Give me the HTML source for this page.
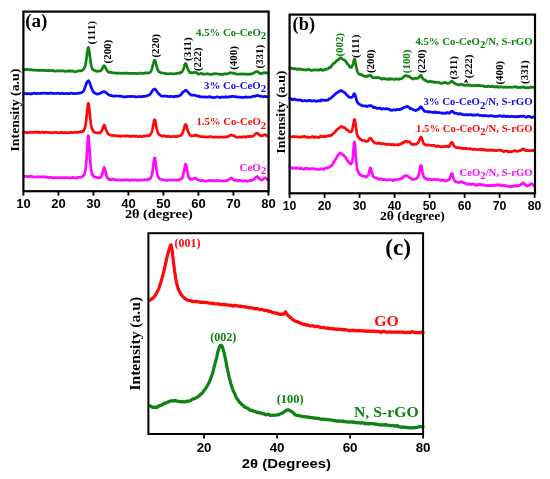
<!DOCTYPE html><html><head><meta charset="utf-8"><title>XRD patterns</title><style>html,body{margin:0;padding:0;background:#fff}svg{display:block}</style></head><body><svg width="550" height="479" viewBox="0 0 550 479">
<rect width="550" height="479" fill="#fff"/>
<path d="M23.4,69.7 L23.6,69.6 L23.8,69.5 L24.0,69.5 L24.2,69.6 L24.5,69.8 L24.7,69.8 L24.9,69.8 L25.1,69.7 L25.3,69.7 L25.5,69.7 L25.7,69.6 L25.9,69.5 L26.1,69.5 L26.3,69.4 L26.6,69.3 L26.8,69.3 L27.0,69.2 L27.2,69.2 L27.4,69.2 L27.6,69.3 L27.8,69.4 L28.0,69.6 L28.2,69.6 L28.4,69.6 L28.7,69.7 L28.9,69.7 L29.1,69.7 L29.3,69.8 L29.5,69.9 L29.7,69.9 L29.9,69.9 L30.1,69.9 L30.3,69.9 L30.5,69.9 L30.8,69.8 L31.0,69.8 L31.2,69.7 L31.4,69.7 L31.6,69.7 L31.8,69.8 L32.0,69.9 L32.2,69.9 L32.4,70.0 L32.6,70.1 L32.9,70.1 L33.1,70.1 L33.3,70.1 L33.5,70.1 L33.7,70.0 L33.9,69.9 L34.1,70.0 L34.3,70.2 L34.5,70.1 L34.7,70.0 L35.0,70.0 L35.2,70.1 L35.4,70.1 L35.6,70.1 L35.8,70.1 L36.0,70.2 L36.2,70.2 L36.4,70.2 L36.6,70.3 L36.8,70.4 L37.1,70.4 L37.3,70.5 L37.5,70.5 L37.7,70.5 L37.9,70.4 L38.1,70.3 L38.3,70.4 L38.5,70.4 L38.7,70.4 L38.9,70.3 L39.2,70.2 L39.4,70.3 L39.6,70.3 L39.8,70.3 L40.0,70.2 L40.2,70.2 L40.4,70.3 L40.6,70.3 L40.8,70.3 L41.0,70.4 L41.3,70.4 L41.5,70.3 L41.7,70.4 L41.9,70.4 L42.1,70.4 L42.3,70.4 L42.5,70.4 L42.7,70.4 L42.9,70.4 L43.1,70.3 L43.4,70.3 L43.6,70.3 L43.8,70.2 L44.0,70.2 L44.2,70.3 L44.4,70.4 L44.6,70.5 L44.8,70.6 L45.0,70.5 L45.2,70.6 L45.5,70.7 L45.7,70.7 L45.9,70.6 L46.1,70.6 L46.3,70.6 L46.5,70.7 L46.7,70.6 L46.9,70.5 L47.1,70.6 L47.3,70.6 L47.6,70.6 L47.8,70.5 L48.0,70.5 L48.2,70.4 L48.4,70.6 L48.6,70.6 L48.8,70.5 L49.0,70.4 L49.2,70.4 L49.4,70.5 L49.7,70.6 L49.9,70.7 L50.1,70.7 L50.3,70.7 L50.5,70.8 L50.7,70.9 L50.9,70.9 L51.1,70.9 L51.3,70.7 L51.5,70.6 L51.8,70.5 L52.0,70.3 L52.2,70.3 L52.4,70.4 L52.6,70.4 L52.8,70.5 L53.0,70.6 L53.2,70.7 L53.4,70.7 L53.6,70.7 L53.9,70.8 L54.1,71.0 L54.3,71.1 L54.5,71.1 L54.7,71.2 L54.9,71.2 L55.1,71.2 L55.3,71.1 L55.5,71.1 L55.7,71.1 L56.0,71.0 L56.2,70.9 L56.4,70.9 L56.6,70.8 L56.8,70.7 L57.0,70.8 L57.2,70.9 L57.4,70.9 L57.6,70.9 L57.8,70.8 L58.1,70.8 L58.3,71.0 L58.5,71.1 L58.7,71.1 L58.9,71.0 L59.1,70.9 L59.3,70.9 L59.5,70.8 L59.7,70.8 L59.9,70.9 L60.2,70.9 L60.4,70.9 L60.6,70.9 L60.8,70.8 L61.0,70.8 L61.2,70.8 L61.4,70.8 L61.6,70.9 L61.8,70.9 L62.0,70.8 L62.3,70.8 L62.5,70.9 L62.7,70.9 L62.9,70.8 L63.1,70.8 L63.3,70.9 L63.5,71.0 L63.7,71.0 L63.9,71.1 L64.1,71.3 L64.4,71.3 L64.6,71.4 L64.8,71.3 L65.0,71.3 L65.2,71.3 L65.4,71.4 L65.6,71.3 L65.8,71.1 L66.0,71.0 L66.2,71.1 L66.5,71.1 L66.7,71.1 L66.9,71.1 L67.1,71.2 L67.3,71.3 L67.5,71.3 L67.7,71.3 L67.9,71.3 L68.1,71.2 L68.3,71.1 L68.6,70.9 L68.8,70.9 L69.0,70.8 L69.2,70.8 L69.4,70.7 L69.6,70.7 L69.8,70.8 L70.0,71.0 L70.2,71.2 L70.4,71.2 L70.7,71.2 L70.9,71.2 L71.1,71.3 L71.3,71.2 L71.5,71.2 L71.7,71.1 L71.9,71.2 L72.1,71.1 L72.3,71.0 L72.5,70.9 L72.8,71.0 L73.0,71.0 L73.2,71.1 L73.4,71.3 L73.6,71.4 L73.8,71.5 L74.0,71.6 L74.2,71.7 L74.4,71.6 L74.6,71.5 L74.9,71.6 L75.1,71.7 L75.3,71.8 L75.5,71.8 L75.7,71.7 L75.9,71.6 L76.1,71.5 L76.3,71.4 L76.5,71.5 L76.7,71.5 L77.0,71.3 L77.2,71.1 L77.4,71.2 L77.6,71.2 L77.8,71.1 L78.0,71.1 L78.2,71.0 L78.4,71.0 L78.6,70.9 L78.8,70.8 L79.1,70.9 L79.3,70.9 L79.5,70.9 L79.7,70.9 L79.9,70.9 L80.1,71.0 L80.3,71.0 L80.5,71.0 L80.7,70.9 L80.9,70.8 L81.2,70.7 L81.4,70.7 L81.6,70.7 L81.8,70.6 L82.0,70.5 L82.2,70.3 L82.4,70.3 L82.6,70.2 L82.8,70.1 L83.0,69.8 L83.3,69.6 L83.5,69.4 L83.7,69.1 L83.9,68.8 L84.1,68.4 L84.3,68.1 L84.5,67.7 L84.7,67.3 L84.9,66.8 L85.1,66.1 L85.4,65.1 L85.6,64.1 L85.8,63.1 L86.0,61.9 L86.2,60.6 L86.4,59.0 L86.6,57.4 L86.8,55.8 L87.0,54.2 L87.2,52.6 L87.5,51.0 L87.7,49.6 L87.9,48.4 L88.1,47.7 L88.3,47.4 L88.5,47.6 L88.7,48.2 L88.9,49.3 L89.1,50.6 L89.3,52.1 L89.6,53.7 L89.8,55.4 L90.0,57.1 L90.2,58.7 L90.4,60.2 L90.6,61.6 L90.8,62.9 L91.0,64.0 L91.2,65.1 L91.4,66.1 L91.7,66.9 L91.9,67.6 L92.1,68.2 L92.3,68.6 L92.5,68.9 L92.7,69.3 L92.9,69.5 L93.1,69.7 L93.3,69.9 L93.5,70.1 L93.8,70.1 L94.0,70.2 L94.2,70.2 L94.4,70.3 L94.6,70.3 L94.8,70.5 L95.0,70.8 L95.2,70.9 L95.4,70.9 L95.6,71.0 L95.9,71.0 L96.1,71.0 L96.3,71.1 L96.5,71.2 L96.7,71.3 L96.9,71.3 L97.1,71.3 L97.3,71.3 L97.5,71.2 L97.7,71.1 L98.0,71.1 L98.2,71.1 L98.4,71.0 L98.6,71.0 L98.8,71.1 L99.0,71.1 L99.2,71.1 L99.4,71.1 L99.6,71.1 L99.8,71.0 L100.1,71.0 L100.3,71.0 L100.5,70.9 L100.7,70.7 L100.9,70.6 L101.1,70.4 L101.3,70.2 L101.5,70.0 L101.7,69.6 L101.9,69.3 L102.2,68.9 L102.4,68.5 L102.6,68.0 L102.8,67.7 L103.0,67.3 L103.2,66.9 L103.4,66.5 L103.6,66.2 L103.8,65.9 L104.0,65.8 L104.3,65.8 L104.5,65.9 L104.7,66.1 L104.9,66.5 L105.1,66.9 L105.3,67.3 L105.5,67.8 L105.7,68.2 L105.9,68.6 L106.1,68.9 L106.4,69.3 L106.6,69.8 L106.8,70.1 L107.0,70.3 L107.2,70.6 L107.4,70.9 L107.6,71.2 L107.8,71.5 L108.0,71.8 L108.2,72.0 L108.5,72.1 L108.7,72.3 L108.9,72.3 L109.1,72.2 L109.3,72.3 L109.5,72.4 L109.7,72.3 L109.9,72.2 L110.1,72.1 L110.3,72.1 L110.6,72.1 L110.8,72.3 L111.0,72.4 L111.2,72.5 L111.4,72.5 L111.6,72.6 L111.8,72.8 L112.0,72.9 L112.2,72.9 L112.4,72.9 L112.7,72.9 L112.9,72.9 L113.1,73.0 L113.3,73.0 L113.5,72.9 L113.7,72.9 L113.9,72.9 L114.1,72.9 L114.3,72.9 L114.5,72.9 L114.8,72.9 L115.0,73.0 L115.2,73.0 L115.4,73.1 L115.6,73.1 L115.8,73.0 L116.0,73.1 L116.2,73.2 L116.4,73.3 L116.6,73.2 L116.9,73.3 L117.1,73.3 L117.3,73.3 L117.5,73.3 L117.7,73.2 L117.9,73.2 L118.1,73.2 L118.3,73.2 L118.5,73.1 L118.7,73.1 L119.0,73.2 L119.2,73.1 L119.4,73.1 L119.6,73.2 L119.8,73.2 L120.0,73.2 L120.2,73.2 L120.4,73.3 L120.6,73.4 L120.8,73.4 L121.1,73.3 L121.3,73.3 L121.5,73.3 L121.7,73.4 L121.9,73.4 L122.1,73.3 L122.3,73.3 L122.5,73.3 L122.7,73.2 L122.9,73.0 L123.2,73.1 L123.4,73.1 L123.6,73.1 L123.8,73.1 L124.0,73.1 L124.2,73.1 L124.4,73.0 L124.6,73.1 L124.8,73.2 L125.0,73.3 L125.3,73.3 L125.5,73.2 L125.7,73.2 L125.9,73.2 L126.1,73.4 L126.3,73.3 L126.5,73.2 L126.7,73.1 L126.9,73.1 L127.1,73.1 L127.4,73.2 L127.6,73.2 L127.8,73.2 L128.0,73.2 L128.2,73.3 L128.4,73.4 L128.6,73.5 L128.8,73.6 L129.0,73.6 L129.2,73.5 L129.5,73.5 L129.7,73.5 L129.9,73.4 L130.1,73.3 L130.3,73.3 L130.5,73.3 L130.7,73.4 L130.9,73.4 L131.1,73.4 L131.3,73.3 L131.6,73.4 L131.8,73.5 L132.0,73.4 L132.2,73.3 L132.4,73.4 L132.6,73.4 L132.8,73.4 L133.0,73.3 L133.2,73.3 L133.4,73.3 L133.7,73.4 L133.9,73.5 L134.1,73.4 L134.3,73.4 L134.5,73.4 L134.7,73.3 L134.9,73.3 L135.1,73.3 L135.3,73.3 L135.5,73.3 L135.8,73.3 L136.0,73.3 L136.2,73.4 L136.4,73.4 L136.6,73.5 L136.8,73.6 L137.0,73.8 L137.2,73.8 L137.4,73.6 L137.6,73.6 L137.9,73.5 L138.1,73.5 L138.3,73.5 L138.5,73.5 L138.7,73.5 L138.9,73.5 L139.1,73.3 L139.3,73.3 L139.5,73.3 L139.7,73.2 L140.0,73.1 L140.2,73.1 L140.4,73.0 L140.6,73.0 L140.8,72.9 L141.0,73.0 L141.2,73.1 L141.4,73.1 L141.6,73.2 L141.8,73.4 L142.1,73.4 L142.3,73.3 L142.5,73.3 L142.7,73.4 L142.9,73.4 L143.1,73.3 L143.3,73.2 L143.5,73.2 L143.7,73.2 L143.9,73.3 L144.2,73.3 L144.4,73.2 L144.6,73.1 L144.8,73.1 L145.0,73.2 L145.2,73.1 L145.4,72.9 L145.6,72.9 L145.8,72.8 L146.0,72.7 L146.3,72.8 L146.5,73.0 L146.7,73.1 L146.9,73.0 L147.1,73.1 L147.3,73.2 L147.5,73.2 L147.7,73.0 L147.9,73.0 L148.1,73.0 L148.4,72.9 L148.6,72.9 L148.8,72.9 L149.0,72.8 L149.2,72.7 L149.4,72.6 L149.6,72.6 L149.8,72.5 L150.0,72.3 L150.2,72.1 L150.5,71.9 L150.7,71.7 L150.9,71.4 L151.1,71.0 L151.3,70.4 L151.5,69.9 L151.7,69.4 L151.9,68.7 L152.1,67.9 L152.3,67.2 L152.6,66.5 L152.8,65.7 L153.0,64.9 L153.2,64.1 L153.4,63.3 L153.6,62.4 L153.8,61.6 L154.0,61.0 L154.2,60.6 L154.4,60.3 L154.7,60.2 L154.9,60.4 L155.1,60.6 L155.3,61.0 L155.5,61.6 L155.7,62.4 L155.9,63.3 L156.1,64.2 L156.3,65.2 L156.5,66.1 L156.8,66.8 L157.0,67.6 L157.2,68.3 L157.4,68.9 L157.6,69.3 L157.8,69.7 L158.0,70.1 L158.2,70.6 L158.4,71.1 L158.6,71.4 L158.9,71.7 L159.1,71.9 L159.3,72.0 L159.5,72.1 L159.7,72.1 L159.9,72.2 L160.1,72.3 L160.3,72.4 L160.5,72.6 L160.7,72.8 L161.0,72.8 L161.2,72.8 L161.4,72.9 L161.6,73.0 L161.8,72.9 L162.0,72.9 L162.2,73.0 L162.4,73.0 L162.6,73.0 L162.8,73.0 L163.1,73.0 L163.3,73.1 L163.5,73.1 L163.7,73.0 L163.9,73.1 L164.1,73.2 L164.3,73.3 L164.5,73.3 L164.7,73.4 L164.9,73.5 L165.2,73.6 L165.4,73.6 L165.6,73.5 L165.8,73.6 L166.0,73.6 L166.2,73.6 L166.4,73.5 L166.6,73.6 L166.8,73.7 L167.0,73.7 L167.3,73.8 L167.5,73.8 L167.7,73.8 L167.9,73.8 L168.1,73.9 L168.3,73.9 L168.5,73.9 L168.7,73.9 L168.9,73.9 L169.1,73.9 L169.4,73.9 L169.6,73.8 L169.8,73.6 L170.0,73.5 L170.2,73.6 L170.4,73.5 L170.6,73.5 L170.8,73.6 L171.0,73.6 L171.2,73.5 L171.5,73.6 L171.7,73.7 L171.9,73.6 L172.1,73.6 L172.3,73.7 L172.5,73.9 L172.7,73.9 L172.9,73.8 L173.1,73.8 L173.3,73.9 L173.6,73.8 L173.8,73.8 L174.0,73.9 L174.2,73.9 L174.4,73.9 L174.6,73.9 L174.8,73.9 L175.0,73.8 L175.2,73.7 L175.4,73.7 L175.7,73.7 L175.9,73.7 L176.1,73.5 L176.3,73.4 L176.5,73.5 L176.7,73.5 L176.9,73.5 L177.1,73.4 L177.3,73.3 L177.5,73.2 L177.8,73.1 L178.0,73.0 L178.2,73.1 L178.4,73.1 L178.6,73.0 L178.8,73.0 L179.0,73.0 L179.2,73.2 L179.4,73.3 L179.6,73.3 L179.9,73.2 L180.1,72.9 L180.3,72.7 L180.5,72.8 L180.7,72.7 L180.9,72.5 L181.1,72.4 L181.3,72.3 L181.5,72.2 L181.7,72.0 L182.0,71.8 L182.2,71.6 L182.4,71.2 L182.6,70.9 L182.8,70.5 L183.0,69.9 L183.2,69.4 L183.4,69.0 L183.6,68.5 L183.8,67.9 L184.1,67.2 L184.3,66.5 L184.5,65.7 L184.7,65.1 L184.9,64.5 L185.1,64.0 L185.3,63.7 L185.5,63.5 L185.7,63.5 L185.9,63.7 L186.2,64.0 L186.4,64.5 L186.6,65.3 L186.8,66.0 L187.0,66.6 L187.2,67.2 L187.4,67.8 L187.6,68.3 L187.8,68.9 L188.0,69.4 L188.3,69.8 L188.5,70.3 L188.7,70.7 L188.9,71.0 L189.1,71.4 L189.3,71.8 L189.5,72.1 L189.7,72.2 L189.9,72.5 L190.1,72.7 L190.4,72.8 L190.6,72.8 L190.8,72.7 L191.0,72.6 L191.2,72.6 L191.4,72.7 L191.6,72.7 L191.8,72.7 L192.0,72.7 L192.2,72.8 L192.5,72.8 L192.7,72.9 L192.9,72.8 L193.1,72.8 L193.3,72.7 L193.5,72.6 L193.7,72.5 L193.9,72.4 L194.1,72.4 L194.3,72.5 L194.6,72.6 L194.8,72.6 L195.0,72.5 L195.2,72.5 L195.4,72.5 L195.6,72.4 L195.8,72.4 L196.0,72.5 L196.2,72.6 L196.4,72.6 L196.7,72.7 L196.9,73.0 L197.1,73.2 L197.3,73.2 L197.5,73.4 L197.7,73.7 L197.9,73.9 L198.1,74.0 L198.3,74.0 L198.5,74.1 L198.8,74.1 L199.0,74.1 L199.2,74.0 L199.4,73.9 L199.6,73.9 L199.8,73.8 L200.0,73.7 L200.2,73.6 L200.4,73.5 L200.6,73.5 L200.9,73.4 L201.1,73.4 L201.3,73.5 L201.5,73.5 L201.7,73.6 L201.9,73.7 L202.1,73.7 L202.3,73.7 L202.5,73.8 L202.7,74.0 L203.0,74.2 L203.2,74.2 L203.4,74.1 L203.6,74.1 L203.8,74.2 L204.0,74.1 L204.2,74.0 L204.4,74.0 L204.6,74.1 L204.8,74.1 L205.1,74.1 L205.3,74.1 L205.5,74.2 L205.7,74.2 L205.9,74.2 L206.1,74.1 L206.3,74.0 L206.5,74.0 L206.7,73.9 L206.9,73.8 L207.2,73.8 L207.4,73.8 L207.6,73.7 L207.8,73.8 L208.0,73.9 L208.2,73.9 L208.4,74.0 L208.6,74.1 L208.8,74.1 L209.0,74.1 L209.3,74.0 L209.5,73.9 L209.7,74.1 L209.9,74.2 L210.1,74.3 L210.3,74.3 L210.5,74.5 L210.7,74.5 L210.9,74.6 L211.1,74.5 L211.4,74.4 L211.6,74.3 L211.8,74.3 L212.0,74.2 L212.2,74.1 L212.4,74.0 L212.6,73.9 L212.8,73.9 L213.0,73.9 L213.2,74.1 L213.5,74.1 L213.7,74.0 L213.9,73.9 L214.1,73.9 L214.3,73.8 L214.5,73.7 L214.7,73.7 L214.9,73.7 L215.1,73.6 L215.3,73.6 L215.6,73.6 L215.8,73.7 L216.0,73.6 L216.2,73.5 L216.4,73.6 L216.6,73.8 L216.8,73.8 L217.0,73.9 L217.2,73.9 L217.4,74.0 L217.7,74.0 L217.9,74.0 L218.1,74.0 L218.3,74.0 L218.5,74.0 L218.7,74.1 L218.9,74.2 L219.1,74.2 L219.3,74.2 L219.5,74.3 L219.8,74.4 L220.0,74.4 L220.2,74.4 L220.4,74.3 L220.6,74.3 L220.8,74.3 L221.0,74.2 L221.2,74.2 L221.4,74.3 L221.6,74.4 L221.9,74.5 L222.1,74.5 L222.3,74.5 L222.5,74.4 L222.7,74.4 L222.9,74.3 L223.1,74.3 L223.3,74.3 L223.5,74.2 L223.7,74.1 L224.0,74.0 L224.2,73.9 L224.4,73.8 L224.6,73.7 L224.8,73.8 L225.0,73.8 L225.2,73.9 L225.4,73.9 L225.6,73.9 L225.8,74.1 L226.1,74.1 L226.3,74.0 L226.5,73.9 L226.7,73.9 L226.9,73.9 L227.1,73.8 L227.3,73.7 L227.5,73.7 L227.7,73.5 L227.9,73.5 L228.2,73.5 L228.4,73.4 L228.6,73.3 L228.8,73.3 L229.0,73.2 L229.2,73.0 L229.4,72.9 L229.6,72.8 L229.8,72.8 L230.0,72.8 L230.3,72.7 L230.5,72.7 L230.7,72.8 L230.9,72.9 L231.1,72.9 L231.3,72.9 L231.5,72.9 L231.7,73.0 L231.9,73.0 L232.1,73.1 L232.4,73.1 L232.6,73.1 L232.8,73.2 L233.0,73.3 L233.2,73.2 L233.4,73.3 L233.6,73.3 L233.8,73.4 L234.0,73.5 L234.2,73.5 L234.5,73.4 L234.7,73.4 L234.9,73.5 L235.1,73.6 L235.3,73.7 L235.5,73.7 L235.7,73.9 L235.9,74.0 L236.1,74.1 L236.3,74.1 L236.6,74.1 L236.8,74.1 L237.0,74.1 L237.2,74.1 L237.4,74.1 L237.6,74.1 L237.8,74.1 L238.0,74.2 L238.2,74.2 L238.4,74.2 L238.7,74.2 L238.9,74.2 L239.1,74.2 L239.3,74.1 L239.5,74.0 L239.7,74.0 L239.9,74.0 L240.1,74.0 L240.3,73.9 L240.5,74.0 L240.8,74.1 L241.0,74.0 L241.2,74.0 L241.4,74.0 L241.6,74.0 L241.8,73.9 L242.0,73.9 L242.2,74.0 L242.4,74.1 L242.6,74.0 L242.9,74.0 L243.1,73.9 L243.3,74.0 L243.5,74.1 L243.7,74.0 L243.9,74.1 L244.1,74.0 L244.3,74.0 L244.5,74.0 L244.7,73.9 L245.0,74.0 L245.2,74.0 L245.4,74.0 L245.6,74.1 L245.8,74.3 L246.0,74.4 L246.2,74.4 L246.4,74.5 L246.6,74.5 L246.8,74.3 L247.1,74.1 L247.3,74.2 L247.5,74.1 L247.7,74.1 L247.9,74.0 L248.1,74.1 L248.3,74.3 L248.5,74.4 L248.7,74.3 L248.9,74.3 L249.2,74.2 L249.4,74.2 L249.6,74.2 L249.8,74.1 L250.0,74.0 L250.2,73.9 L250.4,73.8 L250.6,73.8 L250.8,74.0 L251.0,74.1 L251.3,74.0 L251.5,74.0 L251.7,73.9 L251.9,73.9 L252.1,73.8 L252.3,73.7 L252.5,73.6 L252.7,73.5 L252.9,73.4 L253.1,73.3 L253.4,73.2 L253.6,73.1 L253.8,73.0 L254.0,72.9 L254.2,72.7 L254.4,72.6 L254.6,72.5 L254.8,72.4 L255.0,72.2 L255.2,72.0 L255.5,71.9 L255.7,71.8 L255.9,71.7 L256.1,71.7 L256.3,71.7 L256.5,71.5 L256.7,71.5 L256.9,71.5 L257.1,71.6 L257.3,71.7 L257.6,71.8 L257.8,71.9 L258.0,71.8 L258.2,71.9 L258.4,72.2 L258.6,72.3 L258.8,72.4 L259.0,72.6 L259.2,72.8 L259.4,73.0 L259.7,73.2 L259.9,73.5 L260.1,73.6 L260.3,73.6 L260.5,73.6 L260.7,73.6 L260.9,73.6 L261.1,73.5 L261.3,73.4 L261.5,73.5 L261.8,73.5 L262.0,73.5 L262.2,73.4 L262.4,73.3 L262.6,73.3 L262.8,73.1 L263.0,72.9 L263.2,72.9 L263.4,72.9 L263.6,72.8 L263.9,72.8 L264.1,72.8 L264.3,72.7 L264.5,72.7 L264.7,72.8 L264.9,72.8 L265.1,72.7 L265.3,72.7 L265.5,72.8 L265.7,72.8 L266.0,72.9 L266.2,72.8 L266.4,72.7 L266.6,72.8 L266.8,72.9 L267.0,73.0 L267.2,73.1 L267.4,73.2 L267.6,73.2 L267.8,73.3 L268.1,73.5 L268.3,73.6" fill="none" stroke="#0f830f" stroke-width="2.7" stroke-linejoin="round" stroke-linecap="round"/>
<path d="M23.4,93.8 L23.6,93.8 L23.8,93.7 L24.0,93.6 L24.2,93.6 L24.5,93.6 L24.7,93.7 L24.9,93.6 L25.1,93.5 L25.3,93.6 L25.5,93.6 L25.7,93.6 L25.9,93.6 L26.1,93.6 L26.3,93.7 L26.6,93.8 L26.8,93.8 L27.0,93.8 L27.2,93.7 L27.4,93.8 L27.6,93.7 L27.8,93.6 L28.0,93.5 L28.2,93.6 L28.4,93.6 L28.7,93.6 L28.9,93.6 L29.1,93.6 L29.3,93.6 L29.5,93.6 L29.7,93.7 L29.9,93.8 L30.1,93.8 L30.3,93.8 L30.5,93.8 L30.8,93.8 L31.0,93.6 L31.2,93.6 L31.4,93.7 L31.6,93.7 L31.8,93.8 L32.0,93.8 L32.2,93.7 L32.4,93.6 L32.6,93.6 L32.9,93.6 L33.1,93.5 L33.3,93.4 L33.5,93.4 L33.7,93.3 L33.9,93.2 L34.1,93.2 L34.3,93.2 L34.5,93.1 L34.7,93.2 L35.0,93.3 L35.2,93.5 L35.4,93.5 L35.6,93.5 L35.8,93.6 L36.0,93.6 L36.2,93.7 L36.4,93.6 L36.6,93.5 L36.8,93.4 L37.1,93.3 L37.3,93.2 L37.5,93.3 L37.7,93.3 L37.9,93.4 L38.1,93.5 L38.3,93.5 L38.5,93.6 L38.7,93.5 L38.9,93.5 L39.2,93.5 L39.4,93.5 L39.6,93.5 L39.8,93.5 L40.0,93.5 L40.2,93.5 L40.4,93.4 L40.6,93.4 L40.8,93.4 L41.0,93.4 L41.3,93.4 L41.5,93.3 L41.7,93.3 L41.9,93.3 L42.1,93.2 L42.3,93.0 L42.5,93.0 L42.7,93.0 L42.9,93.1 L43.1,93.1 L43.4,93.1 L43.6,93.1 L43.8,93.3 L44.0,93.3 L44.2,93.3 L44.4,93.3 L44.6,93.4 L44.8,93.4 L45.0,93.2 L45.2,93.1 L45.5,93.0 L45.7,93.0 L45.9,93.1 L46.1,93.2 L46.3,93.2 L46.5,93.4 L46.7,93.4 L46.9,93.4 L47.1,93.5 L47.3,93.6 L47.6,93.6 L47.8,93.4 L48.0,93.4 L48.2,93.5 L48.4,93.5 L48.6,93.6 L48.8,93.5 L49.0,93.5 L49.2,93.4 L49.4,93.3 L49.7,93.2 L49.9,93.1 L50.1,93.0 L50.3,93.0 L50.5,92.9 L50.7,93.0 L50.9,93.1 L51.1,93.1 L51.3,93.3 L51.5,93.4 L51.8,93.4 L52.0,93.3 L52.2,93.4 L52.4,93.5 L52.6,93.4 L52.8,93.4 L53.0,93.5 L53.2,93.5 L53.4,93.5 L53.6,93.5 L53.9,93.4 L54.1,93.4 L54.3,93.4 L54.5,93.4 L54.7,93.4 L54.9,93.5 L55.1,93.5 L55.3,93.5 L55.5,93.5 L55.7,93.5 L56.0,93.5 L56.2,93.5 L56.4,93.5 L56.6,93.5 L56.8,93.4 L57.0,93.3 L57.2,93.3 L57.4,93.2 L57.6,93.2 L57.8,93.3 L58.1,93.4 L58.3,93.3 L58.5,93.3 L58.7,93.3 L58.9,93.5 L59.1,93.5 L59.3,93.5 L59.5,93.5 L59.7,93.6 L59.9,93.6 L60.2,93.6 L60.4,93.7 L60.6,93.7 L60.8,93.7 L61.0,93.7 L61.2,93.6 L61.4,93.5 L61.6,93.5 L61.8,93.4 L62.0,93.2 L62.3,93.2 L62.5,93.3 L62.7,93.3 L62.9,93.3 L63.1,93.4 L63.3,93.5 L63.5,93.6 L63.7,93.7 L63.9,93.7 L64.1,93.6 L64.4,93.5 L64.6,93.6 L64.8,93.6 L65.0,93.6 L65.2,93.5 L65.4,93.4 L65.6,93.5 L65.8,93.5 L66.0,93.5 L66.2,93.5 L66.5,93.4 L66.7,93.5 L66.9,93.6 L67.1,93.6 L67.3,93.5 L67.5,93.5 L67.7,93.6 L67.9,93.7 L68.1,93.7 L68.3,93.7 L68.6,93.7 L68.8,93.6 L69.0,93.6 L69.2,93.7 L69.4,93.7 L69.6,93.7 L69.8,93.6 L70.0,93.5 L70.2,93.5 L70.4,93.4 L70.7,93.3 L70.9,93.2 L71.1,93.1 L71.3,93.0 L71.5,93.1 L71.7,93.2 L71.9,93.2 L72.1,93.3 L72.3,93.4 L72.5,93.4 L72.8,93.4 L73.0,93.5 L73.2,93.6 L73.4,93.6 L73.6,93.5 L73.8,93.5 L74.0,93.5 L74.2,93.5 L74.4,93.5 L74.6,93.5 L74.9,93.6 L75.1,93.7 L75.3,93.7 L75.5,93.6 L75.7,93.5 L75.9,93.5 L76.1,93.5 L76.3,93.5 L76.5,93.4 L76.7,93.4 L77.0,93.3 L77.2,93.4 L77.4,93.4 L77.6,93.3 L77.8,93.2 L78.0,93.3 L78.2,93.3 L78.4,93.2 L78.6,93.2 L78.8,93.1 L79.1,93.1 L79.3,93.1 L79.5,93.2 L79.7,93.3 L79.9,93.2 L80.1,93.1 L80.3,93.1 L80.5,93.0 L80.7,92.9 L80.9,92.9 L81.2,92.8 L81.4,92.7 L81.6,92.5 L81.8,92.4 L82.0,92.3 L82.2,92.2 L82.4,92.1 L82.6,92.0 L82.8,91.9 L83.0,91.7 L83.3,91.4 L83.5,91.0 L83.7,90.7 L83.9,90.3 L84.1,89.9 L84.3,89.4 L84.5,88.8 L84.7,88.2 L84.9,87.6 L85.1,87.0 L85.4,86.5 L85.6,85.9 L85.8,85.3 L86.0,84.7 L86.2,84.1 L86.4,83.6 L86.6,83.1 L86.8,82.5 L87.0,82.1 L87.2,81.8 L87.5,81.6 L87.7,81.3 L87.9,81.1 L88.1,80.9 L88.3,80.7 L88.5,80.7 L88.7,80.9 L88.9,81.2 L89.1,81.6 L89.3,82.0 L89.6,82.5 L89.8,83.0 L90.0,83.6 L90.2,84.2 L90.4,84.9 L90.6,85.4 L90.8,86.0 L91.0,86.7 L91.2,87.4 L91.4,87.9 L91.7,88.5 L91.9,89.0 L92.1,89.4 L92.3,89.8 L92.5,90.1 L92.7,90.5 L92.9,91.0 L93.1,91.4 L93.3,91.8 L93.5,92.1 L93.8,92.3 L94.0,92.5 L94.2,92.6 L94.4,92.7 L94.6,92.8 L94.8,93.0 L95.0,93.1 L95.2,93.2 L95.4,93.3 L95.6,93.5 L95.9,93.6 L96.1,93.6 L96.3,93.7 L96.5,93.8 L96.7,94.0 L96.9,94.1 L97.1,94.0 L97.3,94.1 L97.5,94.1 L97.7,94.1 L98.0,94.1 L98.2,94.0 L98.4,93.9 L98.6,93.8 L98.8,93.7 L99.0,93.7 L99.2,93.7 L99.4,93.7 L99.6,93.6 L99.8,93.4 L100.1,93.3 L100.3,93.3 L100.5,93.2 L100.7,93.1 L100.9,92.9 L101.1,92.7 L101.3,92.7 L101.5,92.6 L101.7,92.4 L101.9,92.3 L102.2,92.3 L102.4,92.2 L102.6,92.1 L102.8,91.9 L103.0,91.8 L103.2,91.8 L103.4,91.7 L103.6,91.6 L103.8,91.5 L104.0,91.5 L104.3,91.6 L104.5,91.6 L104.7,91.7 L104.9,91.8 L105.1,91.9 L105.3,92.0 L105.5,92.1 L105.7,92.4 L105.9,92.6 L106.1,92.8 L106.4,93.0 L106.6,93.1 L106.8,93.3 L107.0,93.4 L107.2,93.5 L107.4,93.7 L107.6,93.9 L107.8,94.1 L108.0,94.2 L108.2,94.3 L108.5,94.5 L108.7,94.7 L108.9,94.9 L109.1,95.0 L109.3,95.1 L109.5,95.3 L109.7,95.4 L109.9,95.4 L110.1,95.4 L110.3,95.4 L110.6,95.6 L110.8,95.7 L111.0,95.7 L111.2,95.6 L111.4,95.6 L111.6,95.6 L111.8,95.6 L112.0,95.8 L112.2,95.9 L112.4,95.9 L112.7,95.9 L112.9,96.0 L113.1,96.1 L113.3,96.1 L113.5,96.1 L113.7,96.2 L113.9,96.1 L114.1,96.2 L114.3,96.2 L114.5,96.1 L114.8,96.0 L115.0,96.1 L115.2,96.1 L115.4,95.9 L115.6,95.9 L115.8,95.9 L116.0,95.9 L116.2,95.9 L116.4,96.0 L116.6,96.0 L116.9,96.0 L117.1,96.0 L117.3,96.0 L117.5,96.0 L117.7,96.0 L117.9,96.0 L118.1,96.0 L118.3,96.1 L118.5,96.1 L118.7,96.1 L119.0,96.1 L119.2,96.1 L119.4,96.1 L119.6,96.1 L119.8,96.1 L120.0,96.1 L120.2,96.1 L120.4,96.1 L120.6,96.2 L120.8,96.3 L121.1,96.2 L121.3,96.2 L121.5,96.3 L121.7,96.4 L121.9,96.5 L122.1,96.5 L122.3,96.5 L122.5,96.5 L122.7,96.5 L122.9,96.7 L123.2,96.8 L123.4,96.8 L123.6,96.8 L123.8,96.8 L124.0,96.8 L124.2,96.8 L124.4,96.8 L124.6,96.8 L124.8,96.8 L125.0,96.8 L125.3,96.8 L125.5,96.9 L125.7,96.8 L125.9,96.8 L126.1,96.7 L126.3,96.6 L126.5,96.6 L126.7,96.5 L126.9,96.4 L127.1,96.5 L127.4,96.5 L127.6,96.6 L127.8,96.6 L128.0,96.6 L128.2,96.6 L128.4,96.5 L128.6,96.4 L128.8,96.5 L129.0,96.4 L129.2,96.3 L129.5,96.3 L129.7,96.3 L129.9,96.4 L130.1,96.5 L130.3,96.6 L130.5,96.6 L130.7,96.6 L130.9,96.6 L131.1,96.5 L131.3,96.4 L131.6,96.4 L131.8,96.5 L132.0,96.5 L132.2,96.5 L132.4,96.4 L132.6,96.3 L132.8,96.4 L133.0,96.4 L133.2,96.4 L133.4,96.5 L133.7,96.5 L133.9,96.6 L134.1,96.7 L134.3,96.7 L134.5,96.7 L134.7,96.7 L134.9,96.7 L135.1,96.7 L135.3,96.8 L135.5,96.9 L135.8,96.9 L136.0,97.0 L136.2,96.9 L136.4,96.9 L136.6,97.0 L136.8,97.0 L137.0,97.0 L137.2,96.9 L137.4,96.8 L137.6,96.8 L137.9,96.7 L138.1,96.7 L138.3,96.7 L138.5,96.6 L138.7,96.5 L138.9,96.5 L139.1,96.5 L139.3,96.6 L139.5,96.6 L139.7,96.5 L140.0,96.5 L140.2,96.6 L140.4,96.6 L140.6,96.5 L140.8,96.5 L141.0,96.6 L141.2,96.8 L141.4,96.8 L141.6,96.8 L141.8,96.8 L142.1,96.7 L142.3,96.5 L142.5,96.4 L142.7,96.4 L142.9,96.4 L143.1,96.3 L143.3,96.3 L143.5,96.4 L143.7,96.4 L143.9,96.4 L144.2,96.5 L144.4,96.4 L144.6,96.3 L144.8,96.3 L145.0,96.2 L145.2,96.1 L145.4,96.0 L145.6,96.0 L145.8,96.1 L146.0,96.1 L146.3,96.0 L146.5,96.0 L146.7,95.9 L146.9,95.9 L147.1,95.8 L147.3,95.8 L147.5,95.7 L147.7,95.6 L147.9,95.5 L148.1,95.4 L148.4,95.3 L148.6,95.2 L148.8,95.1 L149.0,95.1 L149.2,94.9 L149.4,94.8 L149.6,94.7 L149.8,94.6 L150.0,94.4 L150.2,94.2 L150.5,94.0 L150.7,93.6 L150.9,93.3 L151.1,93.0 L151.3,92.5 L151.5,92.1 L151.7,91.8 L151.9,91.4 L152.1,91.2 L152.3,90.9 L152.6,90.6 L152.8,90.4 L153.0,90.2 L153.2,90.0 L153.4,89.7 L153.6,89.5 L153.8,89.3 L154.0,89.2 L154.2,89.1 L154.4,89.1 L154.7,89.1 L154.9,89.2 L155.1,89.2 L155.3,89.4 L155.5,89.6 L155.7,89.7 L155.9,89.8 L156.1,90.1 L156.3,90.4 L156.5,90.8 L156.8,91.3 L157.0,91.6 L157.2,91.8 L157.4,92.1 L157.6,92.5 L157.8,92.7 L158.0,92.9 L158.2,93.1 L158.4,93.4 L158.6,93.6 L158.9,93.9 L159.1,94.1 L159.3,94.3 L159.5,94.5 L159.7,94.7 L159.9,94.8 L160.1,95.0 L160.3,95.2 L160.5,95.4 L160.7,95.6 L161.0,95.7 L161.2,95.9 L161.4,96.1 L161.6,96.1 L161.8,96.1 L162.0,96.1 L162.2,96.2 L162.4,96.2 L162.6,96.2 L162.8,96.2 L163.1,96.3 L163.3,96.4 L163.5,96.4 L163.7,96.4 L163.9,96.3 L164.1,96.2 L164.3,96.0 L164.5,95.9 L164.7,96.0 L164.9,96.1 L165.2,96.1 L165.4,96.2 L165.6,96.1 L165.8,96.1 L166.0,96.1 L166.2,96.1 L166.4,96.2 L166.6,96.1 L166.8,96.3 L167.0,96.4 L167.3,96.4 L167.5,96.4 L167.7,96.4 L167.9,96.5 L168.1,96.5 L168.3,96.5 L168.5,96.5 L168.7,96.5 L168.9,96.5 L169.1,96.6 L169.4,96.5 L169.6,96.4 L169.8,96.3 L170.0,96.4 L170.2,96.5 L170.4,96.6 L170.6,96.6 L170.8,96.6 L171.0,96.6 L171.2,96.5 L171.5,96.5 L171.7,96.5 L171.9,96.5 L172.1,96.4 L172.3,96.4 L172.5,96.4 L172.7,96.5 L172.9,96.6 L173.1,96.7 L173.3,96.8 L173.6,96.9 L173.8,96.8 L174.0,96.8 L174.2,96.8 L174.4,96.7 L174.6,96.6 L174.8,96.4 L175.0,96.3 L175.2,96.2 L175.4,96.3 L175.7,96.3 L175.9,96.4 L176.1,96.4 L176.3,96.3 L176.5,96.2 L176.7,96.4 L176.9,96.4 L177.1,96.4 L177.3,96.3 L177.5,96.2 L177.8,96.2 L178.0,96.2 L178.2,96.2 L178.4,96.2 L178.6,96.1 L178.8,96.0 L179.0,95.9 L179.2,95.9 L179.4,95.8 L179.6,95.6 L179.9,95.4 L180.1,95.3 L180.3,95.1 L180.5,94.9 L180.7,94.8 L180.9,94.7 L181.1,94.6 L181.3,94.3 L181.5,93.9 L181.7,93.5 L182.0,93.2 L182.2,92.9 L182.4,92.7 L182.6,92.6 L182.8,92.5 L183.0,92.2 L183.2,92.0 L183.4,92.0 L183.6,91.8 L183.8,91.6 L184.1,91.4 L184.3,91.2 L184.5,91.1 L184.7,90.9 L184.9,90.7 L185.1,90.5 L185.3,90.4 L185.5,90.3 L185.7,90.2 L185.9,90.3 L186.2,90.4 L186.4,90.5 L186.6,90.7 L186.8,90.9 L187.0,91.1 L187.2,91.3 L187.4,91.6 L187.6,91.8 L187.8,92.0 L188.0,92.2 L188.3,92.4 L188.5,92.6 L188.7,92.8 L188.9,93.0 L189.1,93.2 L189.3,93.5 L189.5,93.7 L189.7,94.0 L189.9,94.2 L190.1,94.3 L190.4,94.5 L190.6,94.6 L190.8,94.8 L191.0,94.9 L191.2,95.0 L191.4,95.1 L191.6,95.2 L191.8,95.2 L192.0,95.1 L192.2,95.2 L192.5,95.3 L192.7,95.3 L192.9,95.2 L193.1,95.1 L193.3,95.2 L193.5,95.1 L193.7,95.0 L193.9,95.0 L194.1,95.0 L194.3,95.0 L194.6,95.2 L194.8,95.3 L195.0,95.3 L195.2,95.3 L195.4,95.4 L195.6,95.5 L195.8,95.6 L196.0,95.7 L196.2,95.8 L196.4,95.8 L196.7,95.9 L196.9,96.0 L197.1,96.1 L197.3,96.1 L197.5,96.2 L197.7,96.4 L197.9,96.3 L198.1,96.1 L198.3,96.1 L198.5,96.1 L198.8,96.1 L199.0,96.1 L199.2,96.2 L199.4,96.4 L199.6,96.6 L199.8,96.8 L200.0,97.0 L200.2,97.0 L200.4,96.9 L200.6,96.8 L200.9,96.8 L201.1,96.9 L201.3,96.9 L201.5,96.8 L201.7,96.7 L201.9,96.6 L202.1,96.6 L202.3,96.7 L202.5,96.8 L202.7,96.8 L203.0,97.0 L203.2,97.1 L203.4,97.1 L203.6,97.1 L203.8,97.2 L204.0,97.2 L204.2,97.1 L204.4,96.9 L204.6,96.9 L204.8,96.9 L205.1,96.8 L205.3,96.9 L205.5,97.0 L205.7,97.1 L205.9,97.1 L206.1,97.1 L206.3,97.1 L206.5,97.0 L206.7,97.1 L206.9,97.1 L207.2,97.1 L207.4,97.2 L207.6,97.2 L207.8,97.2 L208.0,97.1 L208.2,97.0 L208.4,96.9 L208.6,96.8 L208.8,96.7 L209.0,96.8 L209.3,96.8 L209.5,96.7 L209.7,96.7 L209.9,96.8 L210.1,97.0 L210.3,97.1 L210.5,97.2 L210.7,97.2 L210.9,97.1 L211.1,97.1 L211.4,97.1 L211.6,97.3 L211.8,97.4 L212.0,97.5 L212.2,97.5 L212.4,97.4 L212.6,97.5 L212.8,97.5 L213.0,97.5 L213.2,97.6 L213.5,97.6 L213.7,97.5 L213.9,97.5 L214.1,97.5 L214.3,97.4 L214.5,97.5 L214.7,97.5 L214.9,97.4 L215.1,97.4 L215.3,97.4 L215.6,97.3 L215.8,97.2 L216.0,97.1 L216.2,97.0 L216.4,96.9 L216.6,96.9 L216.8,96.8 L217.0,96.8 L217.2,96.9 L217.4,97.0 L217.7,96.9 L217.9,97.0 L218.1,97.0 L218.3,97.0 L218.5,97.0 L218.7,97.1 L218.9,97.1 L219.1,97.2 L219.3,97.3 L219.5,97.4 L219.8,97.5 L220.0,97.6 L220.2,97.5 L220.4,97.6 L220.6,97.6 L220.8,97.5 L221.0,97.4 L221.2,97.3 L221.4,97.1 L221.6,97.0 L221.9,96.9 L222.1,96.9 L222.3,97.0 L222.5,97.1 L222.7,97.1 L222.9,97.1 L223.1,97.1 L223.3,97.1 L223.5,97.1 L223.7,97.1 L224.0,97.2 L224.2,97.2 L224.4,97.1 L224.6,97.1 L224.8,97.1 L225.0,97.0 L225.2,96.9 L225.4,96.8 L225.6,96.9 L225.8,97.1 L226.1,97.2 L226.3,97.0 L226.5,97.0 L226.7,97.2 L226.9,97.2 L227.1,97.2 L227.3,97.2 L227.5,97.1 L227.7,97.0 L227.9,97.0 L228.2,96.9 L228.4,96.9 L228.6,96.9 L228.8,96.9 L229.0,96.8 L229.2,96.8 L229.4,96.8 L229.6,96.8 L229.8,96.7 L230.0,96.7 L230.3,96.8 L230.5,96.7 L230.7,96.7 L230.9,96.7 L231.1,96.7 L231.3,96.5 L231.5,96.4 L231.7,96.5 L231.9,96.5 L232.1,96.4 L232.4,96.4 L232.6,96.3 L232.8,96.3 L233.0,96.4 L233.2,96.4 L233.4,96.4 L233.6,96.5 L233.8,96.6 L234.0,96.6 L234.2,96.6 L234.5,96.6 L234.7,96.7 L234.9,96.7 L235.1,96.7 L235.3,96.7 L235.5,96.7 L235.7,96.8 L235.9,96.9 L236.1,97.0 L236.3,97.0 L236.6,96.9 L236.8,97.0 L237.0,97.1 L237.2,97.0 L237.4,96.9 L237.6,96.9 L237.8,97.0 L238.0,97.1 L238.2,97.1 L238.4,97.1 L238.7,97.1 L238.9,97.1 L239.1,97.1 L239.3,97.1 L239.5,97.1 L239.7,97.2 L239.9,97.2 L240.1,97.2 L240.3,97.2 L240.5,97.2 L240.8,97.2 L241.0,97.3 L241.2,97.4 L241.4,97.4 L241.6,97.4 L241.8,97.4 L242.0,97.4 L242.2,97.5 L242.4,97.5 L242.6,97.5 L242.9,97.5 L243.1,97.4 L243.3,97.4 L243.5,97.5 L243.7,97.5 L243.9,97.3 L244.1,97.3 L244.3,97.2 L244.5,97.2 L244.7,97.2 L245.0,97.2 L245.2,97.1 L245.4,97.0 L245.6,96.9 L245.8,96.9 L246.0,97.0 L246.2,97.0 L246.4,97.1 L246.6,97.1 L246.8,97.2 L247.1,97.3 L247.3,97.2 L247.5,97.1 L247.7,97.1 L247.9,97.1 L248.1,97.1 L248.3,97.1 L248.5,97.1 L248.7,97.1 L248.9,97.0 L249.2,97.0 L249.4,97.0 L249.6,97.1 L249.8,97.1 L250.0,97.1 L250.2,97.0 L250.4,97.0 L250.6,97.1 L250.8,97.1 L251.0,97.0 L251.3,96.8 L251.5,96.8 L251.7,96.8 L251.9,96.7 L252.1,96.5 L252.3,96.5 L252.5,96.4 L252.7,96.4 L252.9,96.3 L253.1,96.3 L253.4,96.2 L253.6,96.2 L253.8,96.2 L254.0,96.2 L254.2,96.3 L254.4,96.3 L254.6,96.3 L254.8,96.3 L255.0,96.3 L255.2,96.2 L255.5,96.0 L255.7,95.8 L255.9,95.8 L256.1,95.7 L256.3,95.6 L256.5,95.5 L256.7,95.5 L256.9,95.4 L257.1,95.5 L257.3,95.6 L257.6,95.6 L257.8,95.5 L258.0,95.5 L258.2,95.5 L258.4,95.5 L258.6,95.6 L258.8,95.7 L259.0,95.8 L259.2,96.0 L259.4,96.1 L259.7,96.2 L259.9,96.2 L260.1,96.3 L260.3,96.3 L260.5,96.4 L260.7,96.3 L260.9,96.2 L261.1,96.2 L261.3,96.2 L261.5,96.2 L261.8,96.3 L262.0,96.4 L262.2,96.5 L262.4,96.5 L262.6,96.6 L262.8,96.7 L263.0,96.8 L263.2,96.8 L263.4,96.7 L263.6,96.6 L263.9,96.6 L264.1,96.5 L264.3,96.4 L264.5,96.4 L264.7,96.4 L264.9,96.3 L265.1,96.4 L265.3,96.6 L265.5,96.6 L265.7,96.6 L266.0,96.6 L266.2,96.5 L266.4,96.5 L266.6,96.5 L266.8,96.6 L267.0,96.8 L267.2,96.8 L267.4,96.8 L267.6,96.8 L267.8,96.8 L268.1,96.9 L268.3,96.9" fill="none" stroke="#0a0aff" stroke-width="2.7" stroke-linejoin="round" stroke-linecap="round"/>
<path d="M23.4,132.3 L23.6,132.4 L23.8,132.3 L24.0,132.2 L24.2,132.2 L24.5,132.2 L24.7,132.3 L24.9,132.4 L25.1,132.4 L25.3,132.5 L25.5,132.4 L25.7,132.3 L25.9,132.3 L26.1,132.4 L26.3,132.5 L26.6,132.5 L26.8,132.5 L27.0,132.5 L27.2,132.6 L27.4,132.7 L27.6,132.6 L27.8,132.5 L28.0,132.6 L28.2,132.7 L28.4,132.7 L28.7,132.6 L28.9,132.6 L29.1,132.5 L29.3,132.5 L29.5,132.5 L29.7,132.5 L29.9,132.4 L30.1,132.4 L30.3,132.4 L30.5,132.4 L30.8,132.3 L31.0,132.2 L31.2,132.3 L31.4,132.4 L31.6,132.4 L31.8,132.3 L32.0,132.3 L32.2,132.5 L32.4,132.5 L32.6,132.5 L32.9,132.5 L33.1,132.6 L33.3,132.6 L33.5,132.5 L33.7,132.4 L33.9,132.5 L34.1,132.4 L34.3,132.4 L34.5,132.2 L34.7,132.2 L35.0,132.3 L35.2,132.2 L35.4,132.1 L35.6,132.2 L35.8,132.2 L36.0,132.2 L36.2,132.2 L36.4,132.2 L36.6,132.2 L36.8,132.3 L37.1,132.3 L37.3,132.3 L37.5,132.2 L37.7,132.2 L37.9,132.3 L38.1,132.2 L38.3,132.2 L38.5,132.2 L38.7,132.3 L38.9,132.2 L39.2,132.3 L39.4,132.4 L39.6,132.6 L39.8,132.7 L40.0,132.6 L40.2,132.5 L40.4,132.5 L40.6,132.5 L40.8,132.5 L41.0,132.5 L41.3,132.5 L41.5,132.4 L41.7,132.2 L41.9,132.1 L42.1,132.1 L42.3,132.2 L42.5,132.2 L42.7,132.2 L42.9,132.3 L43.1,132.5 L43.4,132.5 L43.6,132.5 L43.8,132.6 L44.0,132.5 L44.2,132.4 L44.4,132.4 L44.6,132.6 L44.8,132.6 L45.0,132.5 L45.2,132.4 L45.5,132.3 L45.7,132.3 L45.9,132.3 L46.1,132.3 L46.3,132.4 L46.5,132.4 L46.7,132.3 L46.9,132.3 L47.1,132.4 L47.3,132.4 L47.6,132.5 L47.8,132.6 L48.0,132.5 L48.2,132.5 L48.4,132.6 L48.6,132.5 L48.8,132.4 L49.0,132.4 L49.2,132.4 L49.4,132.4 L49.7,132.5 L49.9,132.5 L50.1,132.6 L50.3,132.6 L50.5,132.6 L50.7,132.6 L50.9,132.6 L51.1,132.5 L51.3,132.6 L51.5,132.6 L51.8,132.6 L52.0,132.6 L52.2,132.6 L52.4,132.6 L52.6,132.6 L52.8,132.6 L53.0,132.5 L53.2,132.5 L53.4,132.5 L53.6,132.6 L53.9,132.6 L54.1,132.5 L54.3,132.5 L54.5,132.5 L54.7,132.5 L54.9,132.5 L55.1,132.5 L55.3,132.4 L55.5,132.3 L55.7,132.2 L56.0,132.2 L56.2,132.3 L56.4,132.4 L56.6,132.4 L56.8,132.4 L57.0,132.5 L57.2,132.6 L57.4,132.6 L57.6,132.6 L57.8,132.7 L58.1,132.8 L58.3,132.7 L58.5,132.6 L58.7,132.6 L58.9,132.5 L59.1,132.6 L59.3,132.6 L59.5,132.5 L59.7,132.5 L59.9,132.5 L60.2,132.5 L60.4,132.6 L60.6,132.5 L60.8,132.4 L61.0,132.3 L61.2,132.3 L61.4,132.4 L61.6,132.4 L61.8,132.4 L62.0,132.5 L62.3,132.6 L62.5,132.7 L62.7,132.8 L62.9,132.8 L63.1,132.8 L63.3,132.7 L63.5,132.6 L63.7,132.5 L63.9,132.5 L64.1,132.4 L64.4,132.3 L64.6,132.4 L64.8,132.5 L65.0,132.7 L65.2,132.8 L65.4,132.8 L65.6,132.7 L65.8,132.8 L66.0,132.8 L66.2,132.7 L66.5,132.8 L66.7,132.8 L66.9,132.7 L67.1,132.6 L67.3,132.6 L67.5,132.6 L67.7,132.7 L67.9,132.7 L68.1,132.6 L68.3,132.6 L68.6,132.7 L68.8,132.7 L69.0,132.8 L69.2,132.8 L69.4,132.7 L69.6,132.7 L69.8,132.7 L70.0,132.6 L70.2,132.5 L70.4,132.4 L70.7,132.4 L70.9,132.4 L71.1,132.3 L71.3,132.3 L71.5,132.4 L71.7,132.5 L71.9,132.6 L72.1,132.7 L72.3,132.7 L72.5,132.7 L72.8,132.6 L73.0,132.6 L73.2,132.5 L73.4,132.5 L73.6,132.5 L73.8,132.5 L74.0,132.5 L74.2,132.5 L74.4,132.4 L74.6,132.4 L74.9,132.5 L75.1,132.5 L75.3,132.3 L75.5,132.2 L75.7,132.1 L75.9,132.1 L76.1,132.1 L76.3,132.1 L76.5,132.1 L76.7,132.3 L77.0,132.3 L77.2,132.3 L77.4,132.5 L77.6,132.5 L77.8,132.4 L78.0,132.3 L78.2,132.2 L78.4,132.1 L78.6,132.0 L78.8,132.0 L79.1,132.1 L79.3,131.9 L79.5,131.8 L79.7,131.9 L79.9,131.9 L80.1,131.8 L80.3,131.6 L80.5,131.6 L80.7,131.6 L80.9,131.6 L81.2,131.8 L81.4,131.8 L81.6,131.8 L81.8,131.7 L82.0,131.7 L82.2,131.7 L82.4,131.6 L82.6,131.6 L82.8,131.5 L83.0,131.4 L83.3,131.2 L83.5,131.0 L83.7,130.7 L83.9,130.4 L84.1,129.8 L84.3,129.3 L84.5,128.9 L84.7,128.4 L84.9,127.7 L85.1,126.9 L85.4,125.9 L85.6,124.7 L85.8,123.4 L86.0,122.0 L86.2,120.3 L86.4,118.5 L86.6,116.5 L86.8,114.5 L87.0,112.3 L87.2,110.2 L87.5,108.1 L87.7,106.2 L87.9,104.7 L88.1,103.7 L88.3,103.3 L88.5,103.5 L88.7,104.3 L88.9,105.5 L89.1,107.4 L89.3,109.6 L89.6,111.8 L89.8,113.9 L90.0,116.1 L90.2,118.2 L90.4,119.9 L90.6,121.6 L90.8,123.2 L91.0,124.5 L91.2,125.6 L91.4,126.4 L91.7,127.3 L91.9,128.1 L92.1,128.8 L92.3,129.3 L92.5,129.7 L92.7,130.1 L92.9,130.5 L93.1,131.0 L93.3,131.3 L93.5,131.5 L93.8,131.7 L94.0,131.9 L94.2,132.0 L94.4,132.2 L94.6,132.3 L94.8,132.3 L95.0,132.3 L95.2,132.5 L95.4,132.6 L95.6,132.6 L95.9,132.6 L96.1,132.7 L96.3,132.9 L96.5,132.9 L96.7,132.9 L96.9,133.0 L97.1,133.1 L97.3,133.1 L97.5,133.0 L97.7,132.9 L98.0,132.7 L98.2,132.7 L98.4,132.7 L98.6,132.8 L98.8,132.9 L99.0,133.0 L99.2,133.0 L99.4,132.9 L99.6,133.0 L99.8,133.0 L100.1,132.9 L100.3,132.7 L100.5,132.5 L100.7,132.3 L100.9,132.1 L101.1,131.9 L101.3,131.5 L101.5,131.1 L101.7,130.8 L101.9,130.4 L102.2,130.0 L102.4,129.5 L102.6,128.9 L102.8,128.3 L103.0,127.7 L103.2,127.1 L103.4,126.6 L103.6,126.0 L103.8,125.5 L104.0,125.2 L104.3,125.1 L104.5,125.3 L104.7,125.7 L104.9,126.3 L105.1,126.9 L105.3,127.5 L105.5,128.2 L105.7,128.8 L105.9,129.5 L106.1,130.0 L106.4,130.6 L106.6,131.2 L106.8,131.6 L107.0,132.0 L107.2,132.4 L107.4,132.7 L107.6,133.0 L107.8,133.4 L108.0,133.7 L108.2,134.0 L108.5,134.2 L108.7,134.4 L108.9,134.5 L109.1,134.6 L109.3,134.6 L109.5,134.7 L109.7,134.8 L109.9,134.8 L110.1,134.8 L110.3,134.9 L110.6,134.9 L110.8,135.0 L111.0,135.3 L111.2,135.3 L111.4,135.3 L111.6,135.5 L111.8,135.6 L112.0,135.5 L112.2,135.5 L112.4,135.5 L112.7,135.4 L112.9,135.4 L113.1,135.4 L113.3,135.5 L113.5,135.6 L113.7,135.6 L113.9,135.5 L114.1,135.5 L114.3,135.6 L114.5,135.7 L114.8,135.7 L115.0,135.7 L115.2,135.6 L115.4,135.7 L115.6,135.7 L115.8,135.8 L116.0,135.8 L116.2,135.8 L116.4,135.8 L116.6,135.8 L116.9,135.8 L117.1,135.8 L117.3,136.0 L117.5,136.0 L117.7,135.8 L117.9,135.8 L118.1,135.9 L118.3,135.9 L118.5,136.0 L118.7,136.1 L119.0,136.1 L119.2,136.0 L119.4,136.1 L119.6,136.2 L119.8,136.3 L120.0,136.3 L120.2,136.2 L120.4,136.3 L120.6,136.3 L120.8,136.2 L121.1,136.2 L121.3,136.3 L121.5,136.2 L121.7,136.1 L121.9,136.0 L122.1,136.0 L122.3,136.0 L122.5,136.0 L122.7,136.0 L122.9,136.0 L123.2,136.0 L123.4,136.0 L123.6,136.0 L123.8,136.0 L124.0,136.1 L124.2,136.1 L124.4,136.0 L124.6,135.9 L124.8,135.9 L125.0,135.8 L125.3,135.9 L125.5,136.1 L125.7,136.1 L125.9,136.1 L126.1,136.2 L126.3,136.1 L126.5,136.0 L126.7,135.7 L126.9,135.6 L127.1,135.7 L127.4,135.8 L127.6,135.9 L127.8,135.8 L128.0,135.8 L128.2,135.9 L128.4,136.1 L128.6,136.2 L128.8,136.3 L129.0,136.4 L129.2,136.4 L129.5,136.4 L129.7,136.3 L129.9,136.3 L130.1,136.2 L130.3,136.1 L130.5,136.1 L130.7,136.2 L130.9,136.3 L131.1,136.4 L131.3,136.4 L131.6,136.4 L131.8,136.3 L132.0,136.2 L132.2,136.3 L132.4,136.2 L132.6,136.1 L132.8,136.0 L133.0,135.9 L133.2,135.9 L133.4,136.0 L133.7,136.0 L133.9,136.0 L134.1,136.1 L134.3,136.2 L134.5,136.2 L134.7,136.2 L134.9,136.3 L135.1,136.4 L135.3,136.3 L135.5,136.2 L135.8,136.2 L136.0,136.2 L136.2,136.2 L136.4,136.2 L136.6,136.2 L136.8,136.2 L137.0,136.3 L137.2,136.4 L137.4,136.5 L137.6,136.6 L137.9,136.6 L138.1,136.7 L138.3,136.7 L138.5,136.7 L138.7,136.6 L138.9,136.6 L139.1,136.6 L139.3,136.5 L139.5,136.4 L139.7,136.3 L140.0,136.3 L140.2,136.3 L140.4,136.3 L140.6,136.4 L140.8,136.6 L141.0,136.6 L141.2,136.7 L141.4,136.7 L141.6,136.6 L141.8,136.6 L142.1,136.6 L142.3,136.6 L142.5,136.5 L142.7,136.4 L142.9,136.2 L143.1,136.2 L143.3,136.2 L143.5,136.1 L143.7,136.0 L143.9,135.9 L144.2,135.9 L144.4,135.9 L144.6,136.0 L144.8,136.1 L145.0,136.2 L145.2,136.2 L145.4,136.0 L145.6,135.9 L145.8,135.9 L146.0,135.8 L146.3,135.7 L146.5,135.6 L146.7,135.6 L146.9,135.7 L147.1,135.6 L147.3,135.5 L147.5,135.6 L147.7,135.7 L147.9,135.7 L148.1,135.8 L148.4,135.8 L148.6,135.9 L148.8,135.8 L149.0,135.7 L149.2,135.6 L149.4,135.5 L149.6,135.4 L149.8,135.2 L150.0,134.9 L150.2,134.6 L150.5,134.3 L150.7,134.1 L150.9,133.8 L151.1,133.4 L151.3,133.0 L151.5,132.5 L151.7,131.9 L151.9,131.2 L152.1,130.5 L152.3,129.6 L152.6,128.6 L152.8,127.6 L153.0,126.5 L153.2,125.4 L153.4,124.4 L153.6,123.3 L153.8,122.2 L154.0,121.1 L154.2,120.3 L154.4,119.9 L154.7,119.6 L154.9,119.8 L155.1,120.3 L155.3,121.0 L155.5,122.0 L155.7,123.2 L155.9,124.3 L156.1,125.4 L156.3,126.6 L156.5,127.6 L156.8,128.7 L157.0,129.7 L157.2,130.5 L157.4,131.3 L157.6,132.1 L157.8,132.6 L158.0,132.9 L158.2,133.3 L158.4,133.7 L158.6,134.1 L158.9,134.4 L159.1,134.6 L159.3,134.8 L159.5,135.0 L159.7,135.1 L159.9,135.2 L160.1,135.1 L160.3,135.2 L160.5,135.4 L160.7,135.4 L161.0,135.4 L161.2,135.5 L161.4,135.7 L161.6,135.8 L161.8,135.8 L162.0,135.9 L162.2,136.1 L162.4,136.1 L162.6,136.2 L162.8,136.1 L163.1,136.0 L163.3,135.9 L163.5,135.9 L163.7,135.9 L163.9,135.8 L164.1,135.7 L164.3,135.8 L164.5,135.9 L164.7,136.0 L164.9,136.0 L165.2,136.1 L165.4,136.2 L165.6,136.3 L165.8,136.5 L166.0,136.6 L166.2,136.6 L166.4,136.6 L166.6,136.6 L166.8,136.6 L167.0,136.5 L167.3,136.4 L167.5,136.4 L167.7,136.4 L167.9,136.3 L168.1,136.2 L168.3,136.3 L168.5,136.4 L168.7,136.3 L168.9,136.4 L169.1,136.5 L169.4,136.5 L169.6,136.5 L169.8,136.6 L170.0,136.7 L170.2,136.8 L170.4,136.9 L170.6,136.7 L170.8,136.6 L171.0,136.5 L171.2,136.5 L171.5,136.5 L171.7,136.5 L171.9,136.5 L172.1,136.6 L172.3,136.6 L172.5,136.6 L172.7,136.5 L172.9,136.4 L173.1,136.4 L173.3,136.5 L173.6,136.5 L173.8,136.5 L174.0,136.5 L174.2,136.4 L174.4,136.4 L174.6,136.5 L174.8,136.6 L175.0,136.7 L175.2,136.7 L175.4,136.7 L175.7,136.6 L175.9,136.7 L176.1,136.7 L176.3,136.7 L176.5,136.7 L176.7,136.6 L176.9,136.6 L177.1,136.7 L177.3,136.6 L177.5,136.4 L177.8,136.2 L178.0,136.1 L178.2,136.0 L178.4,136.0 L178.6,135.9 L178.8,135.8 L179.0,135.8 L179.2,135.9 L179.4,135.9 L179.6,135.9 L179.9,135.9 L180.1,135.7 L180.3,135.6 L180.5,135.5 L180.7,135.5 L180.9,135.3 L181.1,135.2 L181.3,134.9 L181.5,134.6 L181.7,134.4 L182.0,134.2 L182.2,133.9 L182.4,133.5 L182.6,133.1 L182.8,132.6 L183.0,131.9 L183.2,131.3 L183.4,130.7 L183.6,129.9 L183.8,129.1 L184.1,128.4 L184.3,127.6 L184.5,126.8 L184.7,126.0 L184.9,125.5 L185.1,125.1 L185.3,124.7 L185.5,124.5 L185.7,124.4 L185.9,124.6 L186.2,124.9 L186.4,125.4 L186.6,126.0 L186.8,126.9 L187.0,127.8 L187.2,128.6 L187.4,129.5 L187.6,130.3 L187.8,130.9 L188.0,131.6 L188.3,132.0 L188.5,132.4 L188.7,132.8 L188.9,133.2 L189.1,133.6 L189.3,133.9 L189.5,134.2 L189.7,134.6 L189.9,134.9 L190.1,135.2 L190.4,135.4 L190.6,135.5 L190.8,135.6 L191.0,135.7 L191.2,135.8 L191.4,135.9 L191.6,135.9 L191.8,135.9 L192.0,135.9 L192.2,136.0 L192.5,136.0 L192.7,135.9 L192.9,135.9 L193.1,135.9 L193.3,135.9 L193.5,135.9 L193.7,135.8 L193.9,135.7 L194.1,135.5 L194.3,135.3 L194.6,135.1 L194.8,135.1 L195.0,135.1 L195.2,135.0 L195.4,134.9 L195.6,134.9 L195.8,134.9 L196.0,135.0 L196.2,135.1 L196.4,135.3 L196.7,135.4 L196.9,135.5 L197.1,135.7 L197.3,135.8 L197.5,135.8 L197.7,135.9 L197.9,135.9 L198.1,136.0 L198.3,135.9 L198.5,135.9 L198.8,136.0 L199.0,136.2 L199.2,136.4 L199.4,136.5 L199.6,136.5 L199.8,136.5 L200.0,136.6 L200.2,136.6 L200.4,136.6 L200.6,136.6 L200.9,136.7 L201.1,136.7 L201.3,136.6 L201.5,136.5 L201.7,136.5 L201.9,136.5 L202.1,136.5 L202.3,136.5 L202.5,136.6 L202.7,136.7 L203.0,136.8 L203.2,136.7 L203.4,136.7 L203.6,136.8 L203.8,136.8 L204.0,136.9 L204.2,137.0 L204.4,136.9 L204.6,136.8 L204.8,136.8 L205.1,136.8 L205.3,136.8 L205.5,136.8 L205.7,136.8 L205.9,136.8 L206.1,136.8 L206.3,136.8 L206.5,136.8 L206.7,136.8 L206.9,136.9 L207.2,136.9 L207.4,137.0 L207.6,137.1 L207.8,137.2 L208.0,137.1 L208.2,137.0 L208.4,137.0 L208.6,136.9 L208.8,136.9 L209.0,136.8 L209.3,136.7 L209.5,136.7 L209.7,136.7 L209.9,136.7 L210.1,136.7 L210.3,136.6 L210.5,136.5 L210.7,136.5 L210.9,136.5 L211.1,136.5 L211.4,136.6 L211.6,136.7 L211.8,136.7 L212.0,136.8 L212.2,136.9 L212.4,137.0 L212.6,137.1 L212.8,137.1 L213.0,137.2 L213.2,137.3 L213.5,137.3 L213.7,137.2 L213.9,137.1 L214.1,137.1 L214.3,137.0 L214.5,137.0 L214.7,137.0 L214.9,137.1 L215.1,137.0 L215.3,136.9 L215.6,137.0 L215.8,137.1 L216.0,137.1 L216.2,137.1 L216.4,137.1 L216.6,137.1 L216.8,137.0 L217.0,136.9 L217.2,136.9 L217.4,137.1 L217.7,137.1 L217.9,137.1 L218.1,137.1 L218.3,137.2 L218.5,137.2 L218.7,137.2 L218.9,137.3 L219.1,137.3 L219.3,137.3 L219.5,137.3 L219.8,137.2 L220.0,137.1 L220.2,137.1 L220.4,137.2 L220.6,137.2 L220.8,137.1 L221.0,137.1 L221.2,137.0 L221.4,136.9 L221.6,136.9 L221.9,137.0 L222.1,137.0 L222.3,137.0 L222.5,137.1 L222.7,137.2 L222.9,137.2 L223.1,137.2 L223.3,137.2 L223.5,137.1 L223.7,137.0 L224.0,136.9 L224.2,136.9 L224.4,137.0 L224.6,137.0 L224.8,136.8 L225.0,136.9 L225.2,137.1 L225.4,137.1 L225.6,137.1 L225.8,137.1 L226.1,137.2 L226.3,137.2 L226.5,137.0 L226.7,136.8 L226.9,136.8 L227.1,136.9 L227.3,136.9 L227.5,136.8 L227.7,136.6 L227.9,136.5 L228.2,136.4 L228.4,136.3 L228.6,136.2 L228.8,136.0 L229.0,136.0 L229.2,136.0 L229.4,135.8 L229.6,135.7 L229.8,135.6 L230.0,135.5 L230.3,135.2 L230.5,135.0 L230.7,135.1 L230.9,135.1 L231.1,135.1 L231.3,135.1 L231.5,135.1 L231.7,135.2 L231.9,135.3 L232.1,135.3 L232.4,135.4 L232.6,135.5 L232.8,135.5 L233.0,135.5 L233.2,135.6 L233.4,135.6 L233.6,135.7 L233.8,135.8 L234.0,136.0 L234.2,136.0 L234.5,136.1 L234.7,136.2 L234.9,136.3 L235.1,136.4 L235.3,136.5 L235.5,136.7 L235.7,136.9 L235.9,137.1 L236.1,137.1 L236.3,137.2 L236.6,137.3 L236.8,137.3 L237.0,137.4 L237.2,137.3 L237.4,137.1 L237.6,137.1 L237.8,137.1 L238.0,137.0 L238.2,136.9 L238.4,136.9 L238.7,137.0 L238.9,137.1 L239.1,137.1 L239.3,137.1 L239.5,137.2 L239.7,137.2 L239.9,137.1 L240.1,136.9 L240.3,136.9 L240.5,137.0 L240.8,137.1 L241.0,137.1 L241.2,137.0 L241.4,137.1 L241.6,137.2 L241.8,137.2 L242.0,137.2 L242.2,137.1 L242.4,137.0 L242.6,136.8 L242.9,136.8 L243.1,136.8 L243.3,136.7 L243.5,136.7 L243.7,136.8 L243.9,136.9 L244.1,136.8 L244.3,136.8 L244.5,136.7 L244.7,136.8 L245.0,136.9 L245.2,136.9 L245.4,136.9 L245.6,137.1 L245.8,137.2 L246.0,137.0 L246.2,136.8 L246.4,136.8 L246.6,136.8 L246.8,136.8 L247.1,136.7 L247.3,136.5 L247.5,136.4 L247.7,136.4 L247.9,136.4 L248.1,136.5 L248.3,136.6 L248.5,136.7 L248.7,136.7 L248.9,136.6 L249.2,136.6 L249.4,136.7 L249.6,136.7 L249.8,136.6 L250.0,136.7 L250.2,136.6 L250.4,136.4 L250.6,136.3 L250.8,136.3 L251.0,136.3 L251.3,136.3 L251.5,136.4 L251.7,136.4 L251.9,136.4 L252.1,136.3 L252.3,136.4 L252.5,136.4 L252.7,136.3 L252.9,136.2 L253.1,136.1 L253.4,135.9 L253.6,135.6 L253.8,135.5 L254.0,135.3 L254.2,135.1 L254.4,134.9 L254.6,134.7 L254.8,134.5 L255.0,134.4 L255.2,134.2 L255.5,134.0 L255.7,133.7 L255.9,133.5 L256.1,133.4 L256.3,133.4 L256.5,133.4 L256.7,133.3 L256.9,133.3 L257.1,133.2 L257.3,133.3 L257.6,133.4 L257.8,133.6 L258.0,133.7 L258.2,133.8 L258.4,134.0 L258.6,134.3 L258.8,134.5 L259.0,134.6 L259.2,134.9 L259.4,135.0 L259.7,135.1 L259.9,135.2 L260.1,135.4 L260.3,135.5 L260.5,135.6 L260.7,135.7 L260.9,135.7 L261.1,135.7 L261.3,135.8 L261.5,135.8 L261.8,135.8 L262.0,135.8 L262.2,135.8 L262.4,135.7 L262.6,135.6 L262.8,135.6 L263.0,135.5 L263.2,135.4 L263.4,135.2 L263.6,135.1 L263.9,134.9 L264.1,134.9 L264.3,134.8 L264.5,134.8 L264.7,134.7 L264.9,134.7 L265.1,134.7 L265.3,134.8 L265.5,134.8 L265.7,135.0 L266.0,135.1 L266.2,135.2 L266.4,135.3 L266.6,135.4 L266.8,135.7 L267.0,136.0 L267.2,136.1 L267.4,136.1 L267.6,136.2 L267.8,136.2 L268.1,136.3 L268.3,136.3" fill="none" stroke="#ff0808" stroke-width="2.7" stroke-linejoin="round" stroke-linecap="round"/>
<path d="M23.4,176.5 L23.6,176.6 L23.8,176.6 L24.0,176.6 L24.2,176.6 L24.5,176.5 L24.7,176.4 L24.9,176.5 L25.1,176.4 L25.3,176.4 L25.5,176.3 L25.7,176.3 L25.9,176.4 L26.1,176.5 L26.3,176.5 L26.6,176.5 L26.8,176.5 L27.0,176.5 L27.2,176.6 L27.4,176.6 L27.6,176.6 L27.8,176.7 L28.0,176.7 L28.2,176.6 L28.4,176.7 L28.7,176.7 L28.9,176.6 L29.1,176.6 L29.3,176.6 L29.5,176.5 L29.7,176.4 L29.9,176.4 L30.1,176.4 L30.3,176.4 L30.5,176.4 L30.8,176.5 L31.0,176.5 L31.2,176.5 L31.4,176.4 L31.6,176.4 L31.8,176.5 L32.0,176.5 L32.2,176.5 L32.4,176.6 L32.6,176.7 L32.9,176.7 L33.1,176.8 L33.3,177.0 L33.5,177.0 L33.7,177.0 L33.9,177.0 L34.1,177.0 L34.3,177.0 L34.5,177.0 L34.7,177.0 L35.0,176.9 L35.2,177.0 L35.4,177.0 L35.6,177.0 L35.8,176.9 L36.0,177.0 L36.2,177.1 L36.4,177.0 L36.6,177.0 L36.8,176.9 L37.1,176.8 L37.3,176.8 L37.5,176.8 L37.7,176.8 L37.9,176.8 L38.1,176.8 L38.3,176.7 L38.5,176.7 L38.7,176.7 L38.9,176.9 L39.2,176.9 L39.4,176.8 L39.6,176.8 L39.8,176.8 L40.0,176.8 L40.2,176.8 L40.4,176.8 L40.6,176.9 L40.8,177.0 L41.0,177.0 L41.3,176.9 L41.5,177.0 L41.7,177.0 L41.9,177.0 L42.1,177.0 L42.3,176.9 L42.5,176.8 L42.7,176.9 L42.9,176.9 L43.1,177.0 L43.4,177.0 L43.6,176.9 L43.8,176.8 L44.0,176.7 L44.2,176.7 L44.4,176.8 L44.6,177.0 L44.8,177.1 L45.0,177.0 L45.2,177.0 L45.5,177.0 L45.7,177.0 L45.9,177.1 L46.1,177.1 L46.3,177.2 L46.5,177.2 L46.7,177.3 L46.9,177.3 L47.1,177.2 L47.3,177.2 L47.6,177.2 L47.8,177.2 L48.0,177.3 L48.2,177.3 L48.4,177.3 L48.6,177.4 L48.8,177.5 L49.0,177.6 L49.2,177.6 L49.4,177.5 L49.7,177.4 L49.9,177.3 L50.1,177.4 L50.3,177.4 L50.5,177.3 L50.7,177.3 L50.9,177.4 L51.1,177.4 L51.3,177.3 L51.5,177.3 L51.8,177.3 L52.0,177.5 L52.2,177.6 L52.4,177.6 L52.6,177.8 L52.8,177.9 L53.0,177.8 L53.2,177.8 L53.4,177.8 L53.6,177.8 L53.9,177.7 L54.1,177.7 L54.3,177.7 L54.5,177.6 L54.7,177.6 L54.9,177.6 L55.1,177.7 L55.3,177.7 L55.5,177.8 L55.7,177.8 L56.0,177.8 L56.2,177.8 L56.4,177.8 L56.6,177.9 L56.8,177.8 L57.0,177.7 L57.2,177.7 L57.4,177.8 L57.6,177.7 L57.8,177.6 L58.1,177.7 L58.3,177.6 L58.5,177.5 L58.7,177.6 L58.9,177.5 L59.1,177.5 L59.3,177.6 L59.5,177.8 L59.7,177.8 L59.9,177.8 L60.2,177.8 L60.4,177.8 L60.6,177.8 L60.8,177.7 L61.0,177.7 L61.2,177.6 L61.4,177.5 L61.6,177.5 L61.8,177.6 L62.0,177.6 L62.3,177.5 L62.5,177.7 L62.7,177.9 L62.9,178.0 L63.1,178.0 L63.3,178.0 L63.5,177.9 L63.7,177.8 L63.9,177.8 L64.1,177.8 L64.4,177.7 L64.6,177.6 L64.8,177.7 L65.0,177.6 L65.2,177.6 L65.4,177.7 L65.6,177.8 L65.8,177.8 L66.0,177.7 L66.2,177.7 L66.5,177.6 L66.7,177.6 L66.9,177.5 L67.1,177.5 L67.3,177.6 L67.5,177.7 L67.7,177.8 L67.9,177.9 L68.1,177.9 L68.3,177.9 L68.6,177.8 L68.8,177.9 L69.0,177.9 L69.2,177.9 L69.4,177.9 L69.6,178.0 L69.8,178.0 L70.0,178.0 L70.2,178.0 L70.4,178.0 L70.7,177.9 L70.9,177.9 L71.1,178.0 L71.3,178.0 L71.5,177.8 L71.7,177.7 L71.9,177.5 L72.1,177.4 L72.3,177.4 L72.5,177.4 L72.8,177.5 L73.0,177.6 L73.2,177.6 L73.4,177.6 L73.6,177.7 L73.8,177.8 L74.0,177.8 L74.2,177.7 L74.4,177.6 L74.6,177.7 L74.9,177.7 L75.1,177.8 L75.3,177.8 L75.5,177.9 L75.7,178.0 L75.9,178.0 L76.1,178.1 L76.3,178.1 L76.5,178.0 L76.7,177.9 L77.0,177.8 L77.2,177.8 L77.4,177.6 L77.6,177.5 L77.8,177.4 L78.0,177.3 L78.2,177.4 L78.4,177.5 L78.6,177.4 L78.8,177.4 L79.1,177.3 L79.3,177.2 L79.5,177.2 L79.7,177.1 L79.9,177.0 L80.1,177.1 L80.3,177.2 L80.5,177.2 L80.7,177.2 L80.9,177.2 L81.2,177.1 L81.4,177.0 L81.6,177.0 L81.8,177.0 L82.0,176.9 L82.2,176.8 L82.4,176.6 L82.6,176.4 L82.8,176.3 L83.0,176.2 L83.3,176.0 L83.5,175.7 L83.7,175.4 L83.9,175.2 L84.1,174.9 L84.3,174.5 L84.5,174.2 L84.7,173.6 L84.9,172.8 L85.1,171.7 L85.4,170.3 L85.6,168.8 L85.8,167.0 L86.0,165.1 L86.2,162.8 L86.4,160.3 L86.6,157.7 L86.8,154.6 L87.0,151.3 L87.2,147.8 L87.5,144.3 L87.7,141.1 L87.9,138.5 L88.1,136.5 L88.3,135.7 L88.5,136.1 L88.7,137.6 L88.9,140.0 L89.1,143.0 L89.3,146.4 L89.6,150.0 L89.8,153.6 L90.0,156.8 L90.2,159.7 L90.4,162.4 L90.6,164.7 L90.8,166.7 L91.0,168.5 L91.2,170.0 L91.4,171.3 L91.7,172.3 L91.9,173.1 L92.1,173.8 L92.3,174.4 L92.5,174.8 L92.7,175.1 L92.9,175.4 L93.1,175.7 L93.3,176.0 L93.5,176.3 L93.8,176.4 L94.0,176.5 L94.2,176.7 L94.4,176.8 L94.6,176.9 L94.8,176.9 L95.0,176.9 L95.2,177.0 L95.4,177.1 L95.6,177.3 L95.9,177.2 L96.1,177.3 L96.3,177.4 L96.5,177.5 L96.7,177.5 L96.9,177.6 L97.1,177.6 L97.3,177.6 L97.5,177.6 L97.7,177.7 L98.0,177.9 L98.2,177.9 L98.4,177.9 L98.6,177.9 L98.8,177.9 L99.0,178.0 L99.2,178.0 L99.4,177.8 L99.6,177.6 L99.8,177.6 L100.1,177.5 L100.3,177.3 L100.5,177.2 L100.7,177.0 L100.9,176.8 L101.1,176.7 L101.3,176.5 L101.5,176.1 L101.7,175.6 L101.9,175.0 L102.2,174.4 L102.4,173.8 L102.6,173.0 L102.8,172.2 L103.0,171.2 L103.2,170.3 L103.4,169.3 L103.6,168.6 L103.8,168.1 L104.0,167.7 L104.3,167.6 L104.5,167.9 L104.7,168.4 L104.9,169.1 L105.1,169.9 L105.3,170.8 L105.5,171.7 L105.7,172.5 L105.9,173.3 L106.1,174.3 L106.4,175.2 L106.6,175.9 L106.8,176.4 L107.0,176.9 L107.2,177.3 L107.4,177.7 L107.6,178.1 L107.8,178.3 L108.0,178.6 L108.2,178.9 L108.5,179.1 L108.7,179.2 L108.9,179.3 L109.1,179.3 L109.3,179.5 L109.5,179.6 L109.7,179.6 L109.9,179.4 L110.1,179.3 L110.3,179.4 L110.6,179.5 L110.8,179.5 L111.0,179.6 L111.2,179.7 L111.4,179.7 L111.6,179.6 L111.8,179.6 L112.0,179.5 L112.2,179.4 L112.4,179.3 L112.7,179.1 L112.9,179.1 L113.1,179.2 L113.3,179.1 L113.5,179.2 L113.7,179.3 L113.9,179.5 L114.1,179.7 L114.3,179.8 L114.5,179.8 L114.8,179.9 L115.0,179.9 L115.2,179.9 L115.4,180.0 L115.6,180.0 L115.8,179.9 L116.0,179.8 L116.2,179.9 L116.4,180.0 L116.6,180.0 L116.9,180.0 L117.1,180.1 L117.3,180.1 L117.5,180.2 L117.7,180.1 L117.9,180.0 L118.1,180.1 L118.3,180.0 L118.5,179.9 L118.7,179.8 L119.0,179.8 L119.2,179.9 L119.4,179.9 L119.6,179.9 L119.8,180.0 L120.0,180.1 L120.2,180.1 L120.4,180.1 L120.6,180.1 L120.8,180.0 L121.1,180.0 L121.3,180.1 L121.5,180.2 L121.7,180.3 L121.9,180.2 L122.1,180.2 L122.3,180.2 L122.5,180.2 L122.7,180.2 L122.9,180.2 L123.2,180.2 L123.4,180.1 L123.6,180.1 L123.8,180.1 L124.0,180.1 L124.2,180.2 L124.4,180.1 L124.6,180.0 L124.8,179.9 L125.0,180.0 L125.3,180.0 L125.5,179.9 L125.7,179.9 L125.9,180.0 L126.1,180.0 L126.3,180.1 L126.5,180.0 L126.7,179.9 L126.9,180.0 L127.1,180.0 L127.4,179.8 L127.6,179.7 L127.8,179.8 L128.0,179.9 L128.2,180.0 L128.4,180.1 L128.6,180.1 L128.8,180.1 L129.0,180.2 L129.2,180.3 L129.5,180.3 L129.7,180.3 L129.9,180.3 L130.1,180.3 L130.3,180.3 L130.5,180.2 L130.7,180.2 L130.9,180.2 L131.1,180.2 L131.3,180.0 L131.6,180.0 L131.8,180.0 L132.0,180.1 L132.2,180.1 L132.4,180.0 L132.6,179.9 L132.8,180.0 L133.0,180.1 L133.2,180.1 L133.4,180.2 L133.7,180.2 L133.9,180.0 L134.1,180.0 L134.3,180.1 L134.5,180.1 L134.7,179.9 L134.9,179.9 L135.1,179.9 L135.3,179.8 L135.5,179.8 L135.8,179.8 L136.0,180.0 L136.2,180.1 L136.4,180.2 L136.6,180.3 L136.8,180.2 L137.0,180.3 L137.2,180.3 L137.4,180.4 L137.6,180.4 L137.9,180.3 L138.1,180.3 L138.3,180.2 L138.5,180.1 L138.7,180.1 L138.9,180.1 L139.1,180.1 L139.3,180.1 L139.5,180.2 L139.7,180.1 L140.0,180.0 L140.2,180.1 L140.4,180.2 L140.6,180.1 L140.8,180.0 L141.0,180.0 L141.2,180.0 L141.4,180.0 L141.6,180.1 L141.8,180.1 L142.1,180.0 L142.3,180.0 L142.5,180.1 L142.7,180.2 L142.9,180.1 L143.1,180.0 L143.3,180.0 L143.5,179.9 L143.7,179.9 L143.9,179.9 L144.2,179.8 L144.4,179.8 L144.6,179.8 L144.8,179.7 L145.0,179.6 L145.2,179.6 L145.4,179.5 L145.6,179.6 L145.8,179.7 L146.0,179.9 L146.3,180.0 L146.5,180.0 L146.7,180.0 L146.9,180.0 L147.1,180.0 L147.3,179.8 L147.5,179.6 L147.7,179.5 L147.9,179.3 L148.1,179.3 L148.4,179.3 L148.6,179.3 L148.8,179.3 L149.0,179.3 L149.2,179.3 L149.4,179.1 L149.6,179.0 L149.8,178.7 L150.0,178.5 L150.2,178.3 L150.5,178.1 L150.7,177.8 L150.9,177.4 L151.1,177.0 L151.3,176.5 L151.5,175.9 L151.7,175.1 L151.9,174.2 L152.1,173.2 L152.3,172.0 L152.6,170.8 L152.8,169.5 L153.0,168.0 L153.2,166.4 L153.4,164.8 L153.6,163.2 L153.8,161.6 L154.0,160.1 L154.2,158.9 L154.4,158.2 L154.7,157.8 L154.9,157.9 L155.1,158.7 L155.3,160.0 L155.5,161.4 L155.7,162.9 L155.9,164.6 L156.1,166.3 L156.3,167.9 L156.5,169.5 L156.8,171.0 L157.0,172.3 L157.2,173.4 L157.4,174.3 L157.6,175.1 L157.8,175.8 L158.0,176.3 L158.2,176.9 L158.4,177.3 L158.6,177.6 L158.9,177.9 L159.1,178.2 L159.3,178.5 L159.5,178.6 L159.7,178.8 L159.9,179.0 L160.1,179.2 L160.3,179.1 L160.5,179.1 L160.7,179.3 L161.0,179.5 L161.2,179.4 L161.4,179.4 L161.6,179.5 L161.8,179.5 L162.0,179.5 L162.2,179.6 L162.4,179.6 L162.6,179.7 L162.8,179.7 L163.1,179.8 L163.3,180.0 L163.5,180.0 L163.7,180.1 L163.9,180.1 L164.1,180.1 L164.3,180.0 L164.5,180.0 L164.7,180.0 L164.9,180.0 L165.2,180.1 L165.4,180.1 L165.6,180.1 L165.8,180.3 L166.0,180.4 L166.2,180.4 L166.4,180.5 L166.6,180.5 L166.8,180.4 L167.0,180.4 L167.3,180.5 L167.5,180.5 L167.7,180.4 L167.9,180.3 L168.1,180.2 L168.3,180.2 L168.5,180.1 L168.7,180.0 L168.9,179.8 L169.1,179.8 L169.4,179.9 L169.6,179.9 L169.8,180.0 L170.0,180.0 L170.2,180.1 L170.4,180.1 L170.6,180.1 L170.8,180.2 L171.0,180.2 L171.2,180.2 L171.5,180.1 L171.7,180.2 L171.9,180.2 L172.1,180.2 L172.3,180.1 L172.5,180.1 L172.7,180.0 L172.9,179.9 L173.1,179.9 L173.3,179.9 L173.6,180.0 L173.8,180.1 L174.0,180.1 L174.2,180.1 L174.4,180.1 L174.6,180.1 L174.8,180.1 L175.0,180.2 L175.2,180.2 L175.4,180.2 L175.7,180.1 L175.9,180.1 L176.1,180.1 L176.3,180.1 L176.5,180.1 L176.7,180.0 L176.9,180.0 L177.1,180.0 L177.3,179.9 L177.5,180.0 L177.8,180.1 L178.0,180.1 L178.2,180.2 L178.4,180.2 L178.6,180.2 L178.8,180.1 L179.0,180.0 L179.2,179.8 L179.4,179.7 L179.6,179.6 L179.9,179.4 L180.1,179.2 L180.3,179.2 L180.5,179.1 L180.7,179.0 L180.9,178.9 L181.1,179.0 L181.3,179.0 L181.5,179.0 L181.7,178.8 L182.0,178.5 L182.2,178.1 L182.4,177.6 L182.6,176.9 L182.8,176.3 L183.0,175.7 L183.2,174.9 L183.4,173.9 L183.6,172.8 L183.8,171.8 L184.1,170.7 L184.3,169.6 L184.5,168.4 L184.7,167.2 L184.9,166.1 L185.1,165.1 L185.3,164.5 L185.5,164.3 L185.7,164.2 L185.9,164.5 L186.2,165.1 L186.4,166.0 L186.6,167.1 L186.8,168.2 L187.0,169.5 L187.2,170.8 L187.4,172.0 L187.6,173.1 L187.8,174.1 L188.0,174.9 L188.3,175.7 L188.5,176.4 L188.7,177.1 L188.9,177.5 L189.1,177.9 L189.3,178.2 L189.5,178.5 L189.7,178.6 L189.9,178.7 L190.1,178.9 L190.4,179.2 L190.6,179.4 L190.8,179.5 L191.0,179.5 L191.2,179.4 L191.4,179.2 L191.6,179.1 L191.8,179.1 L192.0,179.1 L192.2,179.1 L192.5,179.1 L192.7,179.1 L192.9,179.1 L193.1,179.1 L193.3,178.9 L193.5,178.8 L193.7,178.6 L193.9,178.4 L194.1,178.4 L194.3,178.3 L194.6,178.1 L194.8,178.0 L195.0,178.0 L195.2,178.0 L195.4,178.1 L195.6,178.2 L195.8,178.2 L196.0,178.3 L196.2,178.6 L196.4,178.8 L196.7,178.9 L196.9,179.0 L197.1,179.1 L197.3,179.4 L197.5,179.6 L197.7,179.7 L197.9,179.7 L198.1,179.9 L198.3,180.0 L198.5,180.1 L198.8,180.2 L199.0,180.2 L199.2,180.3 L199.4,180.4 L199.6,180.3 L199.8,180.3 L200.0,180.4 L200.2,180.6 L200.4,180.6 L200.6,180.7 L200.9,180.7 L201.1,180.9 L201.3,180.9 L201.5,180.8 L201.7,180.7 L201.9,180.6 L202.1,180.5 L202.3,180.5 L202.5,180.4 L202.7,180.4 L203.0,180.4 L203.2,180.5 L203.4,180.6 L203.6,180.6 L203.8,180.6 L204.0,180.7 L204.2,181.0 L204.4,181.1 L204.6,181.1 L204.8,181.0 L205.1,181.0 L205.3,181.0 L205.5,181.0 L205.7,181.1 L205.9,181.0 L206.1,181.0 L206.3,181.1 L206.5,181.1 L206.7,181.0 L206.9,181.0 L207.2,180.9 L207.4,180.9 L207.6,180.8 L207.8,180.6 L208.0,180.6 L208.2,180.6 L208.4,180.6 L208.6,180.4 L208.8,180.4 L209.0,180.5 L209.3,180.5 L209.5,180.5 L209.7,180.6 L209.9,180.7 L210.1,180.8 L210.3,180.7 L210.5,180.7 L210.7,180.6 L210.9,180.6 L211.1,180.4 L211.4,180.3 L211.6,180.4 L211.8,180.4 L212.0,180.5 L212.2,180.6 L212.4,180.7 L212.6,180.7 L212.8,180.7 L213.0,180.7 L213.2,180.7 L213.5,180.9 L213.7,180.9 L213.9,180.8 L214.1,180.9 L214.3,180.8 L214.5,180.8 L214.7,180.9 L214.9,180.9 L215.1,180.8 L215.3,180.6 L215.6,180.5 L215.8,180.4 L216.0,180.4 L216.2,180.4 L216.4,180.4 L216.6,180.4 L216.8,180.5 L217.0,180.5 L217.2,180.5 L217.4,180.6 L217.7,180.6 L217.9,180.5 L218.1,180.6 L218.3,180.7 L218.5,180.7 L218.7,180.6 L218.9,180.6 L219.1,180.7 L219.3,180.9 L219.5,180.8 L219.8,180.7 L220.0,180.7 L220.2,180.6 L220.4,180.5 L220.6,180.5 L220.8,180.6 L221.0,180.6 L221.2,180.7 L221.4,180.9 L221.6,181.0 L221.9,181.0 L222.1,181.1 L222.3,181.2 L222.5,181.1 L222.7,181.0 L222.9,181.0 L223.1,181.0 L223.3,181.0 L223.5,181.0 L223.7,181.0 L224.0,180.9 L224.2,180.8 L224.4,180.8 L224.6,180.7 L224.8,180.6 L225.0,180.6 L225.2,180.6 L225.4,180.6 L225.6,180.7 L225.8,180.7 L226.1,180.7 L226.3,180.6 L226.5,180.5 L226.7,180.5 L226.9,180.5 L227.1,180.5 L227.3,180.5 L227.5,180.5 L227.7,180.4 L227.9,180.2 L228.2,180.1 L228.4,180.1 L228.6,179.9 L228.8,179.7 L229.0,179.6 L229.2,179.5 L229.4,179.3 L229.6,179.1 L229.8,178.9 L230.0,178.7 L230.3,178.4 L230.5,178.3 L230.7,178.1 L230.9,178.0 L231.1,177.9 L231.3,177.9 L231.5,178.0 L231.7,178.2 L231.9,178.3 L232.1,178.5 L232.4,178.7 L232.6,179.0 L232.8,179.2 L233.0,179.3 L233.2,179.4 L233.4,179.6 L233.6,179.8 L233.8,180.1 L234.0,180.3 L234.2,180.4 L234.5,180.4 L234.7,180.4 L234.9,180.4 L235.1,180.3 L235.3,180.3 L235.5,180.3 L235.7,180.3 L235.9,180.2 L236.1,180.3 L236.3,180.2 L236.6,180.2 L236.8,180.3 L237.0,180.3 L237.2,180.3 L237.4,180.5 L237.6,180.7 L237.8,180.8 L238.0,180.8 L238.2,180.8 L238.4,180.6 L238.7,180.5 L238.9,180.4 L239.1,180.4 L239.3,180.4 L239.5,180.4 L239.7,180.4 L239.9,180.5 L240.1,180.7 L240.3,180.7 L240.5,180.7 L240.8,180.8 L241.0,180.8 L241.2,180.7 L241.4,180.8 L241.6,180.9 L241.8,181.0 L242.0,181.0 L242.2,181.1 L242.4,181.1 L242.6,181.1 L242.9,181.1 L243.1,181.1 L243.3,181.0 L243.5,181.0 L243.7,180.9 L243.9,180.8 L244.1,180.7 L244.3,180.6 L244.5,180.6 L244.7,180.7 L245.0,180.7 L245.2,180.7 L245.4,180.7 L245.6,180.8 L245.8,180.8 L246.0,180.9 L246.2,180.9 L246.4,181.0 L246.6,181.2 L246.8,181.3 L247.1,181.3 L247.3,181.2 L247.5,181.1 L247.7,181.1 L247.9,181.1 L248.1,181.0 L248.3,180.9 L248.5,180.8 L248.7,180.8 L248.9,180.7 L249.2,180.6 L249.4,180.6 L249.6,180.5 L249.8,180.5 L250.0,180.6 L250.2,180.5 L250.4,180.5 L250.6,180.4 L250.8,180.4 L251.0,180.3 L251.3,180.2 L251.5,180.2 L251.7,180.3 L251.9,180.3 L252.1,180.3 L252.3,180.1 L252.5,179.9 L252.7,179.9 L252.9,179.8 L253.1,179.7 L253.4,179.6 L253.6,179.5 L253.8,179.4 L254.0,179.2 L254.2,179.0 L254.4,178.8 L254.6,178.7 L254.8,178.5 L255.0,178.2 L255.2,178.0 L255.5,177.8 L255.7,177.5 L255.9,177.3 L256.1,177.1 L256.3,176.9 L256.5,176.7 L256.7,176.6 L256.9,176.6 L257.1,176.5 L257.3,176.6 L257.6,176.8 L257.8,177.0 L258.0,177.2 L258.2,177.4 L258.4,177.7 L258.6,178.0 L258.8,178.3 L259.0,178.5 L259.2,178.7 L259.4,178.9 L259.7,179.0 L259.9,179.1 L260.1,179.3 L260.3,179.4 L260.5,179.5 L260.7,179.5 L260.9,179.7 L261.1,179.8 L261.3,179.9 L261.5,180.0 L261.8,180.0 L262.0,180.0 L262.2,179.9 L262.4,179.7 L262.6,179.6 L262.8,179.4 L263.0,179.3 L263.2,179.0 L263.4,178.8 L263.6,178.6 L263.9,178.5 L264.1,178.3 L264.3,178.2 L264.5,178.2 L264.7,178.1 L264.9,177.9 L265.1,177.8 L265.3,177.9 L265.5,178.0 L265.7,178.2 L266.0,178.2 L266.2,178.3 L266.4,178.7 L266.6,178.9 L266.8,179.1 L267.0,179.4 L267.2,179.6 L267.4,179.7 L267.6,179.8 L267.8,179.9 L268.1,180.1 L268.3,180.1" fill="none" stroke="#ff08ff" stroke-width="2.7" stroke-linejoin="round" stroke-linecap="round"/>
<rect x="23.4" y="11.6" width="245.2" height="179.6" fill="none" stroke="#000" stroke-width="2.2"/>
<line x1="23.4" y1="191.2" x2="23.4" y2="195.6" stroke="#000" stroke-width="1.9"/>
<text x="23.4" y="207.7" font-family='"Liberation Sans", sans-serif' font-size="13" font-weight="bold" fill="#000" text-anchor="middle">10</text>
<line x1="58.4" y1="191.2" x2="58.4" y2="195.6" stroke="#000" stroke-width="1.9"/>
<text x="58.4" y="207.7" font-family='"Liberation Sans", sans-serif' font-size="13" font-weight="bold" fill="#000" text-anchor="middle">20</text>
<line x1="93.4" y1="191.2" x2="93.4" y2="195.6" stroke="#000" stroke-width="1.9"/>
<text x="93.4" y="207.7" font-family='"Liberation Sans", sans-serif' font-size="13" font-weight="bold" fill="#000" text-anchor="middle">30</text>
<line x1="128.4" y1="191.2" x2="128.4" y2="195.6" stroke="#000" stroke-width="1.9"/>
<text x="128.4" y="207.7" font-family='"Liberation Sans", sans-serif' font-size="13" font-weight="bold" fill="#000" text-anchor="middle">40</text>
<line x1="163.4" y1="191.2" x2="163.4" y2="195.6" stroke="#000" stroke-width="1.9"/>
<text x="163.4" y="207.7" font-family='"Liberation Sans", sans-serif' font-size="13" font-weight="bold" fill="#000" text-anchor="middle">50</text>
<line x1="198.4" y1="191.2" x2="198.4" y2="195.6" stroke="#000" stroke-width="1.9"/>
<text x="198.4" y="207.7" font-family='"Liberation Sans", sans-serif' font-size="13" font-weight="bold" fill="#000" text-anchor="middle">60</text>
<line x1="233.4" y1="191.2" x2="233.4" y2="195.6" stroke="#000" stroke-width="1.9"/>
<text x="233.4" y="207.7" font-family='"Liberation Sans", sans-serif' font-size="13" font-weight="bold" fill="#000" text-anchor="middle">70</text>
<line x1="268.4" y1="191.2" x2="268.4" y2="195.6" stroke="#000" stroke-width="1.9"/>
<text x="268.4" y="207.7" font-family='"Liberation Sans", sans-serif' font-size="13" font-weight="bold" fill="#000" text-anchor="middle">80</text>
<text x="158.9" y="218.4" font-family='"Liberation Serif", serif' font-size="13" font-weight="bold" fill="#000" text-anchor="middle" textLength="68.0" lengthAdjust="spacingAndGlyphs">2θ (degree)</text>
<text x="18.9" y="110.1" font-family='"Liberation Serif", serif' font-size="13.3" font-weight="bold" fill="#000" text-anchor="middle" transform="rotate(-90 18.9 110.1)" textLength="82.8" lengthAdjust="spacingAndGlyphs">Intensity (a.u)</text>
<text x="25.2" y="26.8" font-family='"Liberation Serif", serif' font-size="19.2" font-weight="bold" fill="#000" text-anchor="start" textLength="22.3" lengthAdjust="spacingAndGlyphs">(a)</text>
<text x="95" y="44.4" font-family='"Liberation Serif", serif' font-size="11" font-weight="bold" fill="#000" text-anchor="start" transform="rotate(-90 95 44.4)" textLength="23.6" lengthAdjust="spacingAndGlyphs">(111)</text>
<text x="110.8" y="63.4" font-family='"Liberation Serif", serif' font-size="11" font-weight="bold" fill="#000" text-anchor="start" transform="rotate(-90 110.8 63.4)" textLength="23.6" lengthAdjust="spacingAndGlyphs">(200)</text>
<text x="158.6" y="57.6" font-family='"Liberation Serif", serif' font-size="11" font-weight="bold" fill="#000" text-anchor="start" transform="rotate(-90 158.6 57.6)" textLength="23.6" lengthAdjust="spacingAndGlyphs">(220)</text>
<text x="190.6" y="60.9" font-family='"Liberation Serif", serif' font-size="11" font-weight="bold" fill="#000" text-anchor="start" transform="rotate(-90 190.6 60.9)" textLength="23.6" lengthAdjust="spacingAndGlyphs">(311)</text>
<text x="201.0" y="71.10000000000001" font-family='"Liberation Serif", serif' font-size="11" font-weight="bold" fill="#000" text-anchor="start" transform="rotate(-90 201.0 71.10000000000001)" textLength="23.6" lengthAdjust="spacingAndGlyphs">(222)</text>
<text x="237.1" y="69.80000000000001" font-family='"Liberation Serif", serif' font-size="11" font-weight="bold" fill="#000" text-anchor="start" transform="rotate(-90 237.1 69.80000000000001)" textLength="23.6" lengthAdjust="spacingAndGlyphs">(400)</text>
<text x="263" y="68.5" font-family='"Liberation Serif", serif' font-size="11" font-weight="bold" fill="#000" text-anchor="start" transform="rotate(-90 263 68.5)" textLength="23.6" lengthAdjust="spacingAndGlyphs">(331)</text>
<text x="266.2" y="36" font-family='"Liberation Serif", serif' font-size="10.5" font-weight="bold" fill="#0f830f" text-anchor="end" textLength="70.1" lengthAdjust="spacingAndGlyphs">4.5% Co-CeO<tspan dy="3.3">2</tspan></text>
<text x="266.2" y="88.6" font-family='"Liberation Serif", serif' font-size="10.5" font-weight="bold" fill="#0a0aff" text-anchor="end" textLength="62.2" lengthAdjust="spacingAndGlyphs">3% Co-CeO<tspan dy="3.3">2</tspan></text>
<text x="266.2" y="125.2" font-family='"Liberation Serif", serif' font-size="10.5" font-weight="bold" fill="#ff0808" text-anchor="end" textLength="69.8" lengthAdjust="spacingAndGlyphs">1.5% Co-CeO<tspan dy="3.3">2</tspan></text>
<text x="266.2" y="170.5" font-family='"Liberation Serif", serif' font-size="10.5" font-weight="bold" fill="#ff08ff" text-anchor="end" textLength="26.6" lengthAdjust="spacingAndGlyphs">CeO<tspan dy="3.3">2</tspan></text>
<path d="M289.6,68.1 L289.8,68.1 L290.0,68.2 L290.2,68.2 L290.4,68.1 L290.7,68.0 L290.9,68.0 L291.1,68.1 L291.3,68.1 L291.5,68.1 L291.7,68.2 L291.9,68.5 L292.1,68.6 L292.3,68.6 L292.5,68.6 L292.8,68.7 L293.0,68.7 L293.2,68.6 L293.4,68.5 L293.6,68.5 L293.8,68.6 L294.0,68.7 L294.2,68.8 L294.4,68.7 L294.6,68.7 L294.9,68.8 L295.1,68.8 L295.3,68.8 L295.5,68.8 L295.7,68.7 L295.9,68.7 L296.1,68.6 L296.3,68.8 L296.5,69.2 L296.7,69.4 L297.0,69.3 L297.2,69.2 L297.4,69.4 L297.6,69.4 L297.8,69.2 L298.0,69.3 L298.2,69.3 L298.4,69.0 L298.6,69.0 L298.8,69.2 L299.1,69.2 L299.3,69.1 L299.5,69.2 L299.7,69.2 L299.9,69.0 L300.1,69.0 L300.3,69.1 L300.5,69.2 L300.7,69.3 L300.9,69.2 L301.2,69.2 L301.4,69.3 L301.6,69.4 L301.8,69.5 L302.0,69.6 L302.2,69.6 L302.4,69.6 L302.6,69.6 L302.8,69.7 L303.0,69.7 L303.3,69.7 L303.5,69.6 L303.7,69.6 L303.9,69.6 L304.1,69.6 L304.3,69.7 L304.5,69.8 L304.7,69.8 L304.9,69.8 L305.1,69.8 L305.4,69.9 L305.6,70.0 L305.8,70.1 L306.0,70.1 L306.2,70.0 L306.4,69.9 L306.6,69.8 L306.8,69.6 L307.0,69.6 L307.2,69.6 L307.5,69.5 L307.7,69.5 L307.9,69.5 L308.1,69.5 L308.3,69.4 L308.5,69.3 L308.7,69.3 L308.9,69.5 L309.1,69.6 L309.3,69.6 L309.6,69.7 L309.8,69.9 L310.0,70.1 L310.2,70.1 L310.4,70.1 L310.6,70.2 L310.8,70.3 L311.0,70.3 L311.2,70.2 L311.4,70.2 L311.7,70.1 L311.9,70.3 L312.1,70.3 L312.3,70.2 L312.5,70.1 L312.7,70.2 L312.9,70.1 L313.1,70.1 L313.3,70.2 L313.5,70.2 L313.8,70.1 L314.0,70.1 L314.2,69.9 L314.4,69.7 L314.6,69.8 L314.8,69.8 L315.0,69.9 L315.2,69.9 L315.4,70.1 L315.6,70.2 L315.9,70.1 L316.1,70.0 L316.3,70.0 L316.5,70.0 L316.7,70.0 L316.9,69.9 L317.1,69.9 L317.3,70.0 L317.5,69.9 L317.7,69.9 L318.0,70.1 L318.2,70.2 L318.4,70.3 L318.6,70.2 L318.8,70.0 L319.0,70.0 L319.2,70.0 L319.4,70.0 L319.6,69.8 L319.8,69.7 L320.1,69.6 L320.3,69.4 L320.5,69.4 L320.7,69.5 L320.9,69.4 L321.1,69.3 L321.3,69.5 L321.5,69.6 L321.7,69.7 L321.9,70.0 L322.2,70.3 L322.4,70.2 L322.6,70.1 L322.8,70.2 L323.0,70.3 L323.2,70.2 L323.4,70.0 L323.6,69.9 L323.8,69.8 L324.0,69.8 L324.3,69.8 L324.5,69.9 L324.7,69.8 L324.9,69.7 L325.1,69.6 L325.3,69.5 L325.5,69.3 L325.7,69.1 L325.9,69.1 L326.1,69.1 L326.4,69.2 L326.6,69.1 L326.8,69.0 L327.0,69.1 L327.2,69.1 L327.4,68.9 L327.6,68.7 L327.8,68.7 L328.0,68.7 L328.2,68.7 L328.5,68.5 L328.7,68.2 L328.9,67.9 L329.1,67.7 L329.3,67.6 L329.5,67.6 L329.7,67.4 L329.9,67.2 L330.1,67.3 L330.3,67.4 L330.6,67.5 L330.8,67.3 L331.0,67.0 L331.2,66.6 L331.4,66.3 L331.6,65.8 L331.8,65.4 L332.0,65.1 L332.2,64.9 L332.4,64.7 L332.7,64.5 L332.9,64.2 L333.1,63.9 L333.3,63.6 L333.5,63.4 L333.7,63.2 L333.9,63.2 L334.1,63.2 L334.3,63.2 L334.5,63.1 L334.8,62.9 L335.0,62.7 L335.2,62.5 L335.4,62.2 L335.6,61.7 L335.8,61.6 L336.0,61.5 L336.2,61.3 L336.4,61.0 L336.6,60.7 L336.9,60.5 L337.1,60.4 L337.3,60.3 L337.5,60.3 L337.7,60.3 L337.9,60.2 L338.1,60.0 L338.3,59.9 L338.5,59.7 L338.7,59.4 L339.0,59.3 L339.2,59.1 L339.4,58.7 L339.6,58.4 L339.8,58.3 L340.0,58.1 L340.2,58.0 L340.4,57.7 L340.6,57.6 L340.8,57.7 L341.1,57.8 L341.3,58.0 L341.5,58.2 L341.7,58.3 L341.9,58.5 L342.1,58.7 L342.3,58.9 L342.5,59.1 L342.7,59.3 L342.9,59.4 L343.2,59.6 L343.4,59.6 L343.6,59.6 L343.8,59.8 L344.0,59.8 L344.2,59.8 L344.4,60.0 L344.6,60.2 L344.8,60.5 L345.0,60.7 L345.3,60.9 L345.5,61.1 L345.7,61.3 L345.9,61.6 L346.1,61.9 L346.3,62.2 L346.5,62.6 L346.7,63.0 L346.9,63.3 L347.1,63.6 L347.4,63.8 L347.6,64.0 L347.8,64.2 L348.0,64.4 L348.2,64.6 L348.4,64.9 L348.6,65.1 L348.8,65.4 L349.0,65.7 L349.2,66.1 L349.5,66.5 L349.7,66.6 L349.9,66.8 L350.1,66.9 L350.3,67.2 L350.5,67.5 L350.7,67.6 L350.9,67.6 L351.1,67.5 L351.3,67.4 L351.6,67.2 L351.8,66.8 L352.0,66.3 L352.2,66.1 L352.4,65.7 L352.6,65.2 L352.8,64.5 L353.0,63.8 L353.2,63.0 L353.4,62.1 L353.7,61.3 L353.9,60.4 L354.1,59.7 L354.3,59.3 L354.5,59.1 L354.7,59.3 L354.9,60.0 L355.1,60.9 L355.3,62.1 L355.5,63.4 L355.8,64.6 L356.0,65.7 L356.2,66.7 L356.4,67.6 L356.6,68.3 L356.8,69.3 L357.0,70.2 L357.2,70.9 L357.4,71.5 L357.6,72.0 L357.9,72.4 L358.1,72.8 L358.3,73.2 L358.5,73.5 L358.7,73.8 L358.9,73.9 L359.1,74.1 L359.3,74.2 L359.5,74.2 L359.7,74.3 L360.0,74.5 L360.2,74.5 L360.4,74.6 L360.6,74.7 L360.8,74.6 L361.0,74.6 L361.2,74.6 L361.4,74.7 L361.6,74.9 L361.8,75.0 L362.1,74.8 L362.3,74.9 L362.5,75.2 L362.7,75.3 L362.9,75.4 L363.1,75.7 L363.3,76.0 L363.5,76.1 L363.7,76.2 L363.9,76.3 L364.2,76.2 L364.4,76.1 L364.6,76.2 L364.8,76.2 L365.0,76.1 L365.2,76.0 L365.4,76.1 L365.6,76.3 L365.8,76.4 L366.0,76.5 L366.3,76.6 L366.5,76.4 L366.7,76.3 L366.9,76.3 L367.1,76.2 L367.3,76.0 L367.5,76.1 L367.7,76.3 L367.9,76.2 L368.1,76.0 L368.4,76.0 L368.6,75.9 L368.8,75.9 L369.0,75.8 L369.2,75.5 L369.4,75.3 L369.6,75.3 L369.8,75.3 L370.0,75.2 L370.2,75.2 L370.5,75.3 L370.7,75.4 L370.9,75.7 L371.1,75.9 L371.3,76.0 L371.5,76.2 L371.7,76.6 L371.9,77.0 L372.1,77.2 L372.3,77.4 L372.6,77.6 L372.8,77.6 L373.0,77.6 L373.2,77.5 L373.4,77.5 L373.6,77.5 L373.8,77.6 L374.0,77.6 L374.2,77.6 L374.4,77.7 L374.7,77.6 L374.9,77.6 L375.1,77.6 L375.3,77.7 L375.5,77.8 L375.7,77.8 L375.9,77.7 L376.1,77.6 L376.3,77.6 L376.5,77.7 L376.8,77.7 L377.0,77.7 L377.2,77.8 L377.4,77.7 L377.6,77.7 L377.8,77.7 L378.0,77.7 L378.2,77.6 L378.4,77.6 L378.6,77.7 L378.9,77.7 L379.1,77.8 L379.3,77.8 L379.5,77.9 L379.7,77.9 L379.9,78.0 L380.1,78.1 L380.3,78.2 L380.5,78.4 L380.7,78.5 L381.0,78.9 L381.2,79.0 L381.4,78.8 L381.6,78.9 L381.8,79.0 L382.0,79.1 L382.2,79.2 L382.4,79.2 L382.6,79.0 L382.8,78.8 L383.1,78.7 L383.3,78.7 L383.5,78.6 L383.7,78.5 L383.9,78.3 L384.1,78.4 L384.3,78.6 L384.5,78.7 L384.7,78.7 L384.9,78.8 L385.2,78.9 L385.4,79.0 L385.6,79.1 L385.8,79.2 L386.0,79.0 L386.2,78.9 L386.4,79.0 L386.6,79.0 L386.8,78.9 L387.0,78.9 L387.3,79.0 L387.5,79.1 L387.7,79.1 L387.9,79.4 L388.1,79.6 L388.3,79.4 L388.5,79.3 L388.7,79.5 L388.9,79.4 L389.1,79.1 L389.4,78.8 L389.6,78.7 L389.8,78.7 L390.0,78.6 L390.2,78.7 L390.4,78.7 L390.6,78.8 L390.8,79.1 L391.0,79.2 L391.2,79.1 L391.5,79.1 L391.7,79.2 L391.9,79.1 L392.1,79.1 L392.3,79.1 L392.5,79.1 L392.7,79.1 L392.9,79.0 L393.1,79.2 L393.3,79.3 L393.6,79.4 L393.8,79.4 L394.0,79.4 L394.2,79.5 L394.4,79.5 L394.6,79.5 L394.8,79.4 L395.0,79.3 L395.2,79.1 L395.4,79.1 L395.7,79.1 L395.9,78.8 L396.1,78.6 L396.3,78.7 L396.5,78.9 L396.7,79.0 L396.9,78.9 L397.1,79.0 L397.3,79.2 L397.5,79.2 L397.8,79.1 L398.0,79.3 L398.2,79.4 L398.4,79.3 L398.6,79.2 L398.8,79.3 L399.0,79.4 L399.2,79.3 L399.4,79.1 L399.6,78.9 L399.9,78.9 L400.1,78.9 L400.3,78.8 L400.5,78.8 L400.7,78.9 L400.9,78.8 L401.1,78.7 L401.3,78.7 L401.5,78.6 L401.7,78.5 L402.0,78.4 L402.2,78.2 L402.4,78.0 L402.6,77.9 L402.8,77.8 L403.0,77.5 L403.2,77.2 L403.4,77.1 L403.6,76.9 L403.8,76.6 L404.1,76.3 L404.3,76.2 L404.5,76.1 L404.7,75.9 L404.9,75.8 L405.1,75.8 L405.3,75.8 L405.5,75.7 L405.7,75.6 L405.9,75.5 L406.2,75.5 L406.4,75.5 L406.6,75.6 L406.8,75.8 L407.0,76.0 L407.2,76.2 L407.4,76.2 L407.6,76.3 L407.8,76.4 L408.0,76.4 L408.3,76.5 L408.5,76.5 L408.7,76.3 L408.9,76.1 L409.1,76.2 L409.3,76.6 L409.5,77.0 L409.7,77.1 L409.9,77.3 L410.1,77.3 L410.4,77.4 L410.6,77.7 L410.8,77.8 L411.0,77.9 L411.2,78.0 L411.4,78.1 L411.6,78.2 L411.8,78.6 L412.0,78.7 L412.2,78.8 L412.5,78.9 L412.7,79.1 L412.9,79.0 L413.1,78.9 L413.3,79.0 L413.5,79.0 L413.7,78.9 L413.9,78.8 L414.1,78.6 L414.3,78.4 L414.6,78.3 L414.8,78.3 L415.0,78.4 L415.2,78.5 L415.4,78.5 L415.6,78.5 L415.8,78.5 L416.0,78.3 L416.2,78.3 L416.4,78.5 L416.7,78.5 L416.9,78.3 L417.1,78.4 L417.3,78.4 L417.5,78.3 L417.7,78.3 L417.9,78.2 L418.1,78.1 L418.3,77.8 L418.5,77.5 L418.8,77.4 L419.0,77.3 L419.2,77.3 L419.4,77.2 L419.6,77.0 L419.8,76.6 L420.0,76.0 L420.2,75.6 L420.4,75.4 L420.6,75.3 L420.9,75.2 L421.1,75.3 L421.3,75.6 L421.5,75.9 L421.7,76.4 L421.9,77.0 L422.1,77.4 L422.3,77.8 L422.5,78.1 L422.7,78.4 L423.0,78.7 L423.2,78.9 L423.4,79.1 L423.6,79.3 L423.8,79.4 L424.0,79.5 L424.2,79.6 L424.4,79.8 L424.6,80.0 L424.8,80.2 L425.1,80.4 L425.3,80.5 L425.5,80.6 L425.7,80.6 L425.9,80.5 L426.1,80.7 L426.3,80.7 L426.5,80.8 L426.7,80.9 L426.9,81.1 L427.2,81.3 L427.4,81.5 L427.6,81.7 L427.8,81.8 L428.0,81.8 L428.2,81.9 L428.4,81.9 L428.6,81.9 L428.8,81.8 L429.0,81.7 L429.3,81.7 L429.5,81.6 L429.7,81.4 L429.9,81.3 L430.1,81.2 L430.3,81.2 L430.5,81.4 L430.7,81.5 L430.9,81.7 L431.1,81.9 L431.4,81.9 L431.6,81.8 L431.8,81.7 L432.0,81.7 L432.2,81.8 L432.4,81.8 L432.6,81.8 L432.8,81.7 L433.0,81.7 L433.2,81.9 L433.5,82.1 L433.7,82.2 L433.9,82.3 L434.1,82.3 L434.3,82.2 L434.5,82.3 L434.7,82.4 L434.9,82.5 L435.1,82.4 L435.3,82.4 L435.6,82.3 L435.8,82.2 L436.0,82.1 L436.2,82.0 L436.4,82.0 L436.6,82.2 L436.8,82.3 L437.0,82.3 L437.2,82.3 L437.4,82.4 L437.7,82.4 L437.9,82.3 L438.1,82.3 L438.3,82.4 L438.5,82.3 L438.7,82.4 L438.9,82.5 L439.1,82.6 L439.3,82.7 L439.5,82.8 L439.8,82.8 L440.0,82.9 L440.2,83.3 L440.4,83.4 L440.6,83.3 L440.8,83.4 L441.0,83.3 L441.2,83.3 L441.4,83.2 L441.6,83.1 L441.9,83.1 L442.1,83.2 L442.3,83.2 L442.5,83.1 L442.7,83.1 L442.9,83.1 L443.1,83.0 L443.3,82.9 L443.5,83.0 L443.7,82.9 L444.0,82.9 L444.2,82.8 L444.4,82.8 L444.6,82.8 L444.8,82.7 L445.0,82.5 L445.2,82.4 L445.4,82.4 L445.6,82.5 L445.8,82.5 L446.1,82.5 L446.3,82.7 L446.5,82.9 L446.7,83.0 L446.9,83.2 L447.1,83.4 L447.3,83.4 L447.5,83.5 L447.7,83.5 L447.9,83.5 L448.2,83.5 L448.4,83.4 L448.6,83.3 L448.8,83.2 L449.0,83.1 L449.2,82.9 L449.4,82.8 L449.6,82.6 L449.8,82.5 L450.0,82.5 L450.3,82.3 L450.5,82.1 L450.7,81.9 L450.9,81.8 L451.1,81.7 L451.3,81.4 L451.5,81.2 L451.7,81.2 L451.9,81.2 L452.1,81.1 L452.4,81.2 L452.6,81.6 L452.8,82.0 L453.0,82.1 L453.2,82.2 L453.4,82.4 L453.6,82.6 L453.8,82.8 L454.0,82.8 L454.2,82.9 L454.5,83.1 L454.7,83.2 L454.9,83.3 L455.1,83.6 L455.3,83.8 L455.5,83.9 L455.7,84.0 L455.9,84.2 L456.1,84.2 L456.3,84.1 L456.6,84.0 L456.8,84.1 L457.0,84.3 L457.2,84.3 L457.4,84.4 L457.6,84.6 L457.8,84.6 L458.0,84.7 L458.2,84.8 L458.4,84.9 L458.7,85.0 L458.9,85.1 L459.1,85.0 L459.3,84.9 L459.5,84.9 L459.7,84.8 L459.9,84.6 L460.1,84.5 L460.3,84.5 L460.5,84.6 L460.8,84.5 L461.0,84.3 L461.2,84.3 L461.4,84.4 L461.6,84.4 L461.8,84.3 L462.0,84.3 L462.2,84.3 L462.4,84.5 L462.6,84.7 L462.9,84.7 L463.1,84.7 L463.3,84.8 L463.5,84.9 L463.7,85.2 L463.9,85.5 L464.1,85.6 L464.3,85.5 L464.5,85.4 L464.7,85.4 L465.0,85.4 L465.2,85.3 L465.4,85.2 L465.6,85.2 L465.8,85.1 L466.0,85.1 L466.2,85.2 L466.4,85.2 L466.6,85.2 L466.8,85.3 L467.1,85.2 L467.3,84.9 L467.5,84.9 L467.7,85.1 L467.9,85.1 L468.1,85.2 L468.3,85.3 L468.5,85.3 L468.7,85.3 L468.9,85.0 L469.2,84.9 L469.4,84.9 L469.6,85.0 L469.8,85.2 L470.0,85.2 L470.2,85.2 L470.4,85.3 L470.6,85.4 L470.8,85.6 L471.0,85.7 L471.3,85.9 L471.5,85.9 L471.7,85.8 L471.9,85.7 L472.1,85.7 L472.3,85.7 L472.5,85.7 L472.7,85.7 L472.9,85.8 L473.1,85.6 L473.4,85.5 L473.6,85.5 L473.8,85.7 L474.0,85.9 L474.2,85.9 L474.4,85.9 L474.6,85.8 L474.8,85.8 L475.0,85.7 L475.2,85.7 L475.5,85.6 L475.7,85.6 L475.9,85.5 L476.1,85.3 L476.3,85.3 L476.5,85.4 L476.7,85.4 L476.9,85.3 L477.1,85.5 L477.3,85.7 L477.6,85.7 L477.8,85.7 L478.0,85.7 L478.2,85.7 L478.4,85.7 L478.6,85.6 L478.8,85.3 L479.0,85.2 L479.2,85.3 L479.4,85.4 L479.7,85.5 L479.9,85.6 L480.1,85.6 L480.3,85.7 L480.5,85.9 L480.7,86.0 L480.9,86.0 L481.1,85.8 L481.3,85.9 L481.5,86.0 L481.8,86.0 L482.0,85.9 L482.2,85.8 L482.4,85.9 L482.6,85.8 L482.8,85.8 L483.0,85.7 L483.2,85.7 L483.4,86.0 L483.6,86.2 L483.9,86.4 L484.1,86.6 L484.3,86.5 L484.5,86.4 L484.7,86.4 L484.9,86.4 L485.1,86.4 L485.3,86.6 L485.5,86.8 L485.7,86.9 L486.0,86.9 L486.2,86.7 L486.4,86.7 L486.6,86.6 L486.8,86.5 L487.0,86.4 L487.2,86.4 L487.4,86.5 L487.6,86.6 L487.8,86.5 L488.1,86.3 L488.3,86.2 L488.5,86.3 L488.7,86.3 L488.9,86.2 L489.1,86.3 L489.3,86.4 L489.5,86.5 L489.7,86.6 L489.9,86.7 L490.2,86.6 L490.4,86.6 L490.6,86.7 L490.8,86.6 L491.0,86.3 L491.2,86.3 L491.4,86.4 L491.6,86.3 L491.8,86.2 L492.0,86.2 L492.3,86.3 L492.5,86.5 L492.7,86.6 L492.9,86.7 L493.1,86.8 L493.3,86.9 L493.5,86.9 L493.7,86.9 L493.9,86.9 L494.1,86.8 L494.4,86.6 L494.6,86.6 L494.8,86.7 L495.0,86.8 L495.2,86.8 L495.4,86.9 L495.6,87.0 L495.8,87.1 L496.0,87.0 L496.2,86.9 L496.5,86.9 L496.7,86.7 L496.9,86.5 L497.1,86.6 L497.3,86.8 L497.5,86.8 L497.7,86.8 L497.9,86.9 L498.1,87.0 L498.3,87.2 L498.6,87.2 L498.8,87.2 L499.0,87.3 L499.2,87.3 L499.4,87.1 L499.6,87.0 L499.8,86.9 L500.0,86.7 L500.2,86.8 L500.4,86.9 L500.7,86.9 L500.9,86.9 L501.1,86.9 L501.3,86.9 L501.5,87.0 L501.7,87.2 L501.9,87.2 L502.1,87.1 L502.3,87.0 L502.5,87.0 L502.8,87.0 L503.0,87.0 L503.2,87.1 L503.4,87.1 L503.6,87.1 L503.8,87.2 L504.0,87.4 L504.2,87.4 L504.4,87.4 L504.6,87.2 L504.9,87.1 L505.1,87.1 L505.3,87.0 L505.5,86.9 L505.7,87.0 L505.9,87.1 L506.1,87.2 L506.3,87.3 L506.5,87.3 L506.7,87.3 L507.0,87.4 L507.2,87.4 L507.4,87.2 L507.6,87.2 L507.8,87.1 L508.0,87.1 L508.2,87.1 L508.4,87.1 L508.6,87.1 L508.8,87.2 L509.1,87.2 L509.3,87.2 L509.5,87.2 L509.7,87.2 L509.9,87.2 L510.1,87.1 L510.3,87.1 L510.5,87.2 L510.7,87.3 L510.9,87.4 L511.2,87.4 L511.4,87.4 L511.6,87.3 L511.8,87.3 L512.0,87.3 L512.2,87.4 L512.4,87.4 L512.6,87.3 L512.8,87.2 L513.0,87.2 L513.3,87.2 L513.5,87.1 L513.7,87.0 L513.9,86.8 L514.1,86.8 L514.3,86.8 L514.5,86.7 L514.7,86.8 L514.9,87.0 L515.1,87.0 L515.4,86.8 L515.6,86.7 L515.8,86.7 L516.0,86.8 L516.2,86.9 L516.4,87.0 L516.6,87.0 L516.8,87.2 L517.0,87.3 L517.2,87.5 L517.5,87.7 L517.7,87.6 L517.9,87.5 L518.1,87.4 L518.3,87.2 L518.5,87.2 L518.7,87.3 L518.9,87.4 L519.1,87.4 L519.3,87.4 L519.6,87.4 L519.8,87.4 L520.0,87.3 L520.2,87.4 L520.4,87.4 L520.6,87.3 L520.8,87.3 L521.0,87.2 L521.2,87.2 L521.4,87.2 L521.7,87.3 L521.9,87.4 L522.1,87.3 L522.3,87.2 L522.5,87.1 L522.7,86.9 L522.9,87.0 L523.1,87.0 L523.3,87.1 L523.5,87.2 L523.8,87.1 L524.0,86.9 L524.2,87.1 L524.4,87.3 L524.6,87.4 L524.8,87.6 L525.0,87.8 L525.2,87.8 L525.4,87.6 L525.6,87.5 L525.9,87.6 L526.1,87.6 L526.3,87.5 L526.5,87.5 L526.7,87.7 L526.9,87.9 L527.1,87.9 L527.3,87.8 L527.5,87.7 L527.7,87.7 L528.0,87.7 L528.2,87.7 L528.4,87.6 L528.6,87.5 L528.8,87.5 L529.0,87.6 L529.2,87.7 L529.4,87.7 L529.6,87.5 L529.8,87.5 L530.1,87.5 L530.3,87.3 L530.5,87.1 L530.7,86.9 L530.9,86.9 L531.1,87.0 L531.3,87.1 L531.5,87.2 L531.7,87.3 L531.9,87.2 L532.2,87.2 L532.4,87.2 L532.6,87.2 L532.8,87.2 L533.0,87.3 L533.2,87.3 L533.4,87.3 L533.6,87.4 L533.8,87.5 L534.0,87.6 L534.3,87.7 L534.5,87.8" fill="none" stroke="#0f830f" stroke-width="2.7" stroke-linejoin="round" stroke-linecap="round"/>
<path d="M289.6,98.1 L289.8,98.1 L290.0,98.1 L290.2,98.2 L290.4,98.4 L290.7,98.5 L290.9,98.6 L291.1,98.6 L291.3,98.7 L291.5,99.0 L291.7,99.3 L291.9,99.7 L292.1,99.8 L292.3,99.9 L292.5,99.8 L292.8,99.7 L293.0,99.5 L293.2,99.3 L293.4,99.2 L293.6,99.1 L293.8,99.0 L294.0,99.0 L294.2,99.0 L294.4,99.1 L294.6,99.1 L294.9,99.1 L295.1,99.1 L295.3,99.2 L295.5,99.4 L295.7,99.6 L295.9,99.7 L296.1,99.7 L296.3,99.8 L296.5,99.9 L296.7,99.9 L297.0,99.9 L297.2,99.9 L297.4,100.0 L297.6,100.1 L297.8,100.1 L298.0,100.2 L298.2,100.2 L298.4,100.1 L298.6,99.9 L298.8,99.8 L299.1,99.8 L299.3,99.8 L299.5,99.8 L299.7,99.9 L299.9,99.9 L300.1,99.9 L300.3,100.1 L300.5,100.3 L300.7,100.4 L300.9,100.4 L301.2,100.3 L301.4,100.2 L301.6,100.4 L301.8,100.7 L302.0,100.8 L302.2,100.6 L302.4,100.5 L302.6,100.6 L302.8,100.8 L303.0,100.9 L303.3,100.9 L303.5,100.8 L303.7,100.8 L303.9,100.8 L304.1,100.7 L304.3,100.6 L304.5,100.6 L304.7,100.6 L304.9,100.7 L305.1,100.7 L305.4,100.6 L305.6,100.5 L305.8,100.5 L306.0,100.6 L306.2,100.7 L306.4,100.8 L306.6,100.9 L306.8,100.9 L307.0,100.9 L307.2,101.0 L307.5,101.1 L307.7,100.9 L307.9,100.7 L308.1,100.7 L308.3,100.6 L308.5,100.5 L308.7,100.3 L308.9,100.3 L309.1,100.4 L309.3,100.4 L309.6,100.4 L309.8,100.4 L310.0,100.4 L310.2,100.5 L310.4,100.7 L310.6,100.8 L310.8,100.8 L311.0,100.9 L311.2,101.0 L311.4,100.8 L311.7,100.8 L311.9,100.9 L312.1,101.0 L312.3,101.0 L312.5,101.0 L312.7,101.1 L312.9,101.1 L313.1,101.0 L313.3,100.8 L313.5,100.7 L313.8,100.8 L314.0,100.8 L314.2,100.8 L314.4,100.8 L314.6,100.7 L314.8,100.7 L315.0,100.9 L315.2,101.0 L315.4,101.1 L315.6,101.2 L315.9,101.2 L316.1,101.3 L316.3,101.3 L316.5,101.4 L316.7,101.4 L316.9,101.3 L317.1,101.2 L317.3,101.0 L317.5,100.8 L317.7,100.8 L318.0,100.9 L318.2,100.8 L318.4,100.7 L318.6,100.6 L318.8,100.7 L319.0,100.8 L319.2,100.7 L319.4,100.7 L319.6,100.9 L319.8,101.0 L320.1,101.0 L320.3,101.1 L320.5,101.1 L320.7,100.7 L320.9,100.3 L321.1,100.2 L321.3,100.0 L321.5,99.8 L321.7,99.8 L321.9,99.9 L322.2,99.9 L322.4,99.9 L322.6,100.0 L322.8,100.3 L323.0,100.4 L323.2,100.5 L323.4,100.5 L323.6,100.3 L323.8,100.3 L324.0,100.4 L324.3,100.4 L324.5,100.2 L324.7,100.2 L324.9,100.3 L325.1,100.4 L325.3,100.4 L325.5,100.5 L325.7,100.4 L325.9,100.2 L326.1,100.3 L326.4,100.4 L326.6,100.3 L326.8,100.1 L327.0,100.0 L327.2,100.0 L327.4,100.0 L327.6,100.1 L327.8,100.2 L328.0,100.2 L328.2,100.0 L328.5,99.6 L328.7,99.3 L328.9,99.0 L329.1,98.8 L329.3,98.8 L329.5,98.7 L329.7,98.6 L329.9,98.7 L330.1,98.7 L330.3,98.6 L330.6,98.4 L330.8,98.2 L331.0,98.1 L331.2,97.8 L331.4,97.6 L331.6,97.5 L331.8,97.3 L332.0,97.0 L332.2,96.6 L332.4,96.5 L332.7,96.5 L332.9,96.4 L333.1,96.0 L333.3,95.9 L333.5,95.9 L333.7,95.5 L333.9,95.3 L334.1,95.3 L334.3,95.1 L334.5,94.9 L334.8,94.5 L335.0,94.3 L335.2,94.2 L335.4,94.0 L335.6,93.7 L335.8,93.5 L336.0,93.5 L336.2,93.5 L336.4,93.3 L336.6,92.9 L336.9,92.7 L337.1,92.8 L337.3,92.7 L337.5,92.5 L337.7,92.2 L337.9,92.0 L338.1,91.9 L338.3,91.7 L338.5,91.6 L338.7,91.6 L339.0,91.7 L339.2,91.5 L339.4,91.3 L339.6,91.2 L339.8,91.0 L340.0,90.8 L340.2,90.7 L340.4,90.7 L340.6,90.7 L340.8,90.7 L341.1,90.7 L341.3,90.7 L341.5,90.8 L341.7,91.0 L341.9,91.1 L342.1,91.1 L342.3,91.0 L342.5,91.1 L342.7,91.3 L342.9,91.5 L343.2,91.6 L343.4,91.7 L343.6,91.7 L343.8,91.9 L344.0,92.1 L344.2,92.4 L344.4,92.4 L344.6,92.5 L344.8,92.9 L345.0,93.2 L345.3,93.3 L345.5,93.3 L345.7,93.5 L345.9,93.8 L346.1,94.2 L346.3,94.5 L346.5,94.7 L346.7,94.9 L346.9,95.1 L347.1,95.3 L347.4,95.5 L347.6,95.7 L347.8,95.7 L348.0,95.9 L348.2,96.1 L348.4,96.4 L348.6,96.8 L348.8,97.1 L349.0,97.2 L349.2,97.2 L349.5,97.3 L349.7,97.4 L349.9,97.5 L350.1,97.5 L350.3,97.4 L350.5,97.4 L350.7,97.4 L350.9,97.3 L351.1,97.4 L351.3,97.4 L351.6,97.3 L351.8,97.2 L352.0,97.2 L352.2,97.1 L352.4,96.9 L352.6,96.7 L352.8,96.4 L353.0,95.9 L353.2,95.4 L353.4,95.0 L353.7,94.5 L353.9,94.0 L354.1,93.8 L354.3,93.7 L354.5,93.7 L354.7,93.9 L354.9,94.4 L355.1,94.9 L355.3,95.6 L355.5,96.5 L355.8,97.4 L356.0,98.1 L356.2,98.8 L356.4,99.6 L356.6,100.2 L356.8,100.8 L357.0,101.4 L357.2,101.9 L357.4,102.3 L357.6,102.6 L357.9,102.9 L358.1,103.2 L358.3,103.5 L358.5,103.8 L358.7,104.1 L358.9,104.1 L359.1,103.9 L359.3,104.0 L359.5,104.1 L359.7,104.3 L360.0,104.5 L360.2,104.7 L360.4,104.7 L360.6,104.8 L360.8,104.9 L361.0,105.0 L361.2,105.1 L361.4,105.4 L361.6,105.5 L361.8,105.6 L362.1,105.6 L362.3,105.7 L362.5,105.9 L362.7,106.0 L362.9,105.9 L363.1,105.8 L363.3,105.9 L363.5,106.0 L363.7,105.9 L363.9,105.9 L364.2,105.8 L364.4,105.9 L364.6,106.0 L364.8,106.0 L365.0,106.1 L365.2,106.1 L365.4,105.9 L365.6,105.8 L365.8,105.9 L366.0,106.1 L366.3,106.3 L366.5,106.4 L366.7,106.4 L366.9,106.6 L367.1,106.6 L367.3,106.6 L367.5,106.6 L367.7,106.4 L367.9,106.1 L368.1,106.0 L368.4,105.9 L368.6,105.8 L368.8,105.6 L369.0,105.6 L369.2,105.7 L369.4,105.9 L369.6,105.9 L369.8,105.7 L370.0,105.6 L370.2,105.6 L370.5,105.6 L370.7,105.7 L370.9,105.7 L371.1,105.7 L371.3,105.8 L371.5,105.9 L371.7,106.0 L371.9,106.2 L372.1,106.4 L372.3,106.5 L372.6,106.5 L372.8,106.8 L373.0,107.1 L373.2,107.4 L373.4,107.5 L373.6,107.6 L373.8,107.6 L374.0,107.5 L374.2,107.5 L374.4,107.5 L374.7,107.2 L374.9,107.2 L375.1,107.4 L375.3,107.4 L375.5,107.4 L375.7,107.6 L375.9,107.9 L376.1,108.1 L376.3,108.1 L376.5,108.2 L376.8,108.4 L377.0,108.4 L377.2,108.4 L377.4,108.4 L377.6,108.4 L377.8,108.3 L378.0,108.3 L378.2,108.2 L378.4,108.1 L378.6,108.0 L378.9,108.1 L379.1,108.3 L379.3,108.3 L379.5,108.1 L379.7,108.1 L379.9,108.0 L380.1,108.0 L380.3,108.1 L380.5,108.2 L380.7,108.5 L381.0,108.7 L381.2,108.8 L381.4,109.0 L381.6,109.3 L381.8,109.3 L382.0,109.2 L382.2,109.2 L382.4,109.0 L382.6,108.8 L382.8,108.6 L383.1,108.6 L383.3,108.5 L383.5,108.6 L383.7,108.7 L383.9,108.7 L384.1,108.8 L384.3,108.9 L384.5,108.8 L384.7,108.8 L384.9,108.9 L385.2,108.9 L385.4,108.8 L385.6,108.8 L385.8,108.9 L386.0,108.9 L386.2,108.9 L386.4,108.8 L386.6,108.7 L386.8,108.8 L387.0,108.7 L387.3,108.7 L387.5,108.9 L387.7,109.0 L387.9,109.1 L388.1,109.1 L388.3,109.0 L388.5,109.0 L388.7,109.0 L388.9,109.0 L389.1,109.1 L389.4,109.3 L389.6,109.5 L389.8,109.6 L390.0,109.7 L390.2,109.8 L390.4,110.1 L390.6,110.3 L390.8,110.3 L391.0,110.3 L391.2,110.2 L391.5,110.1 L391.7,110.1 L391.9,110.1 L392.1,110.2 L392.3,110.3 L392.5,110.1 L392.7,110.0 L392.9,110.0 L393.1,109.9 L393.3,109.9 L393.6,109.9 L393.8,109.8 L394.0,109.8 L394.2,109.9 L394.4,109.9 L394.6,110.0 L394.8,109.9 L395.0,109.9 L395.2,110.0 L395.4,109.8 L395.7,109.8 L395.9,110.0 L396.1,109.9 L396.3,109.8 L396.5,109.7 L396.7,109.6 L396.9,109.5 L397.1,109.5 L397.3,109.5 L397.5,109.5 L397.8,109.4 L398.0,109.6 L398.2,109.6 L398.4,109.6 L398.6,109.7 L398.8,109.7 L399.0,109.6 L399.2,109.7 L399.4,109.6 L399.6,109.3 L399.9,109.2 L400.1,109.3 L400.3,109.3 L400.5,109.2 L400.7,109.2 L400.9,109.2 L401.1,109.2 L401.3,109.1 L401.5,109.0 L401.7,108.8 L402.0,108.7 L402.2,108.5 L402.4,108.2 L402.6,108.1 L402.8,107.9 L403.0,107.9 L403.2,107.8 L403.4,107.6 L403.6,107.6 L403.8,107.6 L404.1,107.5 L404.3,107.4 L404.5,107.3 L404.7,107.2 L404.9,107.1 L405.1,107.1 L405.3,107.1 L405.5,107.2 L405.7,107.1 L405.9,106.8 L406.2,106.7 L406.4,106.6 L406.6,106.5 L406.8,106.3 L407.0,106.5 L407.2,106.6 L407.4,106.6 L407.6,106.5 L407.8,106.5 L408.0,106.6 L408.3,106.9 L408.5,107.1 L408.7,107.1 L408.9,107.2 L409.1,107.3 L409.3,107.6 L409.5,107.9 L409.7,108.1 L409.9,108.3 L410.1,108.7 L410.4,108.8 L410.6,108.7 L410.8,108.7 L411.0,108.7 L411.2,108.7 L411.4,108.6 L411.6,108.8 L411.8,108.9 L412.0,109.0 L412.2,109.1 L412.5,109.3 L412.7,109.4 L412.9,109.5 L413.1,109.6 L413.3,109.8 L413.5,109.9 L413.7,109.9 L413.9,110.0 L414.1,110.0 L414.3,110.1 L414.6,110.1 L414.8,110.1 L415.0,110.2 L415.2,110.3 L415.4,110.5 L415.6,110.4 L415.8,110.3 L416.0,110.2 L416.2,110.4 L416.4,110.3 L416.7,110.3 L416.9,110.1 L417.1,109.8 L417.3,109.6 L417.5,109.6 L417.7,109.7 L417.9,109.7 L418.1,109.6 L418.3,109.5 L418.5,109.4 L418.8,109.2 L419.0,109.1 L419.2,108.8 L419.4,108.4 L419.6,108.1 L419.8,107.8 L420.0,107.5 L420.2,107.2 L420.4,106.9 L420.6,106.9 L420.9,106.8 L421.1,106.8 L421.3,107.0 L421.5,107.2 L421.7,107.5 L421.9,107.8 L422.1,108.2 L422.3,108.5 L422.5,108.8 L422.7,109.2 L423.0,109.4 L423.2,109.5 L423.4,109.8 L423.6,110.1 L423.8,110.3 L424.0,110.5 L424.2,110.9 L424.4,111.3 L424.6,111.5 L424.8,111.5 L425.1,111.5 L425.3,111.3 L425.5,111.3 L425.7,111.4 L425.9,111.5 L426.1,111.4 L426.3,111.4 L426.5,111.5 L426.7,111.6 L426.9,111.7 L427.2,111.7 L427.4,111.9 L427.6,111.8 L427.8,111.8 L428.0,111.7 L428.2,111.7 L428.4,111.7 L428.6,112.0 L428.8,112.1 L429.0,111.9 L429.3,111.8 L429.5,111.8 L429.7,111.7 L429.9,111.6 L430.1,111.7 L430.3,111.8 L430.5,111.9 L430.7,112.0 L430.9,112.1 L431.1,112.0 L431.4,112.1 L431.6,112.2 L431.8,112.3 L432.0,112.3 L432.2,112.3 L432.4,112.3 L432.6,112.3 L432.8,112.2 L433.0,112.2 L433.2,112.2 L433.5,112.4 L433.7,112.4 L433.9,112.3 L434.1,112.3 L434.3,112.2 L434.5,112.0 L434.7,111.9 L434.9,112.0 L435.1,112.2 L435.3,112.3 L435.6,112.2 L435.8,112.2 L436.0,112.4 L436.2,112.6 L436.4,112.6 L436.6,112.4 L436.8,112.4 L437.0,112.5 L437.2,112.5 L437.4,112.6 L437.7,112.6 L437.9,112.6 L438.1,112.5 L438.3,112.6 L438.5,112.7 L438.7,112.7 L438.9,112.5 L439.1,112.5 L439.3,112.7 L439.5,112.7 L439.8,112.6 L440.0,112.6 L440.2,112.7 L440.4,112.8 L440.6,112.8 L440.8,112.9 L441.0,112.9 L441.2,112.9 L441.4,113.0 L441.6,113.1 L441.9,113.2 L442.1,113.3 L442.3,113.2 L442.5,113.2 L442.7,113.1 L442.9,113.1 L443.1,113.0 L443.3,113.1 L443.5,113.2 L443.7,113.2 L444.0,113.2 L444.2,113.3 L444.4,113.2 L444.6,113.2 L444.8,113.1 L445.0,113.1 L445.2,113.1 L445.4,113.2 L445.6,113.3 L445.8,113.3 L446.1,113.1 L446.3,112.9 L446.5,112.6 L446.7,112.6 L446.9,112.8 L447.1,112.8 L447.3,112.7 L447.5,112.7 L447.7,112.7 L447.9,112.7 L448.2,112.9 L448.4,113.0 L448.6,113.0 L448.8,113.2 L449.0,113.3 L449.2,113.3 L449.4,113.1 L449.6,112.9 L449.8,112.7 L450.0,112.5 L450.3,112.4 L450.5,112.3 L450.7,111.9 L450.9,111.6 L451.1,111.6 L451.3,111.5 L451.5,111.5 L451.7,111.6 L451.9,111.5 L452.1,111.3 L452.4,111.4 L452.6,111.5 L452.8,111.6 L453.0,111.8 L453.2,111.9 L453.4,112.1 L453.6,112.4 L453.8,112.5 L454.0,112.8 L454.2,113.1 L454.5,113.1 L454.7,113.1 L454.9,113.2 L455.1,113.4 L455.3,113.4 L455.5,113.3 L455.7,113.2 L455.9,113.2 L456.1,113.2 L456.3,113.2 L456.6,113.3 L456.8,113.3 L457.0,113.4 L457.2,113.4 L457.4,113.6 L457.6,113.8 L457.8,114.0 L458.0,114.1 L458.2,114.0 L458.4,114.0 L458.7,114.1 L458.9,114.0 L459.1,113.8 L459.3,113.7 L459.5,113.8 L459.7,113.9 L459.9,113.8 L460.1,113.6 L460.3,113.6 L460.5,113.5 L460.8,113.6 L461.0,113.8 L461.2,113.9 L461.4,114.1 L461.6,114.3 L461.8,114.4 L462.0,114.5 L462.2,114.6 L462.4,114.6 L462.6,114.5 L462.9,114.6 L463.1,114.6 L463.3,114.5 L463.5,114.5 L463.7,114.5 L463.9,114.5 L464.1,114.5 L464.3,114.5 L464.5,114.7 L464.7,114.8 L465.0,114.8 L465.2,114.8 L465.4,114.9 L465.6,114.9 L465.8,115.0 L466.0,115.0 L466.2,114.9 L466.4,114.6 L466.6,114.4 L466.8,114.5 L467.1,114.6 L467.3,114.7 L467.5,114.8 L467.7,114.9 L467.9,114.9 L468.1,115.0 L468.3,115.1 L468.5,114.9 L468.7,114.6 L468.9,114.5 L469.2,114.5 L469.4,114.6 L469.6,114.6 L469.8,114.6 L470.0,114.6 L470.2,114.7 L470.4,114.6 L470.6,114.6 L470.8,114.7 L471.0,114.8 L471.3,114.9 L471.5,115.0 L471.7,115.1 L471.9,115.2 L472.1,115.4 L472.3,115.4 L472.5,115.2 L472.7,115.1 L472.9,115.1 L473.1,114.9 L473.4,114.8 L473.6,114.9 L473.8,115.1 L474.0,115.1 L474.2,114.9 L474.4,114.8 L474.6,114.9 L474.8,115.0 L475.0,115.2 L475.2,115.3 L475.5,115.2 L475.7,115.1 L475.9,115.1 L476.1,115.1 L476.3,115.0 L476.5,114.9 L476.7,114.8 L476.9,114.7 L477.1,114.7 L477.3,114.7 L477.6,114.7 L477.8,114.7 L478.0,114.8 L478.2,114.9 L478.4,115.1 L478.6,115.3 L478.8,115.3 L479.0,115.4 L479.2,115.3 L479.4,115.2 L479.7,115.2 L479.9,115.3 L480.1,115.5 L480.3,115.5 L480.5,115.4 L480.7,115.4 L480.9,115.3 L481.1,115.4 L481.3,115.5 L481.5,115.6 L481.8,115.6 L482.0,115.7 L482.2,115.7 L482.4,115.7 L482.6,115.7 L482.8,115.8 L483.0,115.7 L483.2,115.7 L483.4,115.6 L483.6,115.6 L483.9,115.7 L484.1,115.9 L484.3,115.8 L484.5,115.5 L484.7,115.5 L484.9,115.6 L485.1,115.8 L485.3,115.8 L485.5,115.7 L485.7,115.6 L486.0,115.7 L486.2,115.7 L486.4,115.6 L486.6,115.7 L486.8,115.8 L487.0,115.9 L487.2,115.9 L487.4,115.9 L487.6,115.9 L487.8,115.9 L488.1,115.9 L488.3,115.9 L488.5,115.8 L488.7,115.9 L488.9,116.1 L489.1,116.0 L489.3,116.0 L489.5,115.8 L489.7,115.8 L489.9,115.8 L490.2,115.7 L490.4,115.5 L490.6,115.5 L490.8,115.6 L491.0,115.6 L491.2,115.6 L491.4,115.7 L491.6,115.9 L491.8,116.1 L492.0,116.0 L492.3,115.9 L492.5,115.8 L492.7,115.9 L492.9,116.1 L493.1,116.1 L493.3,116.1 L493.5,116.0 L493.7,116.2 L493.9,116.3 L494.1,116.4 L494.4,116.5 L494.6,116.5 L494.8,116.5 L495.0,116.5 L495.2,116.4 L495.4,116.3 L495.6,116.3 L495.8,116.4 L496.0,116.5 L496.2,116.5 L496.5,116.4 L496.7,116.3 L496.9,116.2 L497.1,116.1 L497.3,116.2 L497.5,116.3 L497.7,116.2 L497.9,116.2 L498.1,116.1 L498.3,116.1 L498.6,116.0 L498.8,115.9 L499.0,115.8 L499.2,115.8 L499.4,115.8 L499.6,115.9 L499.8,115.9 L500.0,115.8 L500.2,115.8 L500.4,115.9 L500.7,116.0 L500.9,116.0 L501.1,116.0 L501.3,116.1 L501.5,116.2 L501.7,116.4 L501.9,116.5 L502.1,116.5 L502.3,116.5 L502.5,116.6 L502.8,116.5 L503.0,116.2 L503.2,115.9 L503.4,115.9 L503.6,116.0 L503.8,115.8 L504.0,115.8 L504.2,116.0 L504.4,116.1 L504.6,116.1 L504.9,116.2 L505.1,116.3 L505.3,116.5 L505.5,116.5 L505.7,116.4 L505.9,116.6 L506.1,116.7 L506.3,116.5 L506.5,116.4 L506.7,116.4 L507.0,116.3 L507.2,116.1 L507.4,116.0 L507.6,116.0 L507.8,116.0 L508.0,116.2 L508.2,116.5 L508.4,116.6 L508.6,116.6 L508.8,116.7 L509.1,116.7 L509.3,116.8 L509.5,116.8 L509.7,116.7 L509.9,116.7 L510.1,116.6 L510.3,116.5 L510.5,116.5 L510.7,116.5 L510.9,116.4 L511.2,116.3 L511.4,116.3 L511.6,116.5 L511.8,116.5 L512.0,116.5 L512.2,116.6 L512.4,116.4 L512.6,116.4 L512.8,116.5 L513.0,116.5 L513.3,116.4 L513.5,116.5 L513.7,116.5 L513.9,116.6 L514.1,116.6 L514.3,116.8 L514.5,116.8 L514.7,116.7 L514.9,116.7 L515.1,116.6 L515.4,116.6 L515.6,116.6 L515.8,116.6 L516.0,116.5 L516.2,116.4 L516.4,116.6 L516.6,116.7 L516.8,116.7 L517.0,116.6 L517.2,116.5 L517.5,116.5 L517.7,116.5 L517.9,116.6 L518.1,116.7 L518.3,116.6 L518.5,116.4 L518.7,116.5 L518.9,116.4 L519.1,116.4 L519.3,116.6 L519.6,116.6 L519.8,116.3 L520.0,116.2 L520.2,116.2 L520.4,116.2 L520.6,116.1 L520.8,116.1 L521.0,116.1 L521.2,116.3 L521.4,116.3 L521.7,116.3 L521.9,116.5 L522.1,116.6 L522.3,116.5 L522.5,116.3 L522.7,116.2 L522.9,116.2 L523.1,116.0 L523.3,116.1 L523.5,116.1 L523.8,116.1 L524.0,116.1 L524.2,116.1 L524.4,116.4 L524.6,116.6 L524.8,116.6 L525.0,116.7 L525.2,116.9 L525.4,117.0 L525.6,117.1 L525.9,117.1 L526.1,117.1 L526.3,117.1 L526.5,117.2 L526.7,117.1 L526.9,117.0 L527.1,116.9 L527.3,116.8 L527.5,116.6 L527.7,116.4 L528.0,116.4 L528.2,116.3 L528.4,116.3 L528.6,116.4 L528.8,116.4 L529.0,116.3 L529.2,116.3 L529.4,116.3 L529.6,116.4 L529.8,116.6 L530.1,116.8 L530.3,116.9 L530.5,116.9 L530.7,117.1 L530.9,117.1 L531.1,117.1 L531.3,117.2 L531.5,117.4 L531.7,117.5 L531.9,117.5 L532.2,117.5 L532.4,117.5 L532.6,117.4 L532.8,117.2 L533.0,117.0 L533.2,116.8 L533.4,116.8 L533.6,116.8 L533.8,116.8 L534.0,116.7 L534.3,116.7 L534.5,116.7" fill="none" stroke="#0a0aff" stroke-width="2.7" stroke-linejoin="round" stroke-linecap="round"/>
<path d="M289.6,136.3 L289.8,136.4 L290.0,136.5 L290.2,136.6 L290.4,136.7 L290.7,136.8 L290.9,136.9 L291.1,136.9 L291.3,136.9 L291.5,136.9 L291.7,136.9 L291.9,136.9 L292.1,136.9 L292.3,136.9 L292.5,136.9 L292.8,136.9 L293.0,136.8 L293.2,136.6 L293.4,136.5 L293.6,136.4 L293.8,136.4 L294.0,136.5 L294.2,136.6 L294.4,136.8 L294.6,136.9 L294.9,136.9 L295.1,136.8 L295.3,136.7 L295.5,136.7 L295.7,136.6 L295.9,136.5 L296.1,136.6 L296.3,136.5 L296.5,136.6 L296.7,136.8 L297.0,136.9 L297.2,136.9 L297.4,136.8 L297.6,136.8 L297.8,136.9 L298.0,136.9 L298.2,136.9 L298.4,137.1 L298.6,137.1 L298.8,137.0 L299.1,137.0 L299.3,137.1 L299.5,137.2 L299.7,137.2 L299.9,137.2 L300.1,137.2 L300.3,137.2 L300.5,137.2 L300.7,136.9 L300.9,136.7 L301.2,136.9 L301.4,136.9 L301.6,136.9 L301.8,137.0 L302.0,137.1 L302.2,137.0 L302.4,136.9 L302.6,136.8 L302.8,136.7 L303.0,136.7 L303.3,136.7 L303.5,136.5 L303.7,136.4 L303.9,136.4 L304.1,136.3 L304.3,136.2 L304.5,136.5 L304.7,136.7 L304.9,136.7 L305.1,136.6 L305.4,136.7 L305.6,136.8 L305.8,137.0 L306.0,137.1 L306.2,137.2 L306.4,137.3 L306.6,137.3 L306.8,137.3 L307.0,137.3 L307.2,137.4 L307.5,137.4 L307.7,137.2 L307.9,137.0 L308.1,137.1 L308.3,137.2 L308.5,137.2 L308.7,137.2 L308.9,137.3 L309.1,137.4 L309.3,137.5 L309.6,137.5 L309.8,137.4 L310.0,137.3 L310.2,137.4 L310.4,137.3 L310.6,137.1 L310.8,137.0 L311.0,137.0 L311.2,137.2 L311.4,137.1 L311.7,136.9 L311.9,136.8 L312.1,136.7 L312.3,136.7 L312.5,136.6 L312.7,136.6 L312.9,136.5 L313.1,136.6 L313.3,136.7 L313.5,137.0 L313.8,137.2 L314.0,137.5 L314.2,137.6 L314.4,137.3 L314.6,137.2 L314.8,137.0 L315.0,136.9 L315.2,136.9 L315.4,136.9 L315.6,136.9 L315.9,136.9 L316.1,136.9 L316.3,137.0 L316.5,137.2 L316.7,137.2 L316.9,137.2 L317.1,137.3 L317.3,137.4 L317.5,137.4 L317.7,137.3 L318.0,137.2 L318.2,137.2 L318.4,137.3 L318.6,137.4 L318.8,137.5 L319.0,137.5 L319.2,137.4 L319.4,137.3 L319.6,137.1 L319.8,136.9 L320.1,136.7 L320.3,136.4 L320.5,136.1 L320.7,136.1 L320.9,136.1 L321.1,136.1 L321.3,136.2 L321.5,136.2 L321.7,136.3 L321.9,136.5 L322.2,136.8 L322.4,137.0 L322.6,137.0 L322.8,136.9 L323.0,136.9 L323.2,136.8 L323.4,136.7 L323.6,136.4 L323.8,136.2 L324.0,136.2 L324.3,136.3 L324.5,136.3 L324.7,136.4 L324.9,136.5 L325.1,136.7 L325.3,136.8 L325.5,136.7 L325.7,136.6 L325.9,136.6 L326.1,136.4 L326.4,136.1 L326.6,136.1 L326.8,136.3 L327.0,136.2 L327.2,136.0 L327.4,136.0 L327.6,136.1 L327.8,135.9 L328.0,135.8 L328.2,135.8 L328.5,135.7 L328.7,135.6 L328.9,135.6 L329.1,135.6 L329.3,135.7 L329.5,135.8 L329.7,135.8 L329.9,135.6 L330.1,135.3 L330.3,135.4 L330.6,135.5 L330.8,135.5 L331.0,135.6 L331.2,135.4 L331.4,135.2 L331.6,135.1 L331.8,135.0 L332.0,134.8 L332.2,134.6 L332.4,134.2 L332.7,134.0 L332.9,133.9 L333.1,133.8 L333.3,133.5 L333.5,133.3 L333.7,133.4 L333.9,133.3 L334.1,133.0 L334.3,132.8 L334.5,132.6 L334.8,132.3 L335.0,132.0 L335.2,131.8 L335.4,131.6 L335.6,131.3 L335.8,131.1 L336.0,130.9 L336.2,130.7 L336.4,130.3 L336.6,130.0 L336.9,129.9 L337.1,129.6 L337.3,129.3 L337.5,129.1 L337.7,128.9 L337.9,128.8 L338.1,128.7 L338.3,128.6 L338.5,128.5 L338.7,128.4 L339.0,128.2 L339.2,128.0 L339.4,127.9 L339.6,127.6 L339.8,127.4 L340.0,127.2 L340.2,127.0 L340.4,126.8 L340.6,126.8 L340.8,126.7 L341.1,126.6 L341.3,126.5 L341.5,126.8 L341.7,127.1 L341.9,127.2 L342.1,127.3 L342.3,127.3 L342.5,127.2 L342.7,127.3 L342.9,127.4 L343.2,127.2 L343.4,127.1 L343.6,127.2 L343.8,127.3 L344.0,127.3 L344.2,127.3 L344.4,127.5 L344.6,127.6 L344.8,127.8 L345.0,128.0 L345.3,128.2 L345.5,128.5 L345.7,128.8 L345.9,129.1 L346.1,129.3 L346.3,129.4 L346.5,129.6 L346.7,129.7 L346.9,129.7 L347.1,129.7 L347.4,129.9 L347.6,130.0 L347.8,130.2 L348.0,130.4 L348.2,130.7 L348.4,130.8 L348.6,131.0 L348.8,131.2 L349.0,131.4 L349.2,131.5 L349.5,131.7 L349.7,131.8 L349.9,131.9 L350.1,132.0 L350.3,132.0 L350.5,132.0 L350.7,132.0 L350.9,131.9 L351.1,131.8 L351.3,131.7 L351.6,131.3 L351.8,130.9 L352.0,130.4 L352.2,129.7 L352.4,128.9 L352.6,128.0 L352.8,126.9 L353.0,125.9 L353.2,124.8 L353.4,123.6 L353.7,122.5 L353.9,121.3 L354.1,120.3 L354.3,119.7 L354.5,119.4 L354.7,119.6 L354.9,120.2 L355.1,121.3 L355.3,122.9 L355.5,124.6 L355.8,126.1 L356.0,127.7 L356.2,129.3 L356.4,130.6 L356.6,131.8 L356.8,133.0 L357.0,134.0 L357.2,134.7 L357.4,135.3 L357.6,135.9 L357.9,136.4 L358.1,136.8 L358.3,137.1 L358.5,137.3 L358.7,137.6 L358.9,137.8 L359.1,137.9 L359.3,138.1 L359.5,138.4 L359.7,138.6 L360.0,138.9 L360.2,139.2 L360.4,139.3 L360.6,139.5 L360.8,139.6 L361.0,139.5 L361.2,139.6 L361.4,139.8 L361.6,139.9 L361.8,140.1 L362.1,140.3 L362.3,140.2 L362.5,140.1 L362.7,140.1 L362.9,140.3 L363.1,140.5 L363.3,140.5 L363.5,140.5 L363.7,140.5 L363.9,140.5 L364.2,140.6 L364.4,140.7 L364.6,140.8 L364.8,140.9 L365.0,140.9 L365.2,141.0 L365.4,141.1 L365.6,141.3 L365.8,141.3 L366.0,141.4 L366.3,141.5 L366.5,141.5 L366.7,141.4 L366.9,141.5 L367.1,141.5 L367.3,141.4 L367.5,141.3 L367.7,141.3 L367.9,141.1 L368.1,140.7 L368.4,140.3 L368.6,139.9 L368.8,139.5 L369.0,139.2 L369.2,139.0 L369.4,138.7 L369.6,138.6 L369.8,138.4 L370.0,138.3 L370.2,138.2 L370.5,138.2 L370.7,138.3 L370.9,138.5 L371.1,138.5 L371.3,138.7 L371.5,139.2 L371.7,139.7 L371.9,140.0 L372.1,140.3 L372.3,140.6 L372.6,140.9 L372.8,141.1 L373.0,141.2 L373.2,141.3 L373.4,141.4 L373.6,141.6 L373.8,141.9 L374.0,142.2 L374.2,142.2 L374.4,142.4 L374.7,142.7 L374.9,143.1 L375.1,143.1 L375.3,143.1 L375.5,143.2 L375.7,143.2 L375.9,143.2 L376.1,143.3 L376.3,143.4 L376.5,143.4 L376.8,143.3 L377.0,143.3 L377.2,143.3 L377.4,143.2 L377.6,143.1 L377.8,143.1 L378.0,143.2 L378.2,143.2 L378.4,143.2 L378.6,143.3 L378.9,143.2 L379.1,143.2 L379.3,143.3 L379.5,143.2 L379.7,143.1 L379.9,143.3 L380.1,143.2 L380.3,143.2 L380.5,143.4 L380.7,143.6 L381.0,143.7 L381.2,143.8 L381.4,143.8 L381.6,143.8 L381.8,143.8 L382.0,143.7 L382.2,143.8 L382.4,143.9 L382.6,143.8 L382.8,143.6 L383.1,143.7 L383.3,143.7 L383.5,143.7 L383.7,143.8 L383.9,143.8 L384.1,143.8 L384.3,143.9 L384.5,144.0 L384.7,144.2 L384.9,144.2 L385.2,144.2 L385.4,144.3 L385.6,144.3 L385.8,144.3 L386.0,144.3 L386.2,144.3 L386.4,144.3 L386.6,144.3 L386.8,144.4 L387.0,144.3 L387.3,144.2 L387.5,144.3 L387.7,144.3 L387.9,144.4 L388.1,144.5 L388.3,144.5 L388.5,144.4 L388.7,144.3 L388.9,144.4 L389.1,144.4 L389.4,144.4 L389.6,144.4 L389.8,144.3 L390.0,144.4 L390.2,144.6 L390.4,144.7 L390.6,144.8 L390.8,144.8 L391.0,144.7 L391.2,144.6 L391.5,144.6 L391.7,144.7 L391.9,144.7 L392.1,144.8 L392.3,144.7 L392.5,144.5 L392.7,144.4 L392.9,144.4 L393.1,144.4 L393.3,144.5 L393.6,144.7 L393.8,144.8 L394.0,144.9 L394.2,144.9 L394.4,145.0 L394.6,144.8 L394.8,144.7 L395.0,144.8 L395.2,144.9 L395.4,144.8 L395.7,144.8 L395.9,144.7 L396.1,144.6 L396.3,144.5 L396.5,144.5 L396.7,144.5 L396.9,144.5 L397.1,144.6 L397.3,144.8 L397.5,144.8 L397.8,144.8 L398.0,144.9 L398.2,145.1 L398.4,145.1 L398.6,144.9 L398.8,144.8 L399.0,144.7 L399.2,144.6 L399.4,144.3 L399.6,144.2 L399.9,144.2 L400.1,144.1 L400.3,144.2 L400.5,144.2 L400.7,143.9 L400.9,143.8 L401.1,144.0 L401.3,144.0 L401.5,143.8 L401.7,143.5 L402.0,143.2 L402.2,142.9 L402.4,142.7 L402.6,142.7 L402.8,142.5 L403.0,142.5 L403.2,142.5 L403.4,142.7 L403.6,142.8 L403.8,142.7 L404.1,142.6 L404.3,142.3 L404.5,142.0 L404.7,141.9 L404.9,141.6 L405.1,141.3 L405.3,141.3 L405.5,141.3 L405.7,141.3 L405.9,141.4 L406.2,141.5 L406.4,141.5 L406.6,141.4 L406.8,141.3 L407.0,141.4 L407.2,141.5 L407.4,141.7 L407.6,142.0 L407.8,141.9 L408.0,141.9 L408.3,142.0 L408.5,142.0 L408.7,142.0 L408.9,141.9 L409.1,141.7 L409.3,141.7 L409.5,141.9 L409.7,142.0 L409.9,142.1 L410.1,142.5 L410.4,142.9 L410.6,143.2 L410.8,143.5 L411.0,143.6 L411.2,143.7 L411.4,143.9 L411.6,144.1 L411.8,144.4 L412.0,144.4 L412.2,144.2 L412.5,144.1 L412.7,144.3 L412.9,144.5 L413.1,144.4 L413.3,144.3 L413.5,144.4 L413.7,144.4 L413.9,144.1 L414.1,144.1 L414.3,144.1 L414.6,144.1 L414.8,144.0 L415.0,144.0 L415.2,144.1 L415.4,144.0 L415.6,144.0 L415.8,144.1 L416.0,144.2 L416.2,144.2 L416.4,144.1 L416.7,143.9 L416.9,143.7 L417.1,143.6 L417.3,143.5 L417.5,143.2 L417.7,142.9 L417.9,142.9 L418.1,142.8 L418.3,142.5 L418.5,141.9 L418.8,141.5 L419.0,141.3 L419.2,140.8 L419.4,140.3 L419.6,139.8 L419.8,139.3 L420.0,138.6 L420.2,137.9 L420.4,137.4 L420.6,137.2 L420.9,137.2 L421.1,137.3 L421.3,137.5 L421.5,137.8 L421.7,138.3 L421.9,138.9 L422.1,139.5 L422.3,140.1 L422.5,140.6 L422.7,141.3 L423.0,142.0 L423.2,142.6 L423.4,143.1 L423.6,143.5 L423.8,143.8 L424.0,144.0 L424.2,144.3 L424.4,144.3 L424.6,144.3 L424.8,144.4 L425.1,144.6 L425.3,144.8 L425.5,145.0 L425.7,145.1 L425.9,145.2 L426.1,145.2 L426.3,145.2 L426.5,145.1 L426.7,145.0 L426.9,144.9 L427.2,144.9 L427.4,144.9 L427.6,144.9 L427.8,145.1 L428.0,145.1 L428.2,145.0 L428.4,144.9 L428.6,144.9 L428.8,145.0 L429.0,145.0 L429.3,145.0 L429.5,145.0 L429.7,145.0 L429.9,145.1 L430.1,145.3 L430.3,145.3 L430.5,145.3 L430.7,145.3 L430.9,145.4 L431.1,145.4 L431.4,145.4 L431.6,145.5 L431.8,145.6 L432.0,145.5 L432.2,145.4 L432.4,145.4 L432.6,145.4 L432.8,145.3 L433.0,145.3 L433.2,145.2 L433.5,145.3 L433.7,145.5 L433.9,145.5 L434.1,145.4 L434.3,145.5 L434.5,145.7 L434.7,145.9 L434.9,145.9 L435.1,145.8 L435.3,145.9 L435.6,146.0 L435.8,146.1 L436.0,146.2 L436.2,146.4 L436.4,146.5 L436.6,146.2 L436.8,146.0 L437.0,146.0 L437.2,146.0 L437.4,146.0 L437.7,145.9 L437.9,146.0 L438.1,146.1 L438.3,146.2 L438.5,146.3 L438.7,146.4 L438.9,146.3 L439.1,146.2 L439.3,146.3 L439.5,146.3 L439.8,146.3 L440.0,146.5 L440.2,146.7 L440.4,146.7 L440.6,146.8 L440.8,147.0 L441.0,147.0 L441.2,146.9 L441.4,146.8 L441.6,146.7 L441.9,146.7 L442.1,146.6 L442.3,146.6 L442.5,146.5 L442.7,146.5 L442.9,146.6 L443.1,146.7 L443.3,146.8 L443.5,146.7 L443.7,146.6 L444.0,146.6 L444.2,146.6 L444.4,146.6 L444.6,146.5 L444.8,146.4 L445.0,146.4 L445.2,146.4 L445.4,146.4 L445.6,146.5 L445.8,146.5 L446.1,146.4 L446.3,146.2 L446.5,146.2 L446.7,146.3 L446.9,146.2 L447.1,146.2 L447.3,146.4 L447.5,146.6 L447.7,146.7 L447.9,146.8 L448.2,146.8 L448.4,146.9 L448.6,146.8 L448.8,146.8 L449.0,146.6 L449.2,146.3 L449.4,146.1 L449.6,145.6 L449.8,145.1 L450.0,144.8 L450.3,144.4 L450.5,144.0 L450.7,143.4 L450.9,142.9 L451.1,142.6 L451.3,142.4 L451.5,142.4 L451.7,142.3 L451.9,142.3 L452.1,142.5 L452.4,142.8 L452.6,143.0 L452.8,143.4 L453.0,143.9 L453.2,144.3 L453.4,144.7 L453.6,145.3 L453.8,145.7 L454.0,145.9 L454.2,146.0 L454.5,146.3 L454.7,146.6 L454.9,146.7 L455.1,146.9 L455.3,147.1 L455.5,147.2 L455.7,147.3 L455.9,147.4 L456.1,147.4 L456.3,147.5 L456.6,147.7 L456.8,147.7 L457.0,147.6 L457.2,147.6 L457.4,147.6 L457.6,147.7 L457.8,147.8 L458.0,147.9 L458.2,147.9 L458.4,147.7 L458.7,147.5 L458.9,147.5 L459.1,147.5 L459.3,147.6 L459.5,147.7 L459.7,147.9 L459.9,148.0 L460.1,148.0 L460.3,148.0 L460.5,148.0 L460.8,148.0 L461.0,148.2 L461.2,148.3 L461.4,148.2 L461.6,148.2 L461.8,148.3 L462.0,148.2 L462.2,148.2 L462.4,148.3 L462.6,148.4 L462.9,148.3 L463.1,148.3 L463.3,148.4 L463.5,148.5 L463.7,148.7 L463.9,148.7 L464.1,148.7 L464.3,148.7 L464.5,148.6 L464.7,148.4 L465.0,148.4 L465.2,148.3 L465.4,148.2 L465.6,148.1 L465.8,148.2 L466.0,148.3 L466.2,148.5 L466.4,148.7 L466.6,148.7 L466.8,148.5 L467.1,148.5 L467.3,148.6 L467.5,148.6 L467.7,148.7 L467.9,148.8 L468.1,148.8 L468.3,148.8 L468.5,148.9 L468.7,148.8 L468.9,148.8 L469.2,148.8 L469.4,148.7 L469.6,148.6 L469.8,148.9 L470.0,149.2 L470.2,149.0 L470.4,148.8 L470.6,148.8 L470.8,148.9 L471.0,149.0 L471.3,149.0 L471.5,149.0 L471.7,149.0 L471.9,149.1 L472.1,149.3 L472.3,149.4 L472.5,149.5 L472.7,149.6 L472.9,149.6 L473.1,149.6 L473.4,149.5 L473.6,149.3 L473.8,149.2 L474.0,149.3 L474.2,149.4 L474.4,149.3 L474.6,149.2 L474.8,149.2 L475.0,149.1 L475.2,149.1 L475.5,149.2 L475.7,149.3 L475.9,149.4 L476.1,149.5 L476.3,149.5 L476.5,149.5 L476.7,149.5 L476.9,149.6 L477.1,149.6 L477.3,149.6 L477.6,149.7 L477.8,149.7 L478.0,149.7 L478.2,149.8 L478.4,149.7 L478.6,149.6 L478.8,149.6 L479.0,149.6 L479.2,149.5 L479.4,149.4 L479.7,149.4 L479.9,149.3 L480.1,149.2 L480.3,149.2 L480.5,149.2 L480.7,149.2 L480.9,149.2 L481.1,149.6 L481.3,149.7 L481.5,149.6 L481.8,149.6 L482.0,149.8 L482.2,149.9 L482.4,149.7 L482.6,149.6 L482.8,149.5 L483.0,149.3 L483.2,149.2 L483.4,149.3 L483.6,149.5 L483.9,149.6 L484.1,149.6 L484.3,149.8 L484.5,150.0 L484.7,150.2 L484.9,150.3 L485.1,150.2 L485.3,150.1 L485.5,150.2 L485.7,150.2 L486.0,149.9 L486.2,149.9 L486.4,150.0 L486.6,149.9 L486.8,149.9 L487.0,150.0 L487.2,150.2 L487.4,150.3 L487.6,150.4 L487.8,150.5 L488.1,150.6 L488.3,150.5 L488.5,150.4 L488.7,150.3 L488.9,150.1 L489.1,149.9 L489.3,149.8 L489.5,149.8 L489.7,150.0 L489.9,150.2 L490.2,150.3 L490.4,150.2 L490.6,150.2 L490.8,150.3 L491.0,150.3 L491.2,150.1 L491.4,150.1 L491.6,150.3 L491.8,150.2 L492.0,150.2 L492.3,150.2 L492.5,150.3 L492.7,150.3 L492.9,150.3 L493.1,150.3 L493.3,150.2 L493.5,150.2 L493.7,150.2 L493.9,150.2 L494.1,150.3 L494.4,150.4 L494.6,150.5 L494.8,150.4 L495.0,150.4 L495.2,150.5 L495.4,150.6 L495.6,150.7 L495.8,150.6 L496.0,150.6 L496.2,150.7 L496.5,150.6 L496.7,150.6 L496.9,150.5 L497.1,150.4 L497.3,150.5 L497.5,150.4 L497.7,150.3 L497.9,150.3 L498.1,150.4 L498.3,150.3 L498.6,150.2 L498.8,150.1 L499.0,150.2 L499.2,150.2 L499.4,150.1 L499.6,150.0 L499.8,150.1 L500.0,150.2 L500.2,150.2 L500.4,150.2 L500.7,150.3 L500.9,150.3 L501.1,150.4 L501.3,150.7 L501.5,150.6 L501.7,150.5 L501.9,150.6 L502.1,150.6 L502.3,150.7 L502.5,150.9 L502.8,150.9 L503.0,151.0 L503.2,151.2 L503.4,151.5 L503.6,151.6 L503.8,151.4 L504.0,151.4 L504.2,151.6 L504.4,151.5 L504.6,151.4 L504.9,151.2 L505.1,151.1 L505.3,151.1 L505.5,151.0 L505.7,151.0 L505.9,151.0 L506.1,151.0 L506.3,150.9 L506.5,150.8 L506.7,150.9 L507.0,151.1 L507.2,151.1 L507.4,151.2 L507.6,151.4 L507.8,151.5 L508.0,151.7 L508.2,151.9 L508.4,151.9 L508.6,151.7 L508.8,151.7 L509.1,151.7 L509.3,151.7 L509.5,151.8 L509.7,151.8 L509.9,151.7 L510.1,151.6 L510.3,151.8 L510.5,151.9 L510.7,151.7 L510.9,151.7 L511.2,151.7 L511.4,151.5 L511.6,151.5 L511.8,151.5 L512.0,151.6 L512.2,151.5 L512.4,151.4 L512.6,151.3 L512.8,151.2 L513.0,151.1 L513.3,151.0 L513.5,151.0 L513.7,151.0 L513.9,151.0 L514.1,150.8 L514.3,150.5 L514.5,150.5 L514.7,150.5 L514.9,150.6 L515.1,150.7 L515.4,150.6 L515.6,150.8 L515.8,151.0 L516.0,151.1 L516.2,151.2 L516.4,151.3 L516.6,151.3 L516.8,151.3 L517.0,151.4 L517.2,151.4 L517.5,151.4 L517.7,151.2 L517.9,151.1 L518.1,151.1 L518.3,151.0 L518.5,150.9 L518.7,150.9 L518.9,150.7 L519.1,150.7 L519.3,150.8 L519.6,150.7 L519.8,150.6 L520.0,150.6 L520.2,150.6 L520.4,150.6 L520.6,150.5 L520.8,150.3 L521.0,150.1 L521.2,150.2 L521.4,150.0 L521.7,149.7 L521.9,149.4 L522.1,149.2 L522.3,149.2 L522.5,149.2 L522.7,149.1 L522.9,149.1 L523.1,149.1 L523.3,148.9 L523.5,149.0 L523.8,149.3 L524.0,149.5 L524.2,149.6 L524.4,149.6 L524.6,149.6 L524.8,149.9 L525.0,150.2 L525.2,150.1 L525.4,150.2 L525.6,150.5 L525.9,150.6 L526.1,150.5 L526.3,150.4 L526.5,150.5 L526.7,150.6 L526.9,150.6 L527.1,150.4 L527.3,150.3 L527.5,150.3 L527.7,150.4 L528.0,150.4 L528.2,150.6 L528.4,150.7 L528.6,150.7 L528.8,150.7 L529.0,150.7 L529.2,150.7 L529.4,150.7 L529.6,150.7 L529.8,150.6 L530.1,150.5 L530.3,150.5 L530.5,150.5 L530.7,150.6 L530.9,150.9 L531.1,151.0 L531.3,150.9 L531.5,150.6 L531.7,150.4 L531.9,150.4 L532.2,150.5 L532.4,150.4 L532.6,150.1 L532.8,150.1 L533.0,150.2 L533.2,150.4 L533.4,150.6 L533.6,150.7 L533.8,150.8 L534.0,150.9 L534.3,150.9 L534.5,151.1" fill="none" stroke="#ff0808" stroke-width="2.7" stroke-linejoin="round" stroke-linecap="round"/>
<path d="M289.6,167.5 L289.8,167.6 L290.0,167.5 L290.2,167.4 L290.4,167.4 L290.7,167.5 L290.9,167.7 L291.1,167.7 L291.3,167.7 L291.5,167.8 L291.7,167.9 L291.9,168.1 L292.1,168.2 L292.3,168.3 L292.5,168.2 L292.8,168.1 L293.0,168.1 L293.2,168.1 L293.4,168.1 L293.6,168.1 L293.8,168.3 L294.0,168.3 L294.2,168.3 L294.4,168.2 L294.6,168.1 L294.9,168.1 L295.1,168.1 L295.3,168.2 L295.5,168.3 L295.7,168.2 L295.9,168.2 L296.1,168.3 L296.3,168.3 L296.5,168.2 L296.7,168.1 L297.0,168.0 L297.2,168.1 L297.4,168.0 L297.6,167.9 L297.8,167.9 L298.0,167.9 L298.2,167.9 L298.4,167.9 L298.6,168.1 L298.8,168.3 L299.1,168.5 L299.3,168.7 L299.5,168.8 L299.7,168.9 L299.9,168.8 L300.1,168.6 L300.3,168.6 L300.5,168.7 L300.7,168.5 L300.9,168.3 L301.2,168.2 L301.4,168.3 L301.6,168.4 L301.8,168.5 L302.0,168.5 L302.2,168.5 L302.4,168.7 L302.6,168.8 L302.8,168.8 L303.0,168.9 L303.3,169.1 L303.5,169.1 L303.7,169.1 L303.9,169.1 L304.1,169.0 L304.3,168.9 L304.5,169.0 L304.7,168.8 L304.9,168.6 L305.1,168.4 L305.4,168.2 L305.6,168.1 L305.8,168.0 L306.0,168.0 L306.2,168.0 L306.4,168.1 L306.6,168.3 L306.8,168.5 L307.0,168.8 L307.2,169.0 L307.5,169.0 L307.7,168.8 L307.9,168.7 L308.1,168.7 L308.3,168.8 L308.5,168.9 L308.7,168.9 L308.9,168.8 L309.1,168.7 L309.3,168.9 L309.6,169.1 L309.8,169.1 L310.0,169.0 L310.2,168.9 L310.4,168.9 L310.6,168.8 L310.8,168.7 L311.0,168.7 L311.2,168.6 L311.4,168.6 L311.7,168.7 L311.9,168.7 L312.1,168.6 L312.3,168.5 L312.5,168.5 L312.7,168.5 L312.9,168.5 L313.1,168.5 L313.3,168.5 L313.5,168.6 L313.8,168.8 L314.0,168.8 L314.2,168.8 L314.4,168.7 L314.6,168.7 L314.8,168.8 L315.0,168.9 L315.2,168.9 L315.4,169.0 L315.6,169.1 L315.9,169.3 L316.1,169.3 L316.3,169.3 L316.5,169.4 L316.7,169.3 L316.9,169.2 L317.1,169.1 L317.3,169.0 L317.5,168.9 L317.7,169.0 L318.0,169.1 L318.2,169.2 L318.4,169.2 L318.6,169.4 L318.8,169.5 L319.0,169.4 L319.2,169.4 L319.4,169.3 L319.6,169.2 L319.8,169.3 L320.1,169.2 L320.3,169.1 L320.5,169.0 L320.7,168.9 L320.9,168.8 L321.1,168.8 L321.3,168.9 L321.5,168.9 L321.7,168.7 L321.9,168.8 L322.2,168.9 L322.4,168.9 L322.6,168.9 L322.8,169.1 L323.0,169.3 L323.2,169.5 L323.4,169.5 L323.6,169.5 L323.8,169.4 L324.0,169.3 L324.3,169.1 L324.5,168.9 L324.7,168.7 L324.9,168.5 L325.1,168.3 L325.3,168.2 L325.5,168.2 L325.7,168.1 L325.9,168.0 L326.1,168.0 L326.4,168.0 L326.6,168.0 L326.8,167.9 L327.0,167.8 L327.2,168.0 L327.4,167.9 L327.6,167.8 L327.8,167.7 L328.0,167.5 L328.2,167.5 L328.5,167.6 L328.7,167.5 L328.9,167.4 L329.1,167.4 L329.3,167.2 L329.5,166.9 L329.7,166.7 L329.9,166.6 L330.1,166.5 L330.3,166.4 L330.6,166.4 L330.8,166.2 L331.0,166.0 L331.2,166.0 L331.4,165.9 L331.6,165.7 L331.8,165.3 L332.0,164.9 L332.2,164.7 L332.4,164.5 L332.7,164.1 L332.9,163.9 L333.1,163.7 L333.3,163.3 L333.5,162.7 L333.7,162.2 L333.9,161.9 L334.1,161.6 L334.3,161.2 L334.5,160.8 L334.8,160.5 L335.0,160.3 L335.2,160.0 L335.4,159.6 L335.6,159.3 L335.8,159.1 L336.0,158.8 L336.2,158.4 L336.4,157.9 L336.6,157.5 L336.9,157.1 L337.1,156.7 L337.3,156.3 L337.5,155.9 L337.7,155.6 L337.9,155.4 L338.1,155.1 L338.3,154.9 L338.5,154.7 L338.7,154.4 L339.0,154.2 L339.2,153.8 L339.4,153.4 L339.6,153.3 L339.8,153.3 L340.0,153.1 L340.2,153.0 L340.4,153.0 L340.6,153.0 L340.8,153.1 L341.1,153.3 L341.3,153.4 L341.5,153.5 L341.7,153.7 L341.9,153.9 L342.1,154.2 L342.3,154.4 L342.5,154.4 L342.7,154.6 L342.9,154.9 L343.2,155.0 L343.4,155.2 L343.6,155.3 L343.8,155.5 L344.0,155.8 L344.2,155.9 L344.4,156.1 L344.6,156.4 L344.8,156.5 L345.0,156.6 L345.3,156.8 L345.5,157.2 L345.7,157.4 L345.9,157.8 L346.1,158.1 L346.3,158.4 L346.5,158.8 L346.7,159.3 L346.9,159.7 L347.1,160.1 L347.4,160.4 L347.6,160.8 L347.8,161.2 L348.0,161.5 L348.2,161.8 L348.4,162.0 L348.6,162.2 L348.8,162.5 L349.0,162.7 L349.2,162.7 L349.5,162.8 L349.7,163.1 L349.9,163.3 L350.1,163.4 L350.3,163.6 L350.5,163.8 L350.7,164.0 L350.9,164.1 L351.1,163.9 L351.3,163.7 L351.6,163.4 L351.8,162.9 L352.0,162.3 L352.2,161.5 L352.4,160.3 L352.6,158.9 L352.8,157.3 L353.0,155.3 L353.2,153.0 L353.4,150.5 L353.7,147.9 L353.9,145.5 L354.1,143.6 L354.3,142.3 L354.5,142.2 L354.7,143.0 L354.9,144.7 L355.1,147.1 L355.3,149.8 L355.5,152.8 L355.8,155.6 L356.0,158.3 L356.2,160.8 L356.4,163.0 L356.6,164.8 L356.8,166.4 L357.0,167.7 L357.2,168.8 L357.4,169.7 L357.6,170.5 L357.9,171.2 L358.1,171.7 L358.3,172.0 L358.5,172.5 L358.7,172.9 L358.9,173.2 L359.1,173.4 L359.3,173.8 L359.5,174.2 L359.7,174.4 L360.0,174.5 L360.2,174.7 L360.4,174.8 L360.6,174.9 L360.8,175.2 L361.0,175.4 L361.2,175.5 L361.4,175.5 L361.6,175.6 L361.8,175.9 L362.1,176.0 L362.3,176.1 L362.5,176.1 L362.7,176.2 L362.9,176.0 L363.1,175.8 L363.3,175.8 L363.5,176.1 L363.7,176.2 L363.9,176.2 L364.2,176.3 L364.4,176.4 L364.6,176.4 L364.8,176.3 L365.0,176.3 L365.2,176.4 L365.4,176.5 L365.6,176.6 L365.8,176.8 L366.0,177.1 L366.3,177.1 L366.5,176.9 L366.7,176.6 L366.9,176.4 L367.1,176.3 L367.3,176.2 L367.5,176.0 L367.7,175.8 L367.9,175.5 L368.1,175.2 L368.4,174.7 L368.6,174.2 L368.8,173.5 L369.0,172.7 L369.2,171.9 L369.4,171.0 L369.6,170.0 L369.8,169.2 L370.0,168.8 L370.2,168.3 L370.5,168.0 L370.7,168.1 L370.9,168.7 L371.1,169.4 L371.3,170.3 L371.5,171.1 L371.7,171.9 L371.9,172.7 L372.1,173.3 L372.3,174.0 L372.6,174.7 L372.8,175.5 L373.0,176.0 L373.2,176.4 L373.4,176.6 L373.6,176.9 L373.8,177.1 L374.0,177.3 L374.2,177.4 L374.4,177.5 L374.7,177.6 L374.9,177.6 L375.1,177.8 L375.3,177.9 L375.5,177.8 L375.7,177.8 L375.9,177.8 L376.1,177.9 L376.3,178.0 L376.5,178.0 L376.8,178.2 L377.0,178.2 L377.2,178.3 L377.4,178.6 L377.6,178.8 L377.8,178.9 L378.0,178.8 L378.2,178.9 L378.4,179.0 L378.6,179.0 L378.9,179.2 L379.1,179.4 L379.3,179.5 L379.5,179.2 L379.7,179.0 L379.9,179.0 L380.1,178.9 L380.3,178.7 L380.5,178.8 L380.7,179.0 L381.0,178.9 L381.2,178.8 L381.4,178.8 L381.6,179.0 L381.8,179.2 L382.0,179.3 L382.2,179.4 L382.4,179.6 L382.6,179.6 L382.8,179.5 L383.1,179.4 L383.3,179.3 L383.5,179.3 L383.7,179.5 L383.9,179.7 L384.1,179.7 L384.3,179.6 L384.5,179.6 L384.7,179.6 L384.9,179.5 L385.2,179.4 L385.4,179.5 L385.6,179.8 L385.8,179.9 L386.0,179.9 L386.2,180.0 L386.4,180.1 L386.6,180.1 L386.8,180.0 L387.0,180.0 L387.3,180.0 L387.5,180.1 L387.7,180.0 L387.9,179.8 L388.1,179.8 L388.3,179.9 L388.5,179.7 L388.7,179.6 L388.9,179.5 L389.1,179.6 L389.4,179.7 L389.6,179.7 L389.8,179.7 L390.0,179.9 L390.2,180.0 L390.4,180.0 L390.6,180.0 L390.8,180.0 L391.0,179.9 L391.2,179.9 L391.5,179.8 L391.7,179.8 L391.9,179.8 L392.1,179.9 L392.3,180.0 L392.5,180.3 L392.7,180.7 L392.9,180.7 L393.1,180.6 L393.3,180.5 L393.6,180.5 L393.8,180.4 L394.0,180.2 L394.2,180.1 L394.4,180.0 L394.6,179.9 L394.8,179.7 L395.0,179.5 L395.2,179.6 L395.4,179.6 L395.7,179.7 L395.9,179.8 L396.1,179.8 L396.3,179.9 L396.5,179.9 L396.7,179.9 L396.9,179.9 L397.1,179.8 L397.3,179.7 L397.5,179.7 L397.8,179.7 L398.0,179.6 L398.2,179.4 L398.4,179.4 L398.6,179.3 L398.8,179.2 L399.0,179.2 L399.2,179.2 L399.4,179.2 L399.6,179.1 L399.9,179.1 L400.1,179.2 L400.3,179.1 L400.5,179.0 L400.7,178.8 L400.9,178.7 L401.1,178.5 L401.3,178.3 L401.5,178.4 L401.7,178.4 L402.0,178.3 L402.2,178.1 L402.4,177.8 L402.6,177.7 L402.8,177.7 L403.0,177.5 L403.2,177.3 L403.4,177.0 L403.6,176.6 L403.8,176.3 L404.1,176.0 L404.3,176.0 L404.5,176.1 L404.7,176.1 L404.9,176.0 L405.1,176.0 L405.3,176.0 L405.5,175.9 L405.7,175.6 L405.9,175.5 L406.2,175.5 L406.4,175.5 L406.6,175.5 L406.8,175.7 L407.0,175.8 L407.2,175.8 L407.4,175.8 L407.6,176.0 L407.8,176.1 L408.0,176.4 L408.3,176.7 L408.5,176.8 L408.7,177.1 L408.9,177.2 L409.1,177.4 L409.3,177.6 L409.5,177.7 L409.7,177.7 L409.9,177.8 L410.1,177.8 L410.4,178.0 L410.6,178.1 L410.8,178.3 L411.0,178.5 L411.2,178.9 L411.4,179.1 L411.6,179.3 L411.8,179.3 L412.0,179.3 L412.2,179.3 L412.5,179.3 L412.7,179.3 L412.9,179.3 L413.1,179.1 L413.3,179.1 L413.5,179.1 L413.7,179.2 L413.9,179.2 L414.1,179.3 L414.3,179.4 L414.6,179.4 L414.8,179.3 L415.0,179.2 L415.2,179.1 L415.4,179.1 L415.6,178.9 L415.8,178.7 L416.0,178.7 L416.2,178.7 L416.4,178.6 L416.7,178.5 L416.9,178.2 L417.1,178.0 L417.3,177.8 L417.5,177.6 L417.7,177.4 L417.9,177.1 L418.1,176.6 L418.3,175.9 L418.5,175.3 L418.8,174.6 L419.0,173.8 L419.2,172.9 L419.4,171.9 L419.6,170.7 L419.8,169.5 L420.0,168.4 L420.2,167.3 L420.4,166.4 L420.6,165.7 L420.9,165.4 L421.1,165.4 L421.3,165.9 L421.5,166.7 L421.7,167.6 L421.9,168.6 L422.1,169.8 L422.3,171.1 L422.5,172.4 L422.7,173.4 L423.0,174.3 L423.2,175.2 L423.4,175.9 L423.6,176.4 L423.8,176.8 L424.0,177.2 L424.2,177.5 L424.4,177.8 L424.6,178.0 L424.8,178.2 L425.1,178.4 L425.3,178.6 L425.5,178.7 L425.7,178.7 L425.9,178.7 L426.1,178.7 L426.3,178.6 L426.5,178.6 L426.7,178.6 L426.9,178.6 L427.2,178.9 L427.4,179.1 L427.6,179.2 L427.8,179.3 L428.0,179.5 L428.2,179.7 L428.4,179.7 L428.6,179.4 L428.8,179.3 L429.0,179.3 L429.3,179.2 L429.5,179.0 L429.7,179.0 L429.9,179.1 L430.1,179.2 L430.3,179.3 L430.5,179.4 L430.7,179.3 L430.9,179.4 L431.1,179.5 L431.4,179.7 L431.6,179.9 L431.8,179.9 L432.0,179.8 L432.2,179.8 L432.4,179.7 L432.6,179.7 L432.8,179.6 L433.0,179.6 L433.2,179.4 L433.5,179.3 L433.7,179.4 L433.9,179.5 L434.1,179.4 L434.3,179.4 L434.5,179.3 L434.7,179.4 L434.9,179.5 L435.1,179.5 L435.3,179.6 L435.6,179.7 L435.8,179.7 L436.0,179.6 L436.2,179.7 L436.4,179.6 L436.6,179.5 L436.8,179.5 L437.0,179.6 L437.2,179.6 L437.4,179.6 L437.7,179.6 L437.9,179.6 L438.1,179.7 L438.3,179.7 L438.5,179.6 L438.7,179.6 L438.9,179.7 L439.1,179.8 L439.3,179.8 L439.5,179.9 L439.8,180.1 L440.0,180.1 L440.2,180.2 L440.4,180.3 L440.6,180.3 L440.8,180.2 L441.0,180.1 L441.2,180.1 L441.4,180.2 L441.6,180.4 L441.9,180.4 L442.1,180.4 L442.3,180.5 L442.5,180.5 L442.7,180.4 L442.9,180.3 L443.1,180.3 L443.3,180.4 L443.5,180.4 L443.7,180.3 L444.0,180.3 L444.2,180.4 L444.4,180.6 L444.6,180.7 L444.8,180.8 L445.0,180.9 L445.2,181.0 L445.4,180.9 L445.6,180.8 L445.8,180.9 L446.1,180.9 L446.3,180.9 L446.5,180.7 L446.7,180.4 L446.9,180.3 L447.1,180.4 L447.3,180.5 L447.5,180.5 L447.7,180.5 L447.9,180.3 L448.2,180.1 L448.4,180.0 L448.6,179.9 L448.8,179.9 L449.0,179.7 L449.2,179.3 L449.4,178.9 L449.6,178.5 L449.8,178.2 L450.0,177.8 L450.3,177.1 L450.5,176.4 L450.7,175.7 L450.9,175.1 L451.1,174.6 L451.3,174.1 L451.5,173.6 L451.7,173.4 L451.9,173.6 L452.1,173.9 L452.4,174.4 L452.6,175.1 L452.8,176.0 L453.0,176.8 L453.2,177.4 L453.4,178.0 L453.6,178.6 L453.8,179.2 L454.0,179.7 L454.2,180.1 L454.5,180.5 L454.7,180.9 L454.9,181.3 L455.1,181.6 L455.3,181.8 L455.5,181.9 L455.7,182.0 L455.9,182.0 L456.1,181.9 L456.3,181.9 L456.6,181.9 L456.8,182.0 L457.0,182.1 L457.2,182.1 L457.4,182.1 L457.6,182.2 L457.8,182.3 L458.0,182.4 L458.2,182.5 L458.4,182.6 L458.7,182.6 L458.9,182.6 L459.1,182.5 L459.3,182.4 L459.5,182.4 L459.7,182.3 L459.9,182.2 L460.1,182.1 L460.3,182.1 L460.5,182.0 L460.8,181.9 L461.0,181.8 L461.2,181.8 L461.4,181.7 L461.6,181.7 L461.8,181.9 L462.0,182.1 L462.2,182.0 L462.4,182.1 L462.6,182.3 L462.9,182.4 L463.1,182.5 L463.3,182.7 L463.5,182.8 L463.7,182.8 L463.9,182.8 L464.1,182.9 L464.3,183.1 L464.5,183.1 L464.7,183.0 L465.0,183.0 L465.2,183.2 L465.4,183.2 L465.6,183.3 L465.8,183.5 L466.0,183.5 L466.2,183.6 L466.4,183.9 L466.6,184.0 L466.8,184.2 L467.1,184.3 L467.3,184.4 L467.5,184.4 L467.7,184.4 L467.9,184.2 L468.1,184.2 L468.3,184.2 L468.5,184.2 L468.7,184.0 L468.9,184.0 L469.2,184.0 L469.4,184.2 L469.6,184.3 L469.8,184.2 L470.0,184.2 L470.2,184.2 L470.4,184.3 L470.6,184.3 L470.8,184.4 L471.0,184.5 L471.3,184.5 L471.5,184.3 L471.7,184.2 L471.9,184.2 L472.1,184.1 L472.3,184.0 L472.5,184.0 L472.7,184.1 L472.9,184.1 L473.1,184.1 L473.4,184.3 L473.6,184.4 L473.8,184.4 L474.0,184.6 L474.2,184.8 L474.4,184.6 L474.6,184.4 L474.8,184.4 L475.0,184.5 L475.2,184.8 L475.5,185.1 L475.7,185.2 L475.9,185.3 L476.1,185.5 L476.3,185.5 L476.5,185.5 L476.7,185.5 L476.9,185.4 L477.1,185.1 L477.3,184.7 L477.6,184.5 L477.8,184.5 L478.0,184.6 L478.2,184.7 L478.4,184.6 L478.6,184.5 L478.8,184.5 L479.0,184.4 L479.2,184.3 L479.4,184.6 L479.7,184.6 L479.9,184.4 L480.1,184.4 L480.3,184.6 L480.5,184.7 L480.7,184.9 L480.9,184.8 L481.1,184.7 L481.3,184.8 L481.5,184.9 L481.8,184.9 L482.0,184.7 L482.2,184.6 L482.4,184.7 L482.6,184.9 L482.8,184.9 L483.0,184.8 L483.2,184.9 L483.4,185.1 L483.6,185.2 L483.9,185.2 L484.1,185.2 L484.3,185.0 L484.5,185.0 L484.7,185.3 L484.9,185.3 L485.1,185.3 L485.3,185.5 L485.5,185.6 L485.7,185.6 L486.0,185.7 L486.2,185.8 L486.4,185.7 L486.6,185.8 L486.8,185.8 L487.0,185.8 L487.2,185.6 L487.4,185.6 L487.6,185.6 L487.8,185.4 L488.1,185.3 L488.3,185.4 L488.5,185.4 L488.7,185.4 L488.9,185.7 L489.1,185.8 L489.3,185.7 L489.5,185.5 L489.7,185.4 L489.9,185.4 L490.2,185.6 L490.4,185.7 L490.6,185.6 L490.8,185.6 L491.0,185.7 L491.2,185.6 L491.4,185.5 L491.6,185.5 L491.8,185.4 L492.0,185.3 L492.3,185.2 L492.5,185.1 L492.7,185.3 L492.9,185.6 L493.1,185.6 L493.3,185.5 L493.5,185.5 L493.7,185.6 L493.9,185.5 L494.1,185.4 L494.4,185.5 L494.6,185.3 L494.8,185.2 L495.0,185.3 L495.2,185.2 L495.4,185.2 L495.6,185.3 L495.8,185.4 L496.0,185.4 L496.2,185.3 L496.5,185.0 L496.7,184.9 L496.9,184.9 L497.1,184.9 L497.3,184.8 L497.5,184.6 L497.7,184.6 L497.9,184.5 L498.1,184.6 L498.3,184.8 L498.6,185.0 L498.8,185.1 L499.0,185.2 L499.2,185.1 L499.4,185.1 L499.6,185.1 L499.8,185.0 L500.0,184.9 L500.2,184.9 L500.4,185.1 L500.7,185.4 L500.9,185.5 L501.1,185.6 L501.3,185.7 L501.5,185.7 L501.7,185.7 L501.9,185.8 L502.1,185.6 L502.3,185.5 L502.5,185.5 L502.8,185.5 L503.0,185.4 L503.2,185.4 L503.4,185.5 L503.6,185.4 L503.8,185.3 L504.0,185.4 L504.2,185.5 L504.4,185.7 L504.6,185.9 L504.9,185.8 L505.1,185.6 L505.3,185.7 L505.5,185.8 L505.7,185.8 L505.9,185.7 L506.1,185.8 L506.3,185.8 L506.5,185.9 L506.7,186.2 L507.0,186.2 L507.2,186.0 L507.4,186.0 L507.6,186.0 L507.8,186.0 L508.0,186.1 L508.2,186.1 L508.4,186.1 L508.6,186.3 L508.8,186.4 L509.1,186.4 L509.3,186.5 L509.5,186.6 L509.7,186.7 L509.9,186.7 L510.1,186.7 L510.3,186.7 L510.5,186.7 L510.7,186.7 L510.9,186.4 L511.2,186.3 L511.4,186.3 L511.6,186.2 L511.8,186.2 L512.0,186.2 L512.2,186.3 L512.4,186.3 L512.6,186.3 L512.8,186.3 L513.0,186.3 L513.3,186.2 L513.5,186.1 L513.7,186.2 L513.9,186.1 L514.1,185.9 L514.3,185.7 L514.5,185.8 L514.7,185.9 L514.9,186.0 L515.1,186.1 L515.4,186.2 L515.6,186.1 L515.8,186.1 L516.0,185.9 L516.2,185.7 L516.4,185.7 L516.6,185.8 L516.8,185.8 L517.0,185.7 L517.2,185.7 L517.5,185.7 L517.7,185.8 L517.9,185.7 L518.1,185.6 L518.3,185.6 L518.5,185.7 L518.7,185.7 L518.9,185.6 L519.1,185.5 L519.3,185.3 L519.6,185.3 L519.8,185.2 L520.0,185.1 L520.2,185.0 L520.4,184.8 L520.6,184.6 L520.8,184.5 L521.0,184.2 L521.2,184.1 L521.4,184.1 L521.7,183.9 L521.9,183.6 L522.1,183.4 L522.3,183.2 L522.5,183.0 L522.7,183.0 L522.9,183.0 L523.1,183.0 L523.3,182.9 L523.5,182.9 L523.8,183.2 L524.0,183.6 L524.2,183.9 L524.4,184.0 L524.6,184.2 L524.8,184.4 L525.0,184.5 L525.2,184.8 L525.4,185.0 L525.6,185.1 L525.9,185.3 L526.1,185.4 L526.3,185.5 L526.5,185.7 L526.7,185.8 L526.9,186.0 L527.1,185.9 L527.3,185.6 L527.5,185.6 L527.7,185.6 L528.0,185.5 L528.2,185.3 L528.4,185.2 L528.6,185.4 L528.8,185.5 L529.0,185.4 L529.2,185.4 L529.4,185.2 L529.6,185.0 L529.8,184.8 L530.1,184.6 L530.3,184.4 L530.5,184.2 L530.7,184.0 L530.9,183.9 L531.1,183.7 L531.3,183.8 L531.5,183.8 L531.7,183.8 L531.9,183.9 L532.2,183.9 L532.4,184.0 L532.6,184.2 L532.8,184.5 L533.0,184.7 L533.2,185.0 L533.4,185.3 L533.6,185.6 L533.8,185.7 L534.0,185.9 L534.3,186.0 L534.5,186.1" fill="none" stroke="#ff08ff" stroke-width="2.7" stroke-linejoin="round" stroke-linecap="round"/>
<rect x="289.6" y="14.6" width="245.4" height="178.7" fill="none" stroke="#000" stroke-width="2.2"/>
<line x1="289.6" y1="193.3" x2="289.6" y2="197.9" stroke="#000" stroke-width="1.8"/>
<text x="289.6" y="209.9" font-family='"Liberation Sans", sans-serif' font-size="12.3" font-weight="bold" fill="#000" text-anchor="middle">10</text>
<line x1="324.6" y1="193.3" x2="324.6" y2="197.9" stroke="#000" stroke-width="1.8"/>
<text x="324.6" y="209.9" font-family='"Liberation Sans", sans-serif' font-size="12.3" font-weight="bold" fill="#000" text-anchor="middle">20</text>
<line x1="359.6" y1="193.3" x2="359.6" y2="197.9" stroke="#000" stroke-width="1.8"/>
<text x="359.6" y="209.9" font-family='"Liberation Sans", sans-serif' font-size="12.3" font-weight="bold" fill="#000" text-anchor="middle">30</text>
<line x1="394.6" y1="193.3" x2="394.6" y2="197.9" stroke="#000" stroke-width="1.8"/>
<text x="394.6" y="209.9" font-family='"Liberation Sans", sans-serif' font-size="12.3" font-weight="bold" fill="#000" text-anchor="middle">40</text>
<line x1="429.6" y1="193.3" x2="429.6" y2="197.9" stroke="#000" stroke-width="1.8"/>
<text x="429.6" y="209.9" font-family='"Liberation Sans", sans-serif' font-size="12.3" font-weight="bold" fill="#000" text-anchor="middle">50</text>
<line x1="464.6" y1="193.3" x2="464.6" y2="197.9" stroke="#000" stroke-width="1.8"/>
<text x="464.6" y="209.9" font-family='"Liberation Sans", sans-serif' font-size="12.3" font-weight="bold" fill="#000" text-anchor="middle">60</text>
<line x1="499.6" y1="193.3" x2="499.6" y2="197.9" stroke="#000" stroke-width="1.8"/>
<text x="499.6" y="209.9" font-family='"Liberation Sans", sans-serif' font-size="12.3" font-weight="bold" fill="#000" text-anchor="middle">70</text>
<line x1="534.6" y1="193.3" x2="534.6" y2="197.9" stroke="#000" stroke-width="1.8"/>
<text x="534.6" y="209.9" font-family='"Liberation Sans", sans-serif' font-size="12.3" font-weight="bold" fill="#000" text-anchor="middle">80</text>
<text x="412.4" y="220.1" font-family='"Liberation Serif", serif' font-size="12" font-weight="bold" fill="#000" text-anchor="middle" textLength="65.0" lengthAdjust="spacingAndGlyphs">2θ (degree)</text>
<text x="284.9" y="112.1" font-family='"Liberation Serif", serif' font-size="13.5" font-weight="bold" fill="#000" text-anchor="middle" transform="rotate(-90 284.9 112.1)" textLength="83.2" lengthAdjust="spacingAndGlyphs">Intensity (a.u)</text>
<text x="292.6" y="30.0" font-family='"Liberation Serif", serif' font-size="19.2" font-weight="bold" fill="#000" text-anchor="start" textLength="22.4" lengthAdjust="spacingAndGlyphs">(b)</text>
<text x="343.2" y="56.6" font-family='"Liberation Serif", serif' font-size="11" font-weight="bold" fill="#0f830f" text-anchor="start" transform="rotate(-90 343.2 56.6)" textLength="23.6" lengthAdjust="spacingAndGlyphs">(002)</text>
<text x="358.6" y="57.900000000000006" font-family='"Liberation Serif", serif' font-size="11" font-weight="bold" fill="#000" text-anchor="start" transform="rotate(-90 358.6 57.900000000000006)" textLength="23.6" lengthAdjust="spacingAndGlyphs">(111)</text>
<text x="374" y="73.10000000000001" font-family='"Liberation Serif", serif' font-size="11" font-weight="bold" fill="#000" text-anchor="start" transform="rotate(-90 374 73.10000000000001)" textLength="23.6" lengthAdjust="spacingAndGlyphs">(200)</text>
<text x="410" y="73.2" font-family='"Liberation Serif", serif' font-size="11" font-weight="bold" fill="#0f830f" text-anchor="start" transform="rotate(-90 410 73.2)" textLength="23.6" lengthAdjust="spacingAndGlyphs">(100)</text>
<text x="425.4" y="73.10000000000001" font-family='"Liberation Serif", serif' font-size="11" font-weight="bold" fill="#000" text-anchor="start" transform="rotate(-90 425.4 73.10000000000001)" textLength="23.6" lengthAdjust="spacingAndGlyphs">(220)</text>
<text x="456.6" y="79.5" font-family='"Liberation Serif", serif' font-size="11" font-weight="bold" fill="#000" text-anchor="start" transform="rotate(-90 456.6 79.5)" textLength="23.6" lengthAdjust="spacingAndGlyphs">(311)</text>
<text x="472" y="78.2" font-family='"Liberation Serif", serif' font-size="11" font-weight="bold" fill="#000" text-anchor="start" transform="rotate(-90 472 78.2)" textLength="23.6" lengthAdjust="spacingAndGlyphs">(222)</text>
<text x="502.6" y="84.60000000000001" font-family='"Liberation Serif", serif' font-size="11" font-weight="bold" fill="#000" text-anchor="start" transform="rotate(-90 502.6 84.60000000000001)" textLength="23.6" lengthAdjust="spacingAndGlyphs">(400)</text>
<text x="528" y="83.9" font-family='"Liberation Serif", serif' font-size="11" font-weight="bold" fill="#000" text-anchor="start" transform="rotate(-90 528 83.9)" textLength="23.6" lengthAdjust="spacingAndGlyphs">(331)</text>
<path d="M464.6,82.6 L466.2,80.2 L467.6,82.8" fill="none" stroke="#000" stroke-width="1.2"/>
<text x="532.6" y="45" font-family='"Liberation Serif", serif' font-size="10.5" font-weight="bold" fill="#0f830f" text-anchor="end" textLength="117.2" lengthAdjust="spacingAndGlyphs">4.5% Co-CeO<tspan dy="3.3">2</tspan><tspan dy="-3.3">/N, S-rGO</tspan></text>
<text x="532.6" y="105.2" font-family='"Liberation Serif", serif' font-size="10.5" font-weight="bold" fill="#0a0aff" text-anchor="end" textLength="109.2" lengthAdjust="spacingAndGlyphs">3% Co-CeO<tspan dy="3.3">2</tspan><tspan dy="-3.3">/N, S-rGO</tspan></text>
<text x="532.6" y="131.9" font-family='"Liberation Serif", serif' font-size="10.5" font-weight="bold" fill="#ff0808" text-anchor="end" textLength="116.5" lengthAdjust="spacingAndGlyphs">1.5% Co-CeO<tspan dy="3.3">2</tspan><tspan dy="-3.3">/N, S-rGO</tspan></text>
<text x="532.6" y="176" font-family='"Liberation Serif", serif' font-size="10.5" font-weight="bold" fill="#ff08ff" text-anchor="end" textLength="73.1" lengthAdjust="spacingAndGlyphs">CeO<tspan dy="3.3">2</tspan><tspan dy="-3.3">/N, S-rGO</tspan></text>
<path d="M149.3,300.6 L149.5,300.6 L149.7,300.4 L149.9,300.2 L150.1,300.0 L150.3,300.0 L150.4,299.9 L150.6,299.8 L150.8,299.7 L151.0,299.6 L151.2,299.6 L151.4,299.4 L151.5,299.2 L151.7,298.9 L151.9,298.7 L152.1,298.6 L152.3,298.5 L152.5,298.4 L152.6,298.2 L152.8,298.1 L153.0,298.0 L153.2,297.8 L153.4,297.7 L153.5,297.6 L153.7,297.4 L153.9,297.1 L154.1,296.9 L154.3,296.6 L154.5,296.3 L154.6,296.2 L154.8,296.0 L155.0,295.7 L155.2,295.5 L155.4,295.2 L155.6,294.9 L155.7,294.6 L155.9,294.3 L156.1,294.0 L156.3,293.7 L156.5,293.3 L156.6,292.9 L156.8,292.5 L157.0,292.2 L157.2,291.8 L157.4,291.5 L157.6,291.2 L157.7,290.9 L157.9,290.6 L158.1,290.1 L158.3,289.6 L158.5,289.3 L158.7,288.9 L158.8,288.6 L159.0,288.1 L159.2,287.5 L159.4,286.8 L159.6,286.2 L159.8,285.5 L159.9,285.0 L160.1,284.4 L160.3,283.8 L160.5,283.2 L160.7,282.8 L160.8,282.3 L161.0,281.6 L161.2,281.1 L161.4,280.5 L161.6,279.8 L161.8,279.0 L161.9,278.4 L162.1,277.8 L162.3,277.1 L162.5,276.4 L162.7,275.7 L162.9,275.1 L163.0,274.5 L163.2,273.9 L163.4,273.1 L163.6,272.3 L163.8,271.7 L163.9,271.0 L164.1,270.1 L164.3,269.1 L164.5,268.3 L164.7,267.5 L164.9,266.7 L165.0,266.0 L165.2,265.2 L165.4,264.4 L165.6,263.6 L165.8,262.8 L166.0,262.0 L166.1,261.1 L166.3,260.2 L166.5,259.3 L166.7,258.5 L166.9,257.6 L167.1,256.8 L167.2,256.1 L167.4,255.6 L167.6,254.9 L167.8,254.2 L168.0,253.5 L168.1,252.8 L168.3,252.1 L168.5,251.5 L168.7,250.8 L168.9,250.2 L169.1,249.6 L169.2,249.1 L169.4,248.5 L169.6,247.9 L169.8,247.3 L170.0,246.8 L170.2,246.2 L170.3,245.8 L170.5,245.5 L170.7,245.2 L170.9,244.8 L171.1,245.3 L171.2,246.0 L171.4,246.8 L171.6,247.6 L171.8,248.5 L172.0,249.7 L172.2,251.1 L172.3,252.5 L172.5,254.0 L172.7,255.5 L172.9,257.1 L173.1,258.8 L173.3,260.4 L173.4,261.9 L173.6,263.3 L173.8,264.7 L174.0,266.1 L174.2,267.6 L174.4,268.9 L174.5,270.2 L174.7,271.6 L174.9,273.0 L175.1,274.3 L175.3,275.5 L175.4,276.8 L175.6,277.9 L175.8,279.0 L176.0,280.0 L176.2,280.9 L176.4,281.8 L176.5,282.5 L176.7,283.4 L176.9,284.1 L177.1,284.8 L177.3,285.5 L177.5,286.2 L177.6,286.8 L177.8,287.4 L178.0,288.0 L178.2,288.7 L178.4,289.2 L178.5,289.6 L178.7,290.0 L178.9,290.3 L179.1,290.8 L179.3,291.3 L179.5,291.5 L179.6,291.7 L179.8,292.1 L180.0,292.7 L180.2,293.2 L180.4,293.6 L180.6,293.8 L180.7,294.1 L180.9,294.3 L181.1,294.5 L181.3,294.6 L181.5,294.8 L181.7,295.0 L181.8,295.2 L182.0,295.4 L182.2,295.8 L182.4,296.1 L182.6,296.4 L182.7,296.6 L182.9,296.8 L183.1,296.8 L183.3,296.9 L183.5,297.1 L183.7,297.3 L183.8,297.4 L184.0,297.5 L184.2,297.7 L184.4,297.9 L184.6,298.0 L184.8,298.1 L184.9,298.2 L185.1,298.5 L185.3,298.6 L185.5,298.6 L185.7,298.8 L185.8,299.0 L186.0,299.2 L186.2,299.3 L186.4,299.4 L186.6,299.5 L186.8,299.6 L186.9,299.7 L187.1,299.8 L187.3,300.0 L187.5,300.1 L187.7,300.2 L187.9,300.1 L188.0,300.1 L188.2,300.2 L188.4,300.3 L188.6,300.3 L188.8,300.4 L189.0,300.4 L189.1,300.5 L189.3,300.6 L189.5,300.6 L189.7,300.6 L189.9,300.6 L190.0,300.6 L190.2,300.7 L190.4,300.7 L190.6,300.7 L190.8,300.7 L191.0,300.7 L191.1,300.8 L191.3,301.0 L191.5,301.0 L191.7,301.1 L191.9,301.2 L192.1,301.2 L192.2,301.3 L192.4,301.4 L192.6,301.5 L192.8,301.6 L193.0,301.5 L193.1,301.5 L193.3,301.4 L193.5,301.3 L193.7,301.4 L193.9,301.5 L194.1,301.5 L194.2,301.6 L194.4,301.6 L194.6,301.6 L194.8,301.7 L195.0,301.7 L195.2,301.7 L195.3,301.5 L195.5,301.4 L195.7,301.4 L195.9,301.4 L196.1,301.4 L196.3,301.4 L196.4,301.4 L196.6,301.4 L196.8,301.5 L197.0,301.7 L197.2,301.8 L197.3,301.8 L197.5,301.8 L197.7,301.9 L197.9,301.8 L198.1,301.8 L198.3,301.9 L198.4,301.9 L198.6,301.9 L198.8,301.9 L199.0,301.9 L199.2,301.9 L199.4,302.0 L199.5,302.0 L199.7,302.0 L199.9,302.1 L200.1,302.3 L200.3,302.3 L200.4,302.2 L200.6,302.2 L200.8,302.2 L201.0,302.2 L201.2,302.2 L201.4,302.3 L201.5,302.3 L201.7,302.3 L201.9,302.4 L202.1,302.5 L202.3,302.5 L202.5,302.6 L202.6,302.5 L202.8,302.4 L203.0,302.4 L203.2,302.4 L203.4,302.4 L203.6,302.3 L203.7,302.4 L203.9,302.5 L204.1,302.5 L204.3,302.4 L204.5,302.5 L204.6,302.5 L204.8,302.4 L205.0,302.4 L205.2,302.5 L205.4,302.7 L205.6,302.7 L205.7,302.6 L205.9,302.6 L206.1,302.7 L206.3,302.7 L206.5,302.7 L206.7,302.7 L206.8,302.6 L207.0,302.6 L207.2,302.5 L207.4,302.5 L207.6,302.6 L207.7,302.7 L207.9,302.7 L208.1,302.8 L208.3,302.8 L208.5,302.8 L208.7,302.8 L208.8,302.9 L209.0,303.0 L209.2,303.1 L209.4,303.1 L209.6,303.1 L209.8,303.0 L209.9,303.0 L210.1,303.1 L210.3,303.1 L210.5,303.1 L210.7,303.2 L210.9,303.2 L211.0,303.2 L211.2,303.2 L211.4,303.3 L211.6,303.3 L211.8,303.4 L211.9,303.3 L212.1,303.2 L212.3,303.0 L212.5,303.0 L212.7,303.2 L212.9,303.4 L213.0,303.5 L213.2,303.5 L213.4,303.6 L213.6,303.7 L213.8,303.8 L214.0,303.8 L214.1,303.8 L214.3,303.8 L214.5,303.8 L214.7,303.8 L214.9,303.8 L215.0,303.8 L215.2,303.8 L215.4,303.8 L215.6,303.8 L215.8,303.8 L216.0,303.8 L216.1,303.8 L216.3,303.8 L216.5,303.8 L216.7,303.8 L216.9,303.9 L217.1,303.9 L217.2,303.9 L217.4,303.9 L217.6,303.9 L217.8,303.9 L218.0,303.7 L218.2,303.7 L218.3,303.7 L218.5,303.8 L218.7,304.0 L218.9,304.1 L219.1,304.1 L219.2,304.2 L219.4,304.3 L219.6,304.3 L219.8,304.3 L220.0,304.3 L220.2,304.2 L220.3,304.1 L220.5,304.1 L220.7,304.2 L220.9,304.3 L221.1,304.3 L221.3,304.4 L221.4,304.4 L221.6,304.4 L221.8,304.6 L222.0,304.6 L222.2,304.6 L222.3,304.8 L222.5,304.9 L222.7,304.8 L222.9,304.6 L223.1,304.5 L223.3,304.6 L223.4,304.6 L223.6,304.4 L223.8,304.3 L224.0,304.2 L224.2,304.2 L224.4,304.3 L224.5,304.4 L224.7,304.4 L224.9,304.4 L225.1,304.5 L225.3,304.6 L225.5,304.7 L225.6,304.8 L225.8,304.9 L226.0,305.0 L226.2,305.1 L226.4,305.1 L226.5,305.0 L226.7,304.9 L226.9,304.9 L227.1,304.9 L227.3,304.8 L227.5,304.9 L227.6,304.9 L227.8,304.9 L228.0,304.8 L228.2,304.8 L228.4,304.8 L228.6,305.0 L228.7,305.0 L228.9,305.1 L229.1,305.2 L229.3,305.3 L229.5,305.3 L229.6,305.3 L229.8,305.3 L230.0,305.3 L230.2,305.3 L230.4,305.3 L230.6,305.2 L230.7,305.1 L230.9,305.3 L231.1,305.4 L231.3,305.4 L231.5,305.3 L231.7,305.3 L231.8,305.4 L232.0,305.5 L232.2,305.7 L232.4,305.8 L232.6,305.8 L232.8,305.9 L232.9,306.0 L233.1,306.1 L233.3,305.9 L233.5,305.7 L233.7,305.6 L233.8,305.5 L234.0,305.4 L234.2,305.3 L234.4,305.3 L234.6,305.3 L234.8,305.5 L234.9,305.5 L235.1,305.4 L235.3,305.4 L235.5,305.4 L235.7,305.4 L235.9,305.6 L236.0,305.8 L236.2,305.8 L236.4,305.7 L236.6,305.7 L236.8,305.7 L236.9,305.8 L237.1,305.9 L237.3,306.0 L237.5,306.0 L237.7,306.0 L237.9,306.1 L238.0,306.1 L238.2,306.1 L238.4,306.1 L238.6,306.2 L238.8,306.2 L239.0,306.2 L239.1,306.2 L239.3,306.2 L239.5,306.2 L239.7,306.3 L239.9,306.3 L240.1,306.2 L240.2,306.1 L240.4,306.1 L240.6,306.0 L240.8,306.0 L241.0,306.2 L241.1,306.3 L241.3,306.4 L241.5,306.4 L241.7,306.5 L241.9,306.6 L242.1,306.6 L242.2,306.6 L242.4,306.7 L242.6,306.7 L242.8,306.6 L243.0,306.6 L243.2,306.5 L243.3,306.5 L243.5,306.5 L243.7,306.6 L243.9,306.7 L244.1,306.7 L244.2,306.7 L244.4,306.7 L244.6,306.8 L244.8,307.0 L245.0,307.2 L245.2,307.1 L245.3,307.0 L245.5,307.0 L245.7,307.1 L245.9,307.1 L246.1,307.0 L246.3,306.9 L246.4,306.9 L246.6,306.9 L246.8,306.9 L247.0,307.0 L247.2,307.1 L247.4,307.1 L247.5,307.2 L247.7,307.3 L247.9,307.4 L248.1,307.3 L248.3,307.3 L248.4,307.5 L248.6,307.6 L248.8,307.6 L249.0,307.7 L249.2,307.7 L249.4,307.7 L249.5,307.7 L249.7,307.8 L249.9,307.8 L250.1,307.7 L250.3,307.8 L250.5,307.9 L250.6,307.9 L250.8,307.9 L251.0,307.9 L251.2,308.0 L251.4,307.9 L251.5,307.9 L251.7,307.9 L251.9,307.9 L252.1,308.0 L252.3,308.0 L252.5,308.0 L252.6,308.1 L252.8,308.1 L253.0,308.2 L253.2,308.2 L253.4,308.3 L253.6,308.4 L253.7,308.5 L253.9,308.5 L254.1,308.6 L254.3,308.6 L254.5,308.5 L254.7,308.7 L254.8,308.8 L255.0,308.8 L255.2,308.8 L255.4,308.8 L255.6,308.7 L255.7,308.7 L255.9,308.7 L256.1,308.7 L256.3,308.7 L256.5,308.7 L256.7,308.7 L256.8,308.7 L257.0,308.6 L257.2,308.5 L257.4,308.6 L257.6,308.7 L257.8,308.8 L257.9,308.8 L258.1,308.8 L258.3,308.9 L258.5,309.1 L258.7,309.3 L258.8,309.3 L259.0,309.4 L259.2,309.5 L259.4,309.6 L259.6,309.6 L259.8,309.6 L259.9,309.6 L260.1,309.5 L260.3,309.5 L260.5,309.5 L260.7,309.5 L260.9,309.4 L261.0,309.3 L261.2,309.4 L261.4,309.3 L261.6,309.3 L261.8,309.4 L262.0,309.4 L262.1,309.5 L262.3,309.6 L262.5,309.7 L262.7,309.7 L262.9,309.7 L263.0,309.8 L263.2,309.9 L263.4,310.0 L263.6,310.1 L263.8,310.2 L264.0,310.3 L264.1,310.3 L264.3,310.3 L264.5,310.5 L264.7,310.6 L264.9,310.5 L265.1,310.5 L265.2,310.4 L265.4,310.4 L265.6,310.5 L265.8,310.5 L266.0,310.4 L266.1,310.4 L266.3,310.2 L266.5,310.1 L266.7,310.2 L266.9,310.3 L267.1,310.4 L267.2,310.4 L267.4,310.5 L267.6,310.7 L267.8,310.9 L268.0,310.9 L268.2,311.1 L268.3,311.2 L268.5,311.4 L268.7,311.5 L268.9,311.4 L269.1,311.3 L269.3,311.2 L269.4,311.2 L269.6,311.3 L269.8,311.3 L270.0,311.3 L270.2,311.3 L270.3,311.3 L270.5,311.5 L270.7,311.6 L270.9,311.7 L271.1,311.7 L271.3,311.8 L271.4,311.9 L271.6,312.0 L271.8,312.1 L272.0,312.2 L272.2,312.3 L272.4,312.4 L272.5,312.5 L272.7,312.5 L272.9,312.6 L273.1,312.6 L273.3,312.6 L273.4,312.7 L273.6,312.7 L273.8,312.7 L274.0,312.6 L274.2,312.7 L274.4,312.8 L274.5,313.0 L274.7,313.0 L274.9,313.0 L275.1,313.0 L275.3,313.0 L275.5,313.0 L275.6,313.0 L275.8,313.1 L276.0,313.1 L276.2,313.2 L276.4,313.2 L276.6,313.2 L276.7,313.3 L276.9,313.2 L277.1,313.1 L277.3,313.1 L277.5,313.2 L277.6,313.3 L277.8,313.5 L278.0,313.6 L278.2,313.7 L278.4,313.7 L278.6,313.8 L278.7,314.0 L278.9,314.1 L279.1,314.2 L279.3,314.2 L279.5,314.3 L279.7,314.3 L279.8,314.4 L280.0,314.4 L280.2,314.4 L280.4,314.4 L280.6,314.3 L280.7,314.2 L280.9,314.2 L281.1,314.4 L281.3,314.4 L281.5,314.3 L281.7,314.3 L281.8,314.2 L282.0,314.1 L282.2,314.1 L282.4,314.2 L282.6,314.2 L282.8,314.2 L282.9,314.2 L283.1,314.2 L283.3,314.2 L283.5,314.1 L283.7,314.0 L283.9,313.8 L284.0,313.7 L284.2,313.6 L284.4,313.4 L284.6,313.1 L284.8,312.8 L284.9,312.7 L285.1,312.5 L285.3,312.2 L285.5,311.8 L285.7,312.2 L285.9,312.5 L286.0,312.8 L286.2,313.2 L286.4,313.4 L286.6,313.6 L286.8,313.8 L287.0,314.1 L287.1,314.5 L287.3,314.7 L287.5,314.9 L287.7,315.1 L287.9,315.3 L288.0,315.5 L288.2,315.7 L288.4,315.9 L288.6,316.1 L288.8,316.2 L289.0,316.3 L289.1,316.4 L289.3,316.6 L289.5,316.7 L289.7,316.9 L289.9,317.1 L290.1,317.4 L290.2,317.6 L290.4,317.7 L290.6,317.7 L290.8,317.8 L291.0,318.0 L291.2,318.2 L291.3,318.2 L291.5,318.4 L291.7,318.6 L291.9,318.7 L292.1,319.0 L292.2,319.2 L292.4,319.3 L292.6,319.4 L292.8,319.5 L293.0,319.6 L293.2,319.8 L293.3,319.9 L293.5,320.0 L293.7,320.2 L293.9,320.3 L294.1,320.3 L294.3,320.4 L294.4,320.5 L294.6,320.6 L294.8,320.7 L295.0,320.8 L295.2,321.0 L295.3,321.1 L295.5,321.2 L295.7,321.3 L295.9,321.5 L296.1,321.6 L296.3,321.6 L296.4,321.5 L296.6,321.4 L296.8,321.3 L297.0,321.5 L297.2,321.6 L297.4,321.8 L297.5,321.9 L297.7,322.0 L297.9,322.2 L298.1,322.3 L298.3,322.3 L298.5,322.2 L298.6,322.3 L298.8,322.4 L299.0,322.4 L299.2,322.5 L299.4,322.5 L299.5,322.7 L299.7,322.8 L299.9,322.8 L300.1,322.8 L300.3,323.0 L300.5,323.1 L300.6,323.2 L300.8,323.2 L301.0,323.2 L301.2,323.3 L301.4,323.5 L301.6,323.6 L301.7,323.6 L301.9,323.6 L302.1,323.7 L302.3,323.7 L302.5,323.9 L302.6,324.1 L302.8,324.1 L303.0,324.1 L303.2,324.2 L303.4,324.3 L303.6,324.3 L303.7,324.3 L303.9,324.3 L304.1,324.2 L304.3,324.1 L304.5,324.1 L304.7,324.1 L304.8,324.1 L305.0,324.2 L305.2,324.4 L305.4,324.6 L305.6,324.7 L305.8,324.8 L305.9,325.0 L306.1,325.1 L306.3,325.0 L306.5,324.9 L306.7,324.9 L306.8,325.0 L307.0,324.9 L307.2,324.9 L307.4,325.1 L307.6,325.2 L307.8,325.1 L307.9,325.1 L308.1,325.2 L308.3,325.3 L308.5,325.3 L308.7,325.3 L308.9,325.4 L309.0,325.6 L309.2,325.7 L309.4,325.6 L309.6,325.7 L309.8,325.8 L309.9,325.8 L310.1,325.8 L310.3,325.8 L310.5,325.9 L310.7,325.9 L310.9,325.9 L311.0,325.9 L311.2,326.0 L311.4,325.9 L311.6,325.8 L311.8,325.8 L312.0,325.7 L312.1,325.6 L312.3,325.6 L312.5,325.7 L312.7,325.8 L312.9,325.9 L313.1,325.9 L313.2,325.9 L313.4,325.9 L313.6,326.0 L313.8,326.1 L314.0,326.2 L314.1,326.4 L314.3,326.5 L314.5,326.6 L314.7,326.7 L314.9,326.7 L315.1,326.7 L315.2,326.6 L315.4,326.5 L315.6,326.4 L315.8,326.4 L316.0,326.4 L316.2,326.5 L316.3,326.4 L316.5,326.4 L316.7,326.4 L316.9,326.4 L317.1,326.3 L317.2,326.3 L317.4,326.4 L317.6,326.4 L317.8,326.4 L318.0,326.4 L318.2,326.6 L318.3,326.7 L318.5,326.7 L318.7,326.7 L318.9,326.9 L319.1,327.0 L319.3,327.1 L319.4,327.1 L319.6,327.2 L319.8,327.3 L320.0,327.3 L320.2,327.5 L320.4,327.5 L320.5,327.4 L320.7,327.3 L320.9,327.3 L321.1,327.3 L321.3,327.4 L321.4,327.4 L321.6,327.4 L321.8,327.4 L322.0,327.5 L322.2,327.6 L322.4,327.6 L322.5,327.5 L322.7,327.5 L322.9,327.4 L323.1,327.5 L323.3,327.5 L323.5,327.4 L323.6,327.4 L323.8,327.5 L324.0,327.5 L324.2,327.5 L324.4,327.6 L324.5,327.7 L324.7,327.8 L324.9,327.9 L325.1,327.9 L325.3,328.0 L325.5,328.0 L325.6,328.1 L325.8,328.1 L326.0,328.0 L326.2,328.1 L326.4,328.0 L326.6,328.0 L326.7,328.1 L326.9,328.2 L327.1,328.2 L327.3,328.1 L327.5,328.1 L327.7,328.2 L327.8,328.2 L328.0,328.0 L328.2,328.1 L328.4,328.4 L328.6,328.5 L328.7,328.4 L328.9,328.4 L329.1,328.4 L329.3,328.5 L329.5,328.6 L329.7,328.6 L329.8,328.6 L330.0,328.6 L330.2,328.6 L330.4,328.5 L330.6,328.5 L330.8,328.5 L330.9,328.5 L331.1,328.4 L331.3,328.5 L331.5,328.7 L331.7,328.7 L331.8,328.7 L332.0,328.8 L332.2,328.9 L332.4,328.8 L332.6,328.7 L332.8,328.6 L332.9,328.6 L333.1,328.7 L333.3,328.7 L333.5,328.7 L333.7,328.9 L333.9,329.0 L334.0,329.0 L334.2,329.1 L334.4,329.1 L334.6,329.1 L334.8,329.2 L335.0,329.1 L335.1,329.1 L335.3,329.2 L335.5,329.2 L335.7,329.2 L335.9,329.3 L336.0,329.3 L336.2,329.2 L336.4,329.2 L336.6,329.3 L336.8,329.2 L337.0,329.2 L337.1,329.2 L337.3,329.2 L337.5,329.3 L337.7,329.2 L337.9,329.2 L338.1,329.2 L338.2,329.2 L338.4,329.2 L338.6,329.2 L338.8,329.2 L339.0,329.3 L339.1,329.3 L339.3,329.3 L339.5,329.4 L339.7,329.4 L339.9,329.5 L340.1,329.5 L340.2,329.5 L340.4,329.4 L340.6,329.5 L340.8,329.5 L341.0,329.5 L341.2,329.5 L341.3,329.5 L341.5,329.4 L341.7,329.4 L341.9,329.4 L342.1,329.4 L342.3,329.5 L342.4,329.6 L342.6,329.7 L342.8,329.7 L343.0,329.7 L343.2,329.7 L343.3,329.8 L343.5,329.8 L343.7,329.8 L343.9,329.7 L344.1,329.8 L344.3,329.9 L344.4,329.8 L344.6,329.8 L344.8,329.7 L345.0,329.7 L345.2,329.7 L345.4,329.6 L345.5,329.6 L345.7,329.7 L345.9,329.8 L346.1,329.9 L346.3,330.0 L346.4,330.0 L346.6,330.0 L346.8,330.1 L347.0,330.2 L347.2,330.2 L347.4,330.2 L347.5,330.2 L347.7,330.1 L347.9,330.1 L348.1,330.0 L348.3,330.1 L348.5,330.1 L348.6,330.1 L348.8,330.2 L349.0,330.3 L349.2,330.5 L349.4,330.7 L349.6,330.8 L349.7,330.9 L349.9,331.0 L350.1,330.9 L350.3,330.9 L350.5,330.7 L350.6,330.6 L350.8,330.5 L351.0,330.5 L351.2,330.4 L351.4,330.3 L351.6,330.3 L351.7,330.3 L351.9,330.3 L352.1,330.4 L352.3,330.5 L352.5,330.5 L352.7,330.3 L352.8,330.2 L353.0,330.1 L353.2,330.2 L353.4,330.3 L353.6,330.2 L353.7,330.2 L353.9,330.3 L354.1,330.5 L354.3,330.6 L354.5,330.6 L354.7,330.7 L354.8,330.7 L355.0,330.6 L355.2,330.6 L355.4,330.7 L355.6,330.8 L355.8,330.9 L355.9,330.8 L356.1,330.7 L356.3,330.7 L356.5,330.6 L356.7,330.6 L356.9,330.6 L357.0,330.6 L357.2,330.5 L357.4,330.5 L357.6,330.6 L357.8,330.7 L357.9,330.8 L358.1,330.8 L358.3,330.7 L358.5,330.7 L358.7,330.8 L358.9,330.9 L359.0,330.9 L359.2,330.8 L359.4,330.7 L359.6,330.6 L359.8,330.7 L360.0,330.8 L360.1,330.6 L360.3,330.6 L360.5,330.6 L360.7,330.6 L360.9,330.7 L361.0,330.8 L361.2,330.8 L361.4,330.9 L361.6,330.9 L361.8,330.8 L362.0,330.8 L362.1,330.8 L362.3,330.8 L362.5,330.8 L362.7,330.8 L362.9,330.8 L363.1,330.8 L363.2,330.9 L363.4,330.9 L363.6,330.9 L363.8,331.0 L364.0,331.0 L364.2,330.9 L364.3,330.9 L364.5,331.0 L364.7,331.1 L364.9,331.1 L365.1,331.0 L365.2,331.0 L365.4,330.9 L365.6,331.0 L365.8,331.2 L366.0,331.3 L366.2,331.1 L366.3,331.1 L366.5,331.2 L366.7,331.3 L366.9,331.3 L367.1,331.2 L367.3,331.1 L367.4,331.1 L367.6,331.0 L367.8,331.0 L368.0,331.0 L368.2,330.9 L368.3,330.9 L368.5,331.0 L368.7,331.1 L368.9,331.1 L369.1,331.1 L369.3,331.2 L369.4,331.3 L369.6,331.4 L369.8,331.4 L370.0,331.4 L370.2,331.4 L370.4,331.3 L370.5,331.3 L370.7,331.2 L370.9,331.1 L371.1,331.1 L371.3,331.0 L371.5,331.1 L371.6,331.2 L371.8,331.3 L372.0,331.2 L372.2,331.2 L372.4,331.2 L372.5,331.1 L372.7,331.1 L372.9,331.0 L373.1,331.0 L373.3,331.1 L373.5,331.2 L373.6,331.3 L373.8,331.3 L374.0,331.3 L374.2,331.3 L374.4,331.3 L374.6,331.4 L374.7,331.4 L374.9,331.4 L375.1,331.4 L375.3,331.4 L375.5,331.5 L375.6,331.4 L375.8,331.4 L376.0,331.5 L376.2,331.5 L376.4,331.5 L376.6,331.5 L376.7,331.6 L376.9,331.6 L377.1,331.5 L377.3,331.5 L377.5,331.4 L377.7,331.4 L377.8,331.3 L378.0,331.3 L378.2,331.4 L378.4,331.5 L378.6,331.6 L378.8,331.5 L378.9,331.4 L379.1,331.5 L379.3,331.5 L379.5,331.5 L379.7,331.6 L379.8,331.7 L380.0,331.9 L380.2,332.0 L380.4,332.1 L380.6,332.2 L380.8,332.2 L380.9,332.3 L381.1,332.2 L381.3,332.0 L381.5,331.9 L381.7,331.9 L381.9,331.8 L382.0,331.8 L382.2,331.8 L382.4,331.8 L382.6,331.8 L382.8,331.7 L382.9,331.5 L383.1,331.4 L383.3,331.4 L383.5,331.4 L383.7,331.4 L383.9,331.4 L384.0,331.4 L384.2,331.4 L384.4,331.4 L384.6,331.5 L384.8,331.6 L385.0,331.6 L385.1,331.8 L385.3,331.8 L385.5,331.9 L385.7,332.0 L385.9,332.0 L386.1,332.1 L386.2,332.1 L386.4,332.1 L386.6,332.0 L386.8,332.0 L387.0,332.0 L387.1,332.0 L387.3,332.0 L387.5,332.1 L387.7,332.1 L387.9,332.0 L388.1,332.0 L388.2,332.0 L388.4,332.0 L388.6,331.9 L388.8,331.9 L389.0,332.0 L389.2,332.1 L389.3,332.1 L389.5,332.1 L389.7,332.1 L389.9,332.1 L390.1,332.1 L390.2,332.0 L390.4,332.0 L390.6,332.0 L390.8,332.1 L391.0,332.1 L391.2,332.2 L391.3,332.3 L391.5,332.3 L391.7,332.2 L391.9,332.3 L392.1,332.3 L392.3,332.2 L392.4,332.2 L392.6,332.2 L392.8,332.2 L393.0,332.2 L393.2,332.1 L393.4,332.0 L393.5,332.0 L393.7,332.0 L393.9,332.0 L394.1,332.1 L394.3,332.1 L394.4,332.1 L394.6,332.1 L394.8,332.0 L395.0,332.0 L395.2,332.0 L395.4,332.0 L395.5,332.0 L395.7,332.1 L395.9,332.1 L396.1,332.1 L396.3,332.0 L396.5,331.9 L396.6,331.9 L396.8,332.0 L397.0,332.0 L397.2,332.0 L397.4,332.0 L397.5,332.0 L397.7,332.0 L397.9,332.1 L398.1,332.3 L398.3,332.2 L398.5,332.1 L398.6,332.1 L398.8,332.2 L399.0,332.1 L399.2,332.1 L399.4,332.1 L399.6,332.2 L399.7,332.2 L399.9,332.2 L400.1,332.2 L400.3,332.2 L400.5,332.2 L400.7,332.2 L400.8,332.2 L401.0,332.1 L401.2,332.1 L401.4,332.2 L401.6,332.1 L401.7,332.1 L401.9,332.2 L402.1,332.4 L402.3,332.3 L402.5,332.3 L402.7,332.3 L402.8,332.2 L403.0,332.2 L403.2,332.2 L403.4,332.2 L403.6,332.2 L403.8,332.2 L403.9,332.3 L404.1,332.4 L404.3,332.5 L404.5,332.5 L404.7,332.5 L404.8,332.6 L405.0,332.6 L405.2,332.7 L405.4,332.8 L405.6,332.7 L405.8,332.6 L405.9,332.6 L406.1,332.5 L406.3,332.5 L406.5,332.5 L406.7,332.5 L406.9,332.4 L407.0,332.4 L407.2,332.5 L407.4,332.5 L407.6,332.5 L407.8,332.4 L408.0,332.4 L408.1,332.3 L408.3,332.3 L408.5,332.3 L408.7,332.3 L408.9,332.3 L409.0,332.4 L409.2,332.3 L409.4,332.3 L409.6,332.5 L409.8,332.6 L410.0,332.7 L410.1,332.7 L410.3,332.5 L410.5,332.5 L410.7,332.4 L410.9,332.3 L411.1,332.1 L411.2,332.0 L411.4,331.9 L411.6,331.8 L411.8,331.7 L412.0,331.8 L412.1,331.9 L412.3,331.9 L412.5,331.9 L412.7,331.9 L412.9,331.9 L413.1,332.0 L413.2,332.1 L413.4,332.2 L413.6,332.4 L413.8,332.4 L414.0,332.4 L414.2,332.4 L414.3,332.4 L414.5,332.5 L414.7,332.6 L414.9,332.6 L415.1,332.6 L415.3,332.5 L415.4,332.5 L415.6,332.5 L415.8,332.4 L416.0,332.5 L416.2,332.5 L416.3,332.5 L416.5,332.6 L416.7,332.6 L416.9,332.7 L417.1,332.7 L417.3,332.7 L417.4,332.8 L417.6,332.8 L417.8,332.7 L418.0,332.7 L418.2,332.7 L418.4,332.6 L418.5,332.5 L418.7,332.5 L418.9,332.6 L419.1,332.6 L419.3,332.5 L419.4,332.5 L419.6,332.4 L419.8,332.4 L420.0,332.6 L420.2,332.7 L420.4,332.7 L420.5,332.7 L420.7,332.7 L420.9,332.6 L421.1,332.3 L421.3,332.2 L421.5,332.2 L421.6,332.2 L421.8,332.1 L422.0,332.1 L422.2,332.2 L422.4,332.3 L422.6,332.4 L422.7,332.4 L422.9,332.4 L423.1,332.6" fill="none" stroke="#ff0808" stroke-width="3.2" stroke-linejoin="round" stroke-linecap="round"/>
<path d="M149.3,405.6 L149.5,405.7 L149.7,405.8 L149.9,405.9 L150.1,405.9 L150.3,405.9 L150.4,406.0 L150.6,406.0 L150.8,406.1 L151.0,406.2 L151.2,406.4 L151.4,406.5 L151.5,406.7 L151.7,406.8 L151.9,406.9 L152.1,407.0 L152.3,407.2 L152.5,407.3 L152.6,407.3 L152.8,407.3 L153.0,407.4 L153.2,407.5 L153.4,407.5 L153.5,407.4 L153.7,407.4 L153.9,407.3 L154.1,407.4 L154.3,407.4 L154.5,407.4 L154.6,407.3 L154.8,407.4 L155.0,407.3 L155.2,407.2 L155.4,407.2 L155.6,407.3 L155.7,407.3 L155.9,407.3 L156.1,407.3 L156.3,407.3 L156.5,407.4 L156.6,407.3 L156.8,407.2 L157.0,407.3 L157.2,407.3 L157.4,407.2 L157.6,407.0 L157.7,406.9 L157.9,406.7 L158.1,406.6 L158.3,406.4 L158.5,406.2 L158.7,405.9 L158.8,405.7 L159.0,405.6 L159.2,405.6 L159.4,405.7 L159.6,405.8 L159.8,405.7 L159.9,405.6 L160.1,405.5 L160.3,405.5 L160.5,405.5 L160.7,405.5 L160.8,405.3 L161.0,405.2 L161.2,405.2 L161.4,405.3 L161.6,405.2 L161.8,405.1 L161.9,405.0 L162.1,404.9 L162.3,404.8 L162.5,404.7 L162.7,404.6 L162.9,404.4 L163.0,404.2 L163.2,403.9 L163.4,403.7 L163.6,403.7 L163.8,403.6 L163.9,403.5 L164.1,403.4 L164.3,403.4 L164.5,403.5 L164.7,403.5 L164.9,403.4 L165.0,403.4 L165.2,403.3 L165.4,403.2 L165.6,403.0 L165.8,402.9 L166.0,402.9 L166.1,402.8 L166.3,402.7 L166.5,402.8 L166.7,402.8 L166.9,402.6 L167.1,402.5 L167.2,402.5 L167.4,402.4 L167.6,402.4 L167.8,402.3 L168.0,402.0 L168.1,401.9 L168.3,401.9 L168.5,401.8 L168.7,401.8 L168.9,401.8 L169.1,401.7 L169.2,401.6 L169.4,401.4 L169.6,401.2 L169.8,401.2 L170.0,401.1 L170.2,401.1 L170.3,401.1 L170.5,401.1 L170.7,401.0 L170.9,401.0 L171.1,401.0 L171.2,400.9 L171.4,400.9 L171.6,400.9 L171.8,400.7 L172.0,400.6 L172.2,400.6 L172.3,400.7 L172.5,400.9 L172.7,401.0 L172.9,401.0 L173.1,401.0 L173.3,401.1 L173.4,401.1 L173.6,400.8 L173.8,400.8 L174.0,400.8 L174.2,400.7 L174.4,400.5 L174.5,400.3 L174.7,400.3 L174.9,400.4 L175.1,400.5 L175.3,400.6 L175.4,400.7 L175.6,400.8 L175.8,400.9 L176.0,401.0 L176.2,400.9 L176.4,400.9 L176.5,400.9 L176.7,401.1 L176.9,401.1 L177.1,401.0 L177.3,401.1 L177.5,401.2 L177.6,401.1 L177.8,401.1 L178.0,401.2 L178.2,401.3 L178.4,401.4 L178.5,401.4 L178.7,401.4 L178.9,401.3 L179.1,401.4 L179.3,401.4 L179.5,401.5 L179.6,401.5 L179.8,401.6 L180.0,401.7 L180.2,401.9 L180.4,401.9 L180.6,401.9 L180.7,401.9 L180.9,401.9 L181.1,401.8 L181.3,401.7 L181.5,401.7 L181.7,401.7 L181.8,401.5 L182.0,401.3 L182.2,401.4 L182.4,401.6 L182.6,401.7 L182.7,401.7 L182.9,401.6 L183.1,401.6 L183.3,401.8 L183.5,402.0 L183.7,402.0 L183.8,401.9 L184.0,401.8 L184.2,401.9 L184.4,401.8 L184.6,401.7 L184.8,401.7 L184.9,401.7 L185.1,401.7 L185.3,401.8 L185.5,401.7 L185.7,401.7 L185.8,401.6 L186.0,401.4 L186.2,401.3 L186.4,401.3 L186.6,401.2 L186.8,401.3 L186.9,401.2 L187.1,401.3 L187.3,401.4 L187.5,401.5 L187.7,401.6 L187.9,401.6 L188.0,401.5 L188.2,401.4 L188.4,401.3 L188.6,401.2 L188.8,401.1 L189.0,401.0 L189.1,400.9 L189.3,400.9 L189.5,400.9 L189.7,400.8 L189.9,400.7 L190.0,400.7 L190.2,400.7 L190.4,400.7 L190.6,400.7 L190.8,400.7 L191.0,400.4 L191.1,400.1 L191.3,400.0 L191.5,399.8 L191.7,399.6 L191.9,399.5 L192.1,399.4 L192.2,399.3 L192.4,399.1 L192.6,399.1 L192.8,399.0 L193.0,398.8 L193.1,398.8 L193.3,398.7 L193.5,398.8 L193.7,398.9 L193.9,399.0 L194.1,398.9 L194.2,398.8 L194.4,398.7 L194.6,398.6 L194.8,398.5 L195.0,398.4 L195.2,398.4 L195.3,398.2 L195.5,398.1 L195.7,397.9 L195.9,397.8 L196.1,397.7 L196.3,397.5 L196.4,397.4 L196.6,397.3 L196.8,397.3 L197.0,397.2 L197.2,397.1 L197.3,397.0 L197.5,397.0 L197.7,396.9 L197.9,396.7 L198.1,396.5 L198.3,396.4 L198.4,396.4 L198.6,396.3 L198.8,396.1 L199.0,395.8 L199.2,395.8 L199.4,395.7 L199.5,395.4 L199.7,395.1 L199.9,394.8 L200.1,394.8 L200.3,394.7 L200.4,394.4 L200.6,394.3 L200.8,394.1 L201.0,394.0 L201.2,393.9 L201.4,393.7 L201.5,393.5 L201.7,393.5 L201.9,393.4 L202.1,393.2 L202.3,393.0 L202.5,392.8 L202.6,392.6 L202.8,392.3 L203.0,392.0 L203.2,391.8 L203.4,391.5 L203.6,391.1 L203.7,390.9 L203.9,390.7 L204.1,390.5 L204.3,390.2 L204.5,389.9 L204.6,389.8 L204.8,389.6 L205.0,389.3 L205.2,389.1 L205.4,388.9 L205.6,388.7 L205.7,388.4 L205.9,388.0 L206.1,387.7 L206.3,387.4 L206.5,387.2 L206.7,387.0 L206.8,386.8 L207.0,386.4 L207.2,386.0 L207.4,385.6 L207.6,385.2 L207.7,384.9 L207.9,384.6 L208.1,384.3 L208.3,383.9 L208.5,383.6 L208.7,383.2 L208.8,382.9 L209.0,382.6 L209.2,382.2 L209.4,381.9 L209.6,381.5 L209.8,381.0 L209.9,380.5 L210.1,380.0 L210.3,379.5 L210.5,379.2 L210.7,378.7 L210.9,378.2 L211.0,377.7 L211.2,377.1 L211.4,376.5 L211.6,376.0 L211.8,375.5 L211.9,375.0 L212.1,374.5 L212.3,373.9 L212.5,373.2 L212.7,372.6 L212.9,372.1 L213.0,371.6 L213.2,370.9 L213.4,370.0 L213.6,369.2 L213.8,368.4 L214.0,367.7 L214.1,367.0 L214.3,366.3 L214.5,365.8 L214.7,365.0 L214.9,364.2 L215.0,363.5 L215.2,362.8 L215.4,362.1 L215.6,361.4 L215.8,360.8 L216.0,360.1 L216.1,359.3 L216.3,358.6 L216.5,357.9 L216.7,357.1 L216.9,356.3 L217.1,355.4 L217.2,354.5 L217.4,353.7 L217.6,353.0 L217.8,352.3 L218.0,351.6 L218.2,350.9 L218.3,350.3 L218.5,349.7 L218.7,349.1 L218.9,348.5 L219.1,348.0 L219.2,347.5 L219.4,347.0 L219.6,346.6 L219.8,346.2 L220.0,345.9 L220.2,345.6 L220.3,345.5 L220.5,345.4 L220.7,345.3 L220.9,345.3 L221.1,345.3 L221.3,345.4 L221.4,345.5 L221.6,345.7 L221.8,345.8 L222.0,346.1 L222.2,346.5 L222.3,346.9 L222.5,347.4 L222.7,348.0 L222.9,348.7 L223.1,349.2 L223.3,349.8 L223.4,350.3 L223.6,350.9 L223.8,351.6 L224.0,352.4 L224.2,353.3 L224.4,354.2 L224.5,355.0 L224.7,355.8 L224.9,356.7 L225.1,357.5 L225.3,358.3 L225.5,359.2 L225.6,360.1 L225.8,361.0 L226.0,361.8 L226.2,362.7 L226.4,363.7 L226.5,364.7 L226.7,365.6 L226.9,366.6 L227.1,367.5 L227.3,368.4 L227.5,369.2 L227.6,370.0 L227.8,370.8 L228.0,371.6 L228.2,372.3 L228.4,373.2 L228.6,374.1 L228.7,374.8 L228.9,375.6 L229.1,376.6 L229.3,377.4 L229.5,378.1 L229.6,378.8 L229.8,379.6 L230.0,380.2 L230.2,380.8 L230.4,381.6 L230.6,382.3 L230.7,383.1 L230.9,383.9 L231.1,384.6 L231.3,385.2 L231.5,385.8 L231.7,386.3 L231.8,386.8 L232.0,387.4 L232.2,387.9 L232.4,388.4 L232.6,389.0 L232.8,389.5 L232.9,389.9 L233.1,390.3 L233.3,390.9 L233.5,391.3 L233.7,391.7 L233.8,392.0 L234.0,392.3 L234.2,392.7 L234.4,393.1 L234.6,393.4 L234.8,393.7 L234.9,394.3 L235.1,394.8 L235.3,395.2 L235.5,395.6 L235.7,396.1 L235.9,396.6 L236.0,397.1 L236.2,397.4 L236.4,397.7 L236.6,398.0 L236.8,398.3 L236.9,398.6 L237.1,399.0 L237.3,399.2 L237.5,399.4 L237.7,399.7 L237.9,399.9 L238.0,400.0 L238.2,400.3 L238.4,400.6 L238.6,400.9 L238.8,401.0 L239.0,401.4 L239.1,401.8 L239.3,402.1 L239.5,402.3 L239.7,402.4 L239.9,402.5 L240.1,402.7 L240.2,402.8 L240.4,402.8 L240.6,403.0 L240.8,403.1 L241.0,403.3 L241.1,403.7 L241.3,404.0 L241.5,404.3 L241.7,404.5 L241.9,404.7 L242.1,404.8 L242.2,404.9 L242.4,405.0 L242.6,405.1 L242.8,405.1 L243.0,405.2 L243.2,405.4 L243.3,405.7 L243.5,405.9 L243.7,406.1 L243.9,406.4 L244.1,406.5 L244.2,406.7 L244.4,407.0 L244.6,407.1 L244.8,407.0 L245.0,407.1 L245.2,407.2 L245.3,407.2 L245.5,407.3 L245.7,407.5 L245.9,407.5 L246.1,407.6 L246.3,407.7 L246.4,407.8 L246.6,407.9 L246.8,408.0 L247.0,408.1 L247.2,408.2 L247.4,408.2 L247.5,408.3 L247.7,408.3 L247.9,408.4 L248.1,408.5 L248.3,408.6 L248.4,408.9 L248.6,409.0 L248.8,409.1 L249.0,409.3 L249.2,409.5 L249.4,409.5 L249.5,409.6 L249.7,409.8 L249.9,409.9 L250.1,410.1 L250.3,410.2 L250.5,410.3 L250.6,410.5 L250.8,410.6 L251.0,410.6 L251.2,410.5 L251.4,410.6 L251.5,410.6 L251.7,410.4 L251.9,410.2 L252.1,410.3 L252.3,410.5 L252.5,410.6 L252.6,410.6 L252.8,410.7 L253.0,410.9 L253.2,411.0 L253.4,411.1 L253.6,411.3 L253.7,411.3 L253.9,411.2 L254.1,411.2 L254.3,411.3 L254.5,411.4 L254.7,411.3 L254.8,411.4 L255.0,411.3 L255.2,411.4 L255.4,411.6 L255.6,411.8 L255.7,411.9 L255.9,411.9 L256.1,411.8 L256.3,411.9 L256.5,412.0 L256.7,412.2 L256.8,412.3 L257.0,412.4 L257.2,412.3 L257.4,412.3 L257.6,412.4 L257.8,412.5 L257.9,412.5 L258.1,412.6 L258.3,412.6 L258.5,412.5 L258.7,412.5 L258.8,412.7 L259.0,412.7 L259.2,412.8 L259.4,412.9 L259.6,413.0 L259.8,413.0 L259.9,412.8 L260.1,412.7 L260.3,412.8 L260.5,412.9 L260.7,413.0 L260.9,413.0 L261.0,413.1 L261.2,413.3 L261.4,413.4 L261.6,413.4 L261.8,413.6 L262.0,413.6 L262.1,413.7 L262.3,413.7 L262.5,413.7 L262.7,413.7 L262.9,413.8 L263.0,413.8 L263.2,413.8 L263.4,413.8 L263.6,413.8 L263.8,413.7 L264.0,413.7 L264.1,413.8 L264.3,413.9 L264.5,413.9 L264.7,414.0 L264.9,414.2 L265.1,414.4 L265.2,414.5 L265.4,414.6 L265.6,414.7 L265.8,414.8 L266.0,414.7 L266.1,414.6 L266.3,414.7 L266.5,414.6 L266.7,414.6 L266.9,414.6 L267.1,414.6 L267.2,414.5 L267.4,414.5 L267.6,414.4 L267.8,414.3 L268.0,414.2 L268.2,414.3 L268.3,414.4 L268.5,414.3 L268.7,414.5 L268.9,414.6 L269.1,414.6 L269.3,414.6 L269.4,414.9 L269.6,415.1 L269.8,415.2 L270.0,415.2 L270.2,415.4 L270.3,415.4 L270.5,415.4 L270.7,415.4 L270.9,415.5 L271.1,415.5 L271.3,415.5 L271.4,415.4 L271.6,415.4 L271.8,415.4 L272.0,415.3 L272.2,415.2 L272.4,415.1 L272.5,415.2 L272.7,415.2 L272.9,415.1 L273.1,415.1 L273.3,415.2 L273.4,415.3 L273.6,415.4 L273.8,415.5 L274.0,415.4 L274.2,415.4 L274.4,415.4 L274.5,415.2 L274.7,415.0 L274.9,415.0 L275.1,415.1 L275.3,415.1 L275.5,415.1 L275.6,415.1 L275.8,415.1 L276.0,415.0 L276.2,415.0 L276.4,415.0 L276.6,414.9 L276.7,414.9 L276.9,415.0 L277.1,415.0 L277.3,414.9 L277.5,414.9 L277.6,414.9 L277.8,414.8 L278.0,414.7 L278.2,414.7 L278.4,414.8 L278.6,414.8 L278.7,414.7 L278.9,414.7 L279.1,414.6 L279.3,414.5 L279.5,414.4 L279.7,414.3 L279.8,414.1 L280.0,413.9 L280.2,413.8 L280.4,413.8 L280.6,413.6 L280.7,413.6 L280.9,413.6 L281.1,413.4 L281.3,413.4 L281.5,413.4 L281.7,413.4 L281.8,413.4 L282.0,413.1 L282.2,413.0 L282.4,413.1 L282.6,413.1 L282.8,412.9 L282.9,412.7 L283.1,412.6 L283.3,412.4 L283.5,412.3 L283.7,412.2 L283.9,412.0 L284.0,411.9 L284.2,411.9 L284.4,411.8 L284.6,411.7 L284.8,411.4 L284.9,411.1 L285.1,411.0 L285.3,410.9 L285.5,410.9 L285.7,410.8 L285.9,410.6 L286.0,410.4 L286.2,410.4 L286.4,410.3 L286.6,410.1 L286.8,410.0 L287.0,409.8 L287.1,409.8 L287.3,409.8 L287.5,409.9 L287.7,409.9 L287.9,410.0 L288.0,410.0 L288.2,409.9 L288.4,409.8 L288.6,409.9 L288.8,410.0 L289.0,410.0 L289.1,410.0 L289.3,410.1 L289.5,410.3 L289.7,410.5 L289.9,410.5 L290.1,410.7 L290.2,410.8 L290.4,411.0 L290.6,411.2 L290.8,411.3 L291.0,411.3 L291.2,411.4 L291.3,411.4 L291.5,411.4 L291.7,411.5 L291.9,411.6 L292.1,411.8 L292.2,411.9 L292.4,411.9 L292.6,412.1 L292.8,412.4 L293.0,412.5 L293.2,412.6 L293.3,412.8 L293.5,413.0 L293.7,413.2 L293.9,413.5 L294.1,413.6 L294.3,413.8 L294.4,414.1 L294.6,414.4 L294.8,414.5 L295.0,414.7 L295.2,414.8 L295.3,414.8 L295.5,414.9 L295.7,414.9 L295.9,415.0 L296.1,415.1 L296.3,415.1 L296.4,415.1 L296.6,415.3 L296.8,415.4 L297.0,415.4 L297.2,415.4 L297.4,415.5 L297.5,415.5 L297.7,415.5 L297.9,415.5 L298.1,415.5 L298.3,415.6 L298.5,415.7 L298.6,415.7 L298.8,415.7 L299.0,415.7 L299.2,415.8 L299.4,415.8 L299.5,415.9 L299.7,415.8 L299.9,415.8 L300.1,415.9 L300.3,416.0 L300.5,416.2 L300.6,416.2 L300.8,416.2 L301.0,416.2 L301.2,416.2 L301.4,416.2 L301.6,416.3 L301.7,416.4 L301.9,416.5 L302.1,416.4 L302.3,416.5 L302.5,416.5 L302.6,416.5 L302.8,416.4 L303.0,416.5 L303.2,416.7 L303.4,416.7 L303.6,416.7 L303.7,416.7 L303.9,416.8 L304.1,416.7 L304.3,416.6 L304.5,416.5 L304.7,416.5 L304.8,416.5 L305.0,416.6 L305.2,416.6 L305.4,416.7 L305.6,416.8 L305.8,416.9 L305.9,416.9 L306.1,417.0 L306.3,416.9 L306.5,416.9 L306.7,416.9 L306.8,417.0 L307.0,417.0 L307.2,417.0 L307.4,417.1 L307.6,417.1 L307.8,417.0 L307.9,417.1 L308.1,417.2 L308.3,417.3 L308.5,417.3 L308.7,417.3 L308.9,417.2 L309.0,417.3 L309.2,417.4 L309.4,417.6 L309.6,417.5 L309.8,417.4 L309.9,417.5 L310.1,417.5 L310.3,417.6 L310.5,417.6 L310.7,417.7 L310.9,417.7 L311.0,417.6 L311.2,417.5 L311.4,417.5 L311.6,417.6 L311.8,417.7 L312.0,417.7 L312.1,417.7 L312.3,417.6 L312.5,417.6 L312.7,417.8 L312.9,417.8 L313.1,417.8 L313.2,417.8 L313.4,417.9 L313.6,418.1 L313.8,418.1 L314.0,418.0 L314.1,418.0 L314.3,418.1 L314.5,418.2 L314.7,418.3 L314.9,418.2 L315.1,418.1 L315.2,418.0 L315.4,418.0 L315.6,417.9 L315.8,417.9 L316.0,418.1 L316.2,418.3 L316.3,418.3 L316.5,418.3 L316.7,418.3 L316.9,418.4 L317.1,418.3 L317.2,418.4 L317.4,418.4 L317.6,418.3 L317.8,418.3 L318.0,418.4 L318.2,418.5 L318.3,418.5 L318.5,418.5 L318.7,418.5 L318.9,418.6 L319.1,418.6 L319.3,418.6 L319.4,418.7 L319.6,418.9 L319.8,419.0 L320.0,419.0 L320.2,419.0 L320.4,419.1 L320.5,419.1 L320.7,419.1 L320.9,419.2 L321.1,419.1 L321.3,419.0 L321.4,419.0 L321.6,419.0 L321.8,419.0 L322.0,419.0 L322.2,419.1 L322.4,419.1 L322.5,419.1 L322.7,419.2 L322.9,419.2 L323.1,419.3 L323.3,419.3 L323.5,419.3 L323.6,419.2 L323.8,419.3 L324.0,419.4 L324.2,419.3 L324.4,419.3 L324.5,419.2 L324.7,419.2 L324.9,419.3 L325.1,419.4 L325.3,419.5 L325.5,419.6 L325.6,419.6 L325.8,419.5 L326.0,419.5 L326.2,419.5 L326.4,419.4 L326.6,419.4 L326.7,419.6 L326.9,419.7 L327.1,419.6 L327.3,419.5 L327.5,419.5 L327.7,419.5 L327.8,419.6 L328.0,419.5 L328.2,419.6 L328.4,419.6 L328.6,419.7 L328.7,419.8 L328.9,419.8 L329.1,419.8 L329.3,419.8 L329.5,419.8 L329.7,419.8 L329.8,419.9 L330.0,420.0 L330.2,420.0 L330.4,419.9 L330.6,420.0 L330.8,420.1 L330.9,420.2 L331.1,420.2 L331.3,420.1 L331.5,420.1 L331.7,420.1 L331.8,420.2 L332.0,420.1 L332.2,420.0 L332.4,420.1 L332.6,420.1 L332.8,420.2 L332.9,420.4 L333.1,420.5 L333.3,420.6 L333.5,420.6 L333.7,420.5 L333.9,420.5 L334.0,420.5 L334.2,420.5 L334.4,420.5 L334.6,420.5 L334.8,420.6 L335.0,420.7 L335.1,420.7 L335.3,420.7 L335.5,420.8 L335.7,420.9 L335.9,420.9 L336.0,421.1 L336.2,421.1 L336.4,421.0 L336.6,421.0 L336.8,420.9 L337.0,420.9 L337.1,421.0 L337.3,421.2 L337.5,421.2 L337.7,421.2 L337.9,421.2 L338.1,421.1 L338.2,421.0 L338.4,421.0 L338.6,420.9 L338.8,421.0 L339.0,421.0 L339.1,421.0 L339.3,420.9 L339.5,421.0 L339.7,421.0 L339.9,421.0 L340.1,421.1 L340.2,421.2 L340.4,421.1 L340.6,421.1 L340.8,421.2 L341.0,421.2 L341.2,421.0 L341.3,421.0 L341.5,421.0 L341.7,421.1 L341.9,421.2 L342.1,421.4 L342.3,421.3 L342.4,421.3 L342.6,421.3 L342.8,421.2 L343.0,421.2 L343.2,421.2 L343.3,421.1 L343.5,421.3 L343.7,421.5 L343.9,421.4 L344.1,421.4 L344.3,421.5 L344.4,421.5 L344.6,421.5 L344.8,421.6 L345.0,421.6 L345.2,421.5 L345.4,421.5 L345.5,421.7 L345.7,421.8 L345.9,421.8 L346.1,421.8 L346.3,421.8 L346.4,421.8 L346.6,421.8 L346.8,421.9 L347.0,421.9 L347.2,421.8 L347.4,421.9 L347.5,421.9 L347.7,421.8 L347.9,421.8 L348.1,422.0 L348.3,421.9 L348.5,421.9 L348.6,422.0 L348.8,422.1 L349.0,422.2 L349.2,422.2 L349.4,422.1 L349.6,422.0 L349.7,421.9 L349.9,422.0 L350.1,422.0 L350.3,422.0 L350.5,422.0 L350.6,422.0 L350.8,422.0 L351.0,422.0 L351.2,422.2 L351.4,422.2 L351.6,422.1 L351.7,422.1 L351.9,422.2 L352.1,422.3 L352.3,422.2 L352.5,422.2 L352.7,422.1 L352.8,421.9 L353.0,422.0 L353.2,422.1 L353.4,422.1 L353.6,422.0 L353.7,422.0 L353.9,422.2 L354.1,422.3 L354.3,422.2 L354.5,422.3 L354.7,422.5 L354.8,422.5 L355.0,422.4 L355.2,422.3 L355.4,422.3 L355.6,422.4 L355.8,422.6 L355.9,422.7 L356.1,422.7 L356.3,422.6 L356.5,422.6 L356.7,422.6 L356.9,422.5 L357.0,422.5 L357.2,422.6 L357.4,422.7 L357.6,422.8 L357.8,422.8 L357.9,422.7 L358.1,422.7 L358.3,422.8 L358.5,422.8 L358.7,422.6 L358.9,422.4 L359.0,422.4 L359.2,422.6 L359.4,422.7 L359.6,422.8 L359.8,422.9 L360.0,422.9 L360.1,422.9 L360.3,422.9 L360.5,423.0 L360.7,423.1 L360.9,423.0 L361.0,422.8 L361.2,422.9 L361.4,423.0 L361.6,422.9 L361.8,422.8 L362.0,422.8 L362.1,422.9 L362.3,422.8 L362.5,422.7 L362.7,422.7 L362.9,422.8 L363.1,422.8 L363.2,423.0 L363.4,423.2 L363.6,423.0 L363.8,422.9 L364.0,423.1 L364.2,423.1 L364.3,423.1 L364.5,423.2 L364.7,423.4 L364.9,423.6 L365.1,423.7 L365.2,423.8 L365.4,423.8 L365.6,423.7 L365.8,423.6 L366.0,423.5 L366.2,423.4 L366.3,423.3 L366.5,423.3 L366.7,423.3 L366.9,423.4 L367.1,423.4 L367.3,423.5 L367.4,423.6 L367.6,423.7 L367.8,423.9 L368.0,424.0 L368.2,424.0 L368.3,424.0 L368.5,423.9 L368.7,423.9 L368.9,423.8 L369.1,423.5 L369.3,423.4 L369.4,423.5 L369.6,423.5 L369.8,423.5 L370.0,423.5 L370.2,423.6 L370.4,423.7 L370.5,423.7 L370.7,423.8 L370.9,423.7 L371.1,423.7 L371.3,423.7 L371.5,423.6 L371.6,423.5 L371.8,423.6 L372.0,423.6 L372.2,423.6 L372.4,423.6 L372.5,423.6 L372.7,423.7 L372.9,423.8 L373.1,423.9 L373.3,423.9 L373.5,423.8 L373.6,423.8 L373.8,423.7 L374.0,423.5 L374.2,423.5 L374.4,423.6 L374.6,423.6 L374.7,423.8 L374.9,423.9 L375.1,424.0 L375.3,424.2 L375.5,424.2 L375.6,424.3 L375.8,424.4 L376.0,424.3 L376.2,424.3 L376.4,424.4 L376.6,424.2 L376.7,424.1 L376.9,424.1 L377.1,424.1 L377.3,424.1 L377.5,424.3 L377.7,424.5 L377.8,424.5 L378.0,424.6 L378.2,424.7 L378.4,424.8 L378.6,424.7 L378.8,424.6 L378.9,424.5 L379.1,424.6 L379.3,424.7 L379.5,424.7 L379.7,424.7 L379.8,424.8 L380.0,424.9 L380.2,425.0 L380.4,425.0 L380.6,425.2 L380.8,425.2 L380.9,425.0 L381.1,424.9 L381.3,424.9 L381.5,424.8 L381.7,424.8 L381.9,424.8 L382.0,424.8 L382.2,424.7 L382.4,424.6 L382.6,424.7 L382.8,424.9 L382.9,424.9 L383.1,424.9 L383.3,425.0 L383.5,425.1 L383.7,425.2 L383.9,425.2 L384.0,425.1 L384.2,425.1 L384.4,425.0 L384.6,424.9 L384.8,424.7 L385.0,424.7 L385.1,424.7 L385.3,424.7 L385.5,424.7 L385.7,424.8 L385.9,424.8 L386.1,424.7 L386.2,424.9 L386.4,425.0 L386.6,425.0 L386.8,425.0 L387.0,425.1 L387.1,425.1 L387.3,425.1 L387.5,425.1 L387.7,425.1 L387.9,425.1 L388.1,425.1 L388.2,425.1 L388.4,425.3 L388.6,425.3 L388.8,425.3 L389.0,425.3 L389.2,425.3 L389.3,425.3 L389.5,425.3 L389.7,425.3 L389.9,425.4 L390.1,425.4 L390.2,425.4 L390.4,425.5 L390.6,425.7 L390.8,425.7 L391.0,425.8 L391.2,425.8 L391.3,425.7 L391.5,425.7 L391.7,425.7 L391.9,425.7 L392.1,425.7 L392.3,425.7 L392.4,425.6 L392.6,425.6 L392.8,425.5 L393.0,425.7 L393.2,425.7 L393.4,425.7 L393.5,425.7 L393.7,425.8 L393.9,425.9 L394.1,426.0 L394.3,425.9 L394.4,425.8 L394.6,425.9 L394.8,426.0 L395.0,426.1 L395.2,426.1 L395.4,426.0 L395.5,426.1 L395.7,426.1 L395.9,426.1 L396.1,426.0 L396.3,425.9 L396.5,425.8 L396.6,425.7 L396.8,425.6 L397.0,425.5 L397.2,425.5 L397.4,425.6 L397.5,425.8 L397.7,426.0 L397.9,426.2 L398.1,426.5 L398.3,426.7 L398.5,426.6 L398.6,426.6 L398.8,426.6 L399.0,426.7 L399.2,426.7 L399.4,426.7 L399.6,426.8 L399.7,426.9 L399.9,427.1 L400.1,427.1 L400.3,427.1 L400.5,427.0 L400.7,427.1 L400.8,427.1 L401.0,427.1 L401.2,427.1 L401.4,427.2 L401.6,427.2 L401.7,427.2 L401.9,427.2 L402.1,427.2 L402.3,427.3 L402.5,427.2 L402.7,427.1 L402.8,427.1 L403.0,427.0 L403.2,426.9 L403.4,427.1 L403.6,427.1 L403.8,427.2 L403.9,427.2 L404.1,427.2 L404.3,427.1 L404.5,427.2 L404.7,427.2 L404.8,427.3 L405.0,427.3 L405.2,427.3 L405.4,427.3 L405.6,427.3 L405.8,427.4 L405.9,427.5 L406.1,427.5 L406.3,427.6 L406.5,427.6 L406.7,427.6 L406.9,427.5 L407.0,427.6 L407.2,427.7 L407.4,427.6 L407.6,427.6 L407.8,427.7 L408.0,427.6 L408.1,427.5 L408.3,427.5 L408.5,427.6 L408.7,427.6 L408.9,427.6 L409.0,427.7 L409.2,427.8 L409.4,427.8 L409.6,427.8 L409.8,427.8 L410.0,427.8 L410.1,427.7 L410.3,427.7 L410.5,427.6 L410.7,427.7 L410.9,427.8 L411.1,427.9 L411.2,428.0 L411.4,428.0 L411.6,427.9 L411.8,427.8 L412.0,427.7 L412.1,427.7 L412.3,427.8 L412.5,427.7 L412.7,427.6 L412.9,427.6 L413.1,427.7 L413.2,427.8 L413.4,427.9 L413.6,427.8 L413.8,427.7 L414.0,427.6 L414.2,427.7 L414.3,427.8 L414.5,427.7 L414.7,427.7 L414.9,427.7 L415.1,427.6 L415.3,427.6 L415.4,427.5 L415.6,427.5 L415.8,427.5 L416.0,427.5 L416.2,427.5 L416.3,427.4 L416.5,427.4 L416.7,427.4 L416.9,427.5 L417.1,427.4 L417.3,427.2 L417.4,427.0 L417.6,427.0 L417.8,427.0 L418.0,426.9 L418.2,426.8 L418.4,426.9 L418.5,426.9 L418.7,427.0 L418.9,427.0 L419.1,427.0 L419.3,426.9 L419.4,426.7 L419.6,426.6 L419.8,426.6 L420.0,426.6 L420.2,426.6 L420.4,426.5 L420.5,426.5 L420.7,426.6 L420.9,426.6 L421.1,426.7 L421.3,426.7 L421.5,426.8 L421.6,426.8 L421.8,426.8 L422.0,426.8 L422.2,426.7 L422.4,426.6 L422.6,426.5 L422.7,426.5 L422.9,426.5 L423.1,426.5" fill="none" stroke="#0f830f" stroke-width="3.2" stroke-linejoin="round" stroke-linecap="round"/>
<rect x="148.4" y="233.2" width="274.7" height="200.8" fill="none" stroke="#000" stroke-width="2"/>
<line x1="204.1" y1="434.0" x2="204.1" y2="438.6" stroke="#000" stroke-width="1.8"/>
<text x="204.1" y="452" font-family='"Liberation Sans", sans-serif' font-size="13.3" font-weight="bold" fill="#000" text-anchor="middle" textLength="14.9" lengthAdjust="spacingAndGlyphs">20</text>
<line x1="277.1" y1="434.0" x2="277.1" y2="438.6" stroke="#000" stroke-width="1.8"/>
<text x="277.1" y="452" font-family='"Liberation Sans", sans-serif' font-size="13.3" font-weight="bold" fill="#000" text-anchor="middle" textLength="14.9" lengthAdjust="spacingAndGlyphs">40</text>
<line x1="350.1" y1="434.0" x2="350.1" y2="438.6" stroke="#000" stroke-width="1.8"/>
<text x="350.1" y="452" font-family='"Liberation Sans", sans-serif' font-size="13.3" font-weight="bold" fill="#000" text-anchor="middle" textLength="14.9" lengthAdjust="spacingAndGlyphs">60</text>
<line x1="423.1" y1="434.0" x2="423.1" y2="438.6" stroke="#000" stroke-width="1.8"/>
<text x="423.1" y="452" font-family='"Liberation Sans", sans-serif' font-size="13.3" font-weight="bold" fill="#000" text-anchor="middle" textLength="14.9" lengthAdjust="spacingAndGlyphs">80</text>
<text x="286.4" y="468.2" font-family='"Liberation Sans", sans-serif' font-size="12.6" font-weight="bold" fill="#000" text-anchor="middle" textLength="89.4" lengthAdjust="spacingAndGlyphs">2θ (Degrees)</text>
<text x="139.6" y="343.7" font-family='"Liberation Serif", serif' font-size="14.6" font-weight="bold" fill="#000" text-anchor="middle" transform="rotate(-90 139.6 343.7)" textLength="93.8" lengthAdjust="spacingAndGlyphs">Intensity (a.u)</text>
<text x="385.2" y="255.2" font-family='"Liberation Serif", serif' font-size="23" font-weight="bold" fill="#000" text-anchor="start" textLength="25.8" lengthAdjust="spacingAndGlyphs">(c)</text>
<text x="174.6" y="246.9" font-family='"Liberation Serif", serif' font-size="11.6" font-weight="bold" fill="#ff0808" text-anchor="start" textLength="25.8" lengthAdjust="spacingAndGlyphs">(001)</text>
<text x="210.2" y="341" font-family='"Liberation Serif", serif' font-size="11.6" font-weight="bold" fill="#0f830f" text-anchor="start" textLength="26.2" lengthAdjust="spacingAndGlyphs">(002)</text>
<text x="276.7" y="403.2" font-family='"Liberation Serif", serif' font-size="11.6" font-weight="bold" fill="#0f830f" text-anchor="start" textLength="26.9" lengthAdjust="spacingAndGlyphs">(100)</text>
<text x="374.2" y="326.2" font-family='"Liberation Serif", serif' font-size="15.5" font-weight="bold" fill="#ff0808" text-anchor="start" textLength="24.6" lengthAdjust="spacingAndGlyphs">GO</text>
<text x="354" y="416.5" font-family='"Liberation Serif", serif' font-size="15.5" font-weight="bold" fill="#0f830f" text-anchor="start" textLength="64.6" lengthAdjust="spacingAndGlyphs">N, S-rGO</text>
</svg></body></html>
